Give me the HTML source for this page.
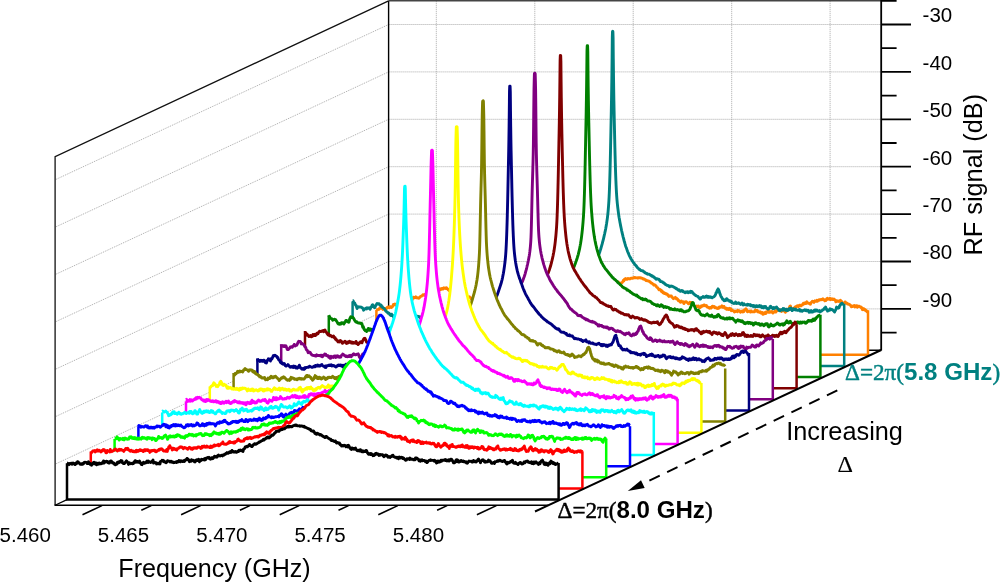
<!DOCTYPE html>
<html><head><meta charset="utf-8"><title>RF signal waterfall</title>
<style>
html,body{margin:0;padding:0;background:#fff}
svg{display:block}
text{font-family:"Liberation Sans",Arial,sans-serif}
.sy{font-family:"Liberation Serif","Times New Roman",serif;stroke-width:0.45;paint-order:stroke}
#tr path{stroke-linejoin:round;stroke-linecap:butt}
#tr .p{stroke-width:2.5;stroke-linejoin:miter;fill:none}
#tr .c{stroke-width:2.9;fill:none}
</style></head><body>
<svg width="1000" height="583" viewBox="0 0 1000 583">
<rect width="1000" height="583" fill="#fff"/>
<path d="M388.6,24.5H881.2M388.6,24.5L55.1,179.8M388.6,71.9H881.2M388.6,71.9L55.1,227.2M388.6,119.3H881.2M388.6,119.3L55.1,274.6M388.6,166.7H881.2M388.6,166.7L55.1,322.0M388.6,214.1H881.2M388.6,214.1L55.1,369.4M388.6,261.5H881.2M388.6,261.5L55.1,416.8M388.6,308.9H881.2M388.6,308.9L55.1,464.2M436.3,0.8V350M534.8,0.8V350M633.2,0.8V350M731.7,0.8V350M830.1,0.8V350" fill="none" stroke="#a0a0a0" stroke-width="0.9" stroke-dasharray="1 1"/>
<path d="M55.1,505.3V156.7L388.6,0.8" fill="none" stroke="#111" stroke-width="1.3"/><path d="M388.6,0.8V350" fill="none" stroke="#000" stroke-width="1.4"/><path d="M388.6,0.8H881.2" fill="none" stroke="#444" stroke-width="1.6"/><path d="M388.6,350.2H881.2" fill="none" stroke="#000" stroke-width="1.5"/><path d="M881.2,0V350.6M881.2,24.5H911M881.2,71.9H911M881.2,119.3H911M881.2,166.7H911M881.2,214.1H911M881.2,261.5H911M881.2,308.9H911M881.2,0.8H896.6M881.2,48.2H896.6M881.2,95.6H896.6M881.2,143.0H896.6M881.2,190.4H896.6M881.2,237.8H896.6M881.2,285.2H896.6M881.2,332.6H896.6" fill="none" stroke="#000" stroke-width="1.8"/>
<g id="tr">
<path d="M376.4,354.8l0-44.4 2.4-.4 2.4-.6 2.4-.6 2.4-.7 2.4-.8 2.4-.7 2.4-.7 2.4-.7 2.4-.6 2.4-.7 2.4-.7 2.4-.8 2.4-.7 2.4-.8 2.4-.8 2.4-.8 2.4-.9 2.4-1 2.4-1 2.4-1.1 2.4-1 2.4-1.1 2.4-1 2.4-1 2.4-1 2.4-.7 2.4-.7 2.4-.4 2.4,.2 2.4,.6 2.4,.6 2.4,.9 2.4,1.1 2.4,1 2.4,1.1 2.4,1.1 2.4,1 2.4,1.1 2.4,.9 2.4,.9 2.4,.9 2.4,.9 2.4,.8 2.4,.8 2.4,.7 2.4,.7 2.4,.5 2.4,.5 2.4,.5 2.4,.4 2.4,.5 2.4,.4 2.4,.4 2.4,.4 2.4,.3 2.4,.3 2.4,.2 2.4,.2 2.4,.1 2.4,0 2.4,0 2.4,0 2.4,0 2.4,0 2.4,0 2.4,0 2.4,0 2.4,0 2.4,0 2.4,0 2.4,0 2.4,0 2.4,0 2.4,0 2.4,0 2.4,0 2.4,0 2.4-.1 2.4-.2 2.4-.2 2.4-.3 2.4-.4 2.4-.4 2.4-.5 2.4-.5 2.4-.6 2.4-.6 2.4-.6 2.4-.6 2.4-.7 2.4-.9 2.4-1.1 2.4-1.2 2.4-1.3 2.4-1.4 2.4-1.6 2.4-2.1 2.4-2.3 2.4-2.3 2.4-2.2 2.4-1.8 2.4-1.6 2.4-1.4 2.4-1.1 2.4-.9 2.4-.8 2.4-.6 2.4-.2 2.4,.1 2.4,.3 2.4,.5 2.4,.7 2.4,1.1 2.4,1.3 2.4,1.7 2.4,2.3 2.4,2.4 2.4,2.1 2.4,1.6 2.4,1.5 2.4,1.4 2.4,1.2 2.4,1.2 2.4,1.2 2.4,1 2.4,.9 2.4,.8 2.4,.7 2.4,.7 2.4,.7 2.4,.6 2.4,.6 2.4,.5 2.4,.5 2.4,.4 2.4,.5 2.4,.4 2.4,.4 2.4,.4 2.4,.4 2.4,.3 2.4,.3 2.4,.3 2.4,.3 2.4,.3 2.4,.3 2.4,.3 2.4,.3 2.4,.2 2.4,.2 2.4,.2 2.4,.2 2.4,.2 2.4,.1 2.4,.2 2.4,.2 2.4,.1 2.4,.1 2.4,.1 2.4,.1 2.4,0 2.4,0 2.4-.2 2.4-.1 2.4-.3 2.4-.3 2.4-.3 2.4-.3 2.4-.4 2.4-.3 2.4-.6 2.4-.6 2.4-.7 2.4-.8 2.4-.9 2.4-.8 2.4-.8 2.4-.7 2.4-.6 2.4-.7 2.4-.7 2.4-.5 2.4-.4 2.4-.3 2.4-.3 2.4-.2 2.4-.1 2.4,.1 2.4,.2 2.4,.2 2.4,.3 2.4,.3 2.4,.4 2.4,.4 2.4,.5 2.4,.6 2.4,.8 2.4,.9 2.4,1 2.4,.9 2.4,.9 2.4,.8 2.4,.7 2.4,.7 2,.6 0,44.1z" fill="#fff"/>
<path class="p" d="M376.4,310V354.8H868V310.3" stroke="#ff8000"/>
<path class="c" d="M376.4,310.1l.5-.4 .5,0 .5,.1 .5-.5 .5,0 .5-.7 .5-.8 .5,.6 .5-.1 .5-.3 .5,.3 .5,.4 .5,.7 .5-.5 .5-.5 .5,.8 .5-.6 .5,.5 .5-.5 .5,.1 .5-1 .5,.3 .5-.9 .5-.2 .5,0 .5,.8 .5-.9 .5-.2 .5,0 .5,.9 .5-.5 .5-.4 .5-.7 .5-1.5 .5,.3 .5-.3 .5-.3 .5,.9 .5,0 .5-.1 .5-.3 .5,.2 .5-.9 .5-1 .5,1.6 .5-1 .5,.5 .5,.5 .5-1.4 .5,.1 .5,.5 .5-1 .5-.6 .5,.2 .5-.6 .5,.2 .5-.5 .5-.3 .5,1 .5-.4 .5,.3 .5-.5 .5-.1 .5-1 .5-.9 .5-1.2 .5,.1 .5,1.3 .5,0 .5-.4 .5,.9 .5-1.2 .5-.6 .5-1 .5-.2 .5,.5 .5,0 .5-.1 .5-.7 .5,.9 .5,.1 .5-.1 .5,.3 .5,.1 .5,.1 .5-.8 .5-.1 .5-.9 .5-.2 .5-.1 .5-.6 .5,0 .5-.8 .5,.3 .5-.4 .5,.6 .5-.8 .5,.6 .5-.1 .5-.9 .5,0 .5-.6 .5-.9 .5,1 .5-.2 .5-.4 .5,0 .5,.3 .5,.1 .5-.2 .5-.5 .5,0 .5-.8 .5-.6 .5,.3 .5-.3 .5,.5 .5-.4 .5,.2 .5-.6 .5-.4 .5-.8 .5,0 .5-.4 .5-.4 .5,.9 .5-1 .5,.8 .5-.9 .5,.4 .5-.7 .5,.1 .5,.4 .5-1 .5-.2 .5,.4 .5,.1 .5-.1 .5,.3 .5-.7 .5,.6 .5,.3 .5,.7 .5,.3 .5,.7 .5-.6 .5,.7 .5-.2 .5,.5 .5,.4 .5,0 .5,.1 .5-.1 .5,.2 .5,.4 .5,.8 .5,.2 .5-.5 .5,1 .5,.2 .5-.5 .5-.4 .5,1 .5-.7 .5-.1 .5,.1 .5-1.2 .5,.8 .5,.7 .5,1.1 .5,.3 .5,.8 .5-.3 .5,.3 .5-.1 .5-1.1 .5,1.3 .5,.3 .5,.8 .5,.8 .5,.2 .5-.6 .5,.3 .5-.3 .5-.1 .5-.1 .5,.5 .5,.4 .5,.7 .5,.6 .5-.9 .5,.1 .5,.6 .5-.2 .5,0 .5,0 .5,0 .5,.6 .5-.9 .5,1.1 .5-1 .5,.1 .5,.1 .5,.1 .5,.7 .5,1.7 .5,.7 .5-1 .5,1 .5-.2 .5-.2 .5,1.4 .5,.7 .5-.7 .5,.5 .5,.3 .5-.3 .5,.1 .5,.1 .5-.9 .5,.7 .5,.7 .5-.7 .5,.6 .5-.2 .5,.5 .5-.3 .5,0 .5-.2 .5-.1 .5,.7 .5-.2 .5,.3 .5-1 .5,1.3 .5-1.4 .5,.1 .5,.1 .5,1.7 .5,.6 .5,.4 .5,1.4 .5-.4 .5-.1 .5-1 .5,.2 .5,.8 .5-.9 .5,.4 .5,.4 .5-1.4 .5-.5 .5,1 .5,.9 .5,.3 .5-.7 .5,.6 .5,.3 .5,.2 .5,0 .5-.4 .5,.1 .5,.1 .5,.5 .5-.4 .5,.9 .5-.5 .5,1.4 .5-.6 .5-.3 .5,.3 .5-1.8 .5-.3 .5,.4 .5-1.1 .5-.4 .5,.9 .5-1.2 .5,.5 .5,.3 .5,.9 .5,.1 .5,.5 .5-.1 .5,1 .5,.7 .5-.8 .5,1 .5-.2 .5,.6 .5-1.7 .5,.2 .5-.1 .5,0 .5,.1 .5-.4 .5-.1 .5-.4 .5-.5 .5-.4 .5,1 .5,.7 .5,.7 .5,.3 .5-1.1 .5,.5 .5,.2 .5,.1 .5,0 .5-.9 .5-.8 .5,.2 .5-.3 .5,0 .5-.1 .5,.8 .5-.6 .5,.6 .5-.5 .5,1.1 .5-.3 .5-.3 .5,1.1 .5,.3 .5-.2 .5,.3 .5,.5 .5-.5 .5-.7 .5,1.2 .5-.2 .5,.2 .5-.9 .5,.5 .5,.1 .5-.7 .5,1.4 .5-.6 .5,0 .5-.2 .5-.9 .5-1.4 .5,.3 .5,.3 .5,.7 .5-.3 .5-.3 .5,.3 .5,.6 .5-.3 .5-.4 .5-.7 .5-.1 .5-.5 .5-.4 .5-.1 .5-.1 .5,0 .5,.3 .5-.1 .5-.4 .5,1.2 .5,.9 .5,1.4 .5-.4 .5,.8 .5-.8 .5-1.6 .5-.4 .5,.1 .5,.6 .5-.7 .5,.1 .5-.8 .5-.3 .5,1.4 .5,.9 .5,.7 .5-.4 .5,.1 .5,.4 .5-.6 .5,.6 .5-1.4 .5-.2 .5-.3 .5,.5 .5-.3 .5,.6 .5,.4 .5,.3 .5,.3 .5-.8 .5-1.9 .5-.4 .5-1 .5,.5 .5,2.1 .5,.5 .5,.4 .5,0 .5-.1 .5-1.1 .5,0 .5,.2 .5-.4 .5-1.2 .5-.1 .5,.8 .5-1.7 .5,.2 .5-.5 .5,.7 .5-.2 .5,.2 .5-1.9 .5,1 .5-1 .5,.8 .5-.5 .5,.7 .5-.7 .5-.7 .5,1 .5-1.1 .5,.3 .5,.6 .5-.7 .5-.5 .5-.7 .5-.2 .5,.5 .5,.3 .5,.9 .5,.7 .5-.5 .5-1.1 .5,.4 .5-1.4 .5-.4 .5,0 .5-.8 .5,.5 .5-1 .5,.7 .5-1 .5-.2 .5-.2 .5-1 .5,0 .5-.6 .5,0 .5,.1 .5-.5 .5-.1 .5-.5 .5,.7 .5-.5 .5,.2 .5-1.3 .5,.2 .5-.2 .5-1.3 .5-1.2 .5,.3 .5-.9 .5-.7 .5-.2 .5-1 .5,.1 .5-.4 .5-.8 .5,.2 .5-.7 .5,.1 .5-.7 .5-.8 .5-2.1 .5-.2 .5-.9 .5-.3 .5-.5 .5-.4 .5-1 .5,1.2 .5,.4 .5,.1 .5,.4 .5-.9 .5-.6 .5,0 .5-.5 .5-.8 .5-1.1 .5,.6 .5-1.5 .5-.2 .5-.6 .5,.6 .5-.2 .5,.4 .5-.2 .5-.7 .5,.1 .5,.2 .5,0 .5,.2 .5-.5 .5-.2 .5,0 .5-.1 .5,.2 .5-.4 .5,0 .5-.4 .5-.2 .5,.4 .5,.1 .5-.2 .5,.1 .5,.1 .5-.1 .5,.4 .5-.4 .5,0 .5-.2 .5,.1 .5,0 .5,.3 .5,0 .5,.3 .5,.1 .5,.2 .5,.5 .5-.2 .5,.5 .5,.1 .5,.2 .5,.8 .5-.3 .5,.4 .5,.2 .5,.1 .5,.1 .5,.3 .5,0 .5,.5 .5,.3 .5,.8 .5,0 .5,.3 .5,.4 .5,.4 .5,.1 .5,1 .5-.4 .5,.4 .5,.3 .5,.3 .5,1 .5,.5 .5,.3 .5,.6 .5,.6 .5,1 .5-.4 .5,.1 .5,.4 .5,.6 .5,1 .5-.5 .5,.7 .5,1.2 .5-.7 .5,1.1 .5,.3 .5,.1 .5-.4 .5,.9 .5,.1 .5-.2 .5,.3 .5,1 .5,.4 .5,.7 .5-.2 .5-.4 .5,.1 .5,.1 .5-.1 .5,1.3 .5,.4 .5,.3 .5,.7 .5-.5 .5-.1 .5,0 .5-.6 .5,.8 .5,.7 .5-.4 .5,.7 .5,.3 .5,1.2 .5-.2 .5,.5 .5,.4 .5,.8 .5-.7 .5-.4 .5,.3 .5,.6 .5-.1 .5-.1 .5,1.7 .5-1 .5-.3 .5-.1 .5-.5 .5,.2 .5,.5 .5,.4 .5,.1 .5,.9 .5,0 .5-.7 .5-.8 .5,.6 .5-.4 .5,.3 .5,.1 .5,1.2 .5-.1 .5,1.6 .5,.1 .5,.5 .5,0 .5,.4 .5,.9 .5-.5 .5-.9 .5,.2 .5,.5 .5-.7 .5,.6 .5,.4 .5,.8 .5-1.1 .5,.2 .5-1.1 .5,.6 .5-.2 .5-.7 .5,.2 .5-.8 .5,.1 .5,.8 .5-.3 .5,.4 .5-.4 .5,1.3 .5,.5 .5-.2 .5,0 .5,.4 .5,.8 .5-.1 .5-.7 .5,.6 .5-.1 .5-1.1 .5-.7 .5,0 .5,.6 .5,.4 .5-.6 .5,1.1 .5,0 .5,0 .5,0 .5,.6 .5-.3 .5,.5 .5-.5 .5,.1 .5-1.2 .5,.3 .5,.1 .5-.5 .5-.3 .5-.6 .5,1.4 .5,.1 .5,0 .5-1 .5,1.1 .5,.8 .5,0 .5-.3 .5,1.3 .5,.1 .5-.8 .5,.4 .5-.1 .5,.5 .5-1.1 .5,.1 .5,.5 .5,.2 .5,1.6 .5-.9 .5,.8 .5,0 .5,0 .5,.7 .5,.8 .5-.9 .5,.4 .5-.4 .5-.1 .5-.4 .5,1 .5-1.4 .5,.7 .5-.1 .5-.1 .5,.7 .5,.7 .5-.6 .5,0 .5-.4 .5-.3 .5,1 .5-1.2 .5,.8 .5-1.4 .5-.3 .5-.4 .5-.7 .5,.8 .5,.9 .5,1.3 .5,0 .5-.4 .5-.2 .5,.1 .5,.2 .5,.5 .5-1 .5,.8 .5,0 .5,.2 .5-.3 .5,.2 .5-.3 .5,.3 .5-.4 .5-1.4 .5,1 .5-.1 .5-.5 .5,.2 .5,1.3 .5,0 .5-.2 .5,.6 .5,.2 .5-.6 .5,1.1 .5-.3 .5,.5 .5-.7 .5,1.8 .5-.4 .5-.1 .5-.7 .5-.2 .5-.6 .5,1.2 .5-1.5 .5,.1 .5-.2 .5-.9 .5,.6 .5,.7 .5-.8 .5,.7 .5-.3 .5-.3 .5,.3 .5-.4 .5,1 .5,.5 .5-.6 .5-.2 .5-.1 .5-.9 .5,.3 .5,.5 .5-1.4 .5,.2 .5-.4 .5-.1 .5-.4 .5,0 .5-.4 .5,.6 .5,.2 .5,.2 .5,.9 .5-.7 .5-.2 .5-.3 .5,.5 .5-1.1 .5,1.1 .5,.9 .5,.5 .5-.7 .5-.4 .5,0 .5-.7 .5,0 .5-1.4 .5-.2 .5-1.2 .5-1.3 .5-.3 .5,2.5 .5,.5 .5,1 .5-.6 .5,.3 .5-.9 .5-.9 .5-.1 .5-.4 .5-.5 .5,.5 .5-.7 .5-.6 .5-.3 .5,.1 .5,.8 .5-.7 .5-.6 .5,0 .5,.2 .5,.4 .5-1 .5,.2 .5-.1 .5-.5 .5-1.2 .5,.4 .5-.6 .5,.6 .5-.8 .5,.6 .5-.3 .5-1.4 .5,.7 .5,.7 .5,.1 .5,.1 .5-.1 .5,.8 .5,.1 .5-1.2 .5-.7 .5-.5 .5-.6 .5,.5 .5-.2 .5,.9 .5-.9 .5-.6 .5,.4 .5,.1 .5-.1 .5-1 .5,.9 .5-.6 .5-.4 .5-.4 .5,.4 .5-.5 .5,.1 .5-.3 .5,0 .5,.3 .5-.5 .5-.5 .5,1 .5,0 .5-.1 .5,1.1 .5-.5 .5,.2 .5-1.2 .5-.8 .5-.2 .5,.9 .5-.4 .5,.3 .5-.1 .5-.6 .5,1.3 .5-.9 .5,.5 .5-.6 .5,.5 .5,.4 .5-.4 .5-.2 .5,.6 .5,.2 .5,.9 .5,1.1 .5-1.1 .5,.2 .5,.3 .5,.1 .5-.3 .5,.5 .5-.1 .5-.3 .5-.8 .5,1.5 .5-.6 .5,1.4 .5,.9 .5-.6 .5,.3 .5,.3 .5-.7 .5-.8 .5,0 .5,1.1 .5-.1 .5,.2 .5,.8 .5-.3 .5,.3 .5,.4 .5,.1 .5,.3 .5,.5 .5,.8 .5,.5 .5-.5 .5,.4 .5-.3 .5-.2 .5,.3 .5-.8 .5,1.4 .5-.8 .5,.6 .5-1.1 .5,0 .5,1.7 .5-.5 .5-.7 .5,.1 .5,.2 .5,.5 .5-.1 .5,.3 .5,.8 .5-.1 .5,1.9 .5-1.1 .5,1 .5-.8 .5,.8 .5,.5 .5-.3 .5,.9 .5,.3 .5,.6 .5-.8 .5-.4" stroke="#ff8000"/>
<path class="p" d="M352.6,301.4V365.9H844.2V303.8" stroke="#008080"/>
<path class="c" d="M352.6,300.7l.5,0 .5,1.2 .5,1 .5,0 .5,1.2 .5,1.2 .5,.1 .5,1.6 .5,1.5 .5-1.2 .5-.6 .5,.4 .5-.1 .5,0 .5,0 .5,.1 .5,0 .5,.3 .5,.4 .5,.3 .5,.7 .5,1.4 .5-.8 .5-.4 .5,.1 .5-.8 .5,.5 .5,.2 .5-1.2 .5,.3 .5,.1 .5-.3 .5-.1 .5,.3 .5,1.2 .5-1.4 .5-.8 .5-.5 .5-1.3 .5-.6 .5,1.3 .5,.9 .5-.8 .5,1.6 .5-.6 .5-1.4 .5-.9 .5-.3 .5-1 .5,.4 .5,.2 .5-.4 .5,0 .5,1 .5,.2 .5,.7 .5-.6 .5,1.9 .5-.6 .5,1 .5,.5 .5,.2 .5,.5 .5,.5 .5,.9 .5,.9 .5,.6 .5,.2 .5,.5 .5,.2 .5,.9 .5-.1 .5,.1 .5,.9 .5,1 .5,0 .5,.4 .5-1.3 .5,1.3 .5-.2 .5,1.1 .5,.3 .5,1.2 .5,.8 .5-.7 .5-.9 .5-.8 .5-.4 .5-.3 .5-.9 .5,1.4 .5-1.2 .5,.6 .5-.2 .5,0 .5,.7 .5-.2 .5,1.1 .5-1.4 .5,.8 .5-.7 .5,.7 .5,1.9 .5-.3 .5,0 .5-.4 .5,.2 .5-.3 .5,.4 .5-1.7 .5-.1 .5,1 .5,.3 .5,.8 .5-1.2 .5-1 .5,.8 .5-.3 .5,.2 .5,.2 .5-1.5 .5,.8 .5-.9 .5,0 .5,.1 .5,.6 .5,.4 .5,.7 .5,0 .5-.8 .5,.1 .5,.1 .5,.4 .5,0 .5,1 .5,.2 .5,0 .5-1.3 .5-.6 .5-1.3 .5,1.3 .5-.5 .5-.8 .5,.5 .5-.1 .5-.8 .5,1.2 .5,.5 .5,.3 .5-.7 .5,0 .5,.8 .5-.2 .5-.7 .5-.7 .5-.1 .5-1.3 .5-.6 .5,1.3 .5,0 .5,.5 .5,1.2 .5,1.3 .5-.9 .5-.6 .5-.4 .5,1.7 .5-2.4 .5,1.7 .5-1 .5-.2 .5-.2 .5-.1 .5,.1 .5-1.4 .5,.2 .5,.6 .5-2.8 .5,.7 .5-.7 .5,1.4 .5-.7 .5,.4 .5,.4 .5,1.1 .5,.8 .5-.2 .5,1.2 .5,0 .5-.9 .5,.4 .5-.5 .5-.1 .5-1.2 .5-.1 .5,.2 .5-1 .5,.6 .5,.2 .5-.1 .5,1.5 .5,0 .5,.3 .5-1.3 .5-1.3 .5,.5 .5-1 .5,.6 .5,.1 .5,0 .5-1.3 .5-.2 .5,1.2 .5,.8 .5-.3 .5,.6 .5-.7 .5,0 .5-.1 .5-.4 .5,.5 .5-.1 .5,.6 .5-.7 .5,.3 .5-.9 .5,.2 .5-.8 .5-.2 .5,1.5 .5,.3 .5,.7 .5-.2 .5-.8 .5-.2 .5-.1 .5-1.4 .5,1.1 .5-1.1 .5,1.4 .5,1.3 .5-2.2 .5,.6 .5,1.2 .5-.5 .5,.2 .5-.3 .5,.5 .5-.7 .5-.8 .5-.1 .5-.4 .5,.5 .5-1.1 .5,1.5 .5-.4 .5,1.2 .5-.2 .5-1.1 .5,1.2 .5-.6 .5,.3 .5,.6 .5-.3 .5-.2 .5-.2 .5-.8 .5-.2 .5,.1 .5-.6 .5-1.2 .5-.5 .5-1.1 .5-.9 .5,.6 .5,.2 .5-.1 .5,.5 .5,.2 .5,.3 .5-.1 .5,.1 .5-.7 .5,.3 .5-.3 .5,.2 .5-1 .5,.9 .5-.3 .5,.8 .5-.3 .5,.5 .5-.6 .5-1.1 .5,1.6 .5-1.3 .5-.4 .5,.4 .5-.3 .5-.1 .5,1.1 .5-.2 .5,.8 .5,0 .5-.2 .5-.3 .5-.3 .5-.2 .5,.5 .5-1.9 .5,0 .5-.2 .5,.4 .5-.1 .5-.3 .5,0 .5,.9 .5-1 .5-.9 .5,2.2 .5-1.2 .5-.1 .5-.2 .5-1.1 .5,.7 .5-.9 .5-.5 .5,.7 .5,.2 .5-.2 .5-.2 .5-1.3 .5,.7 .5-1.2 .5,.8 .5-.7 .5,.4 .5,1.2 .5-1.1 .5,.4 .5-.3 .5-.9 .5,1 .5-.2 .5-1.3 .5,.3 .5-.8 .5,.3 .5,.5 .5-.5 .5-.6 .5,.1 .5,.3 .5-.1 .5,.1 .5,.1 .5-1.2 .5,.6 .5,.2 .5-.4 .5-.8 .5-.3 .5-.1 .5-.2 .5-.6 .5,.4 .5-.2 .5-1 .5,.3 .5-.5 .5-.6 .5-.1 .5,0 .5-1.1 .5,.9 .5,.8 .5,0 .5,.5 .5,.3 .5-.8 .5-.3 .5,.2 .5-1 .5-.2 .5-.1 .5,.2 .5-.7 .5-.4 .5-.3 .5,.1 .5-.9 .5,.4 .5-.5 .5-.6 .5,.6 .5-.2 .5-.8 .5,.3 .5-.2 .5-.4 .5-.7 .5,.7 .5-1 .5-.4 .5-.3 .5-.2 .5-.2 .5-.5 .5,.2 .5-.4 .5-.1 .5,.3 .5-.3 .5-.8 .5-.2 .5-.4 .5-.8 .5-.4 .5-.6 .5-.4 .5,.3 .5-.4 .5-.6 .5,.4 .5-.2 .5,.2 .5-.2 .5-.6 .5-1.3 .5,.2 .5-.5 .5-.2 .5-.2 .5-.4 .5,0 .5-.8 .5-.1 .5-.9 .5-.3 .5-.6 .5,.3 .5-.5 .5-.2 .5-.1 .5,.2 .5-.9 .5,0 .5-.3 .5-.3 .5-.4 .5-.5 .5,0 .5-.5 .5-.5 .5-.3 .5-.1 .5-.3 .5-.3 .5-.6 .5-.6 .5,0 .5-.9 .5-.2 .5-.1 .5-.6 .5,0 .5-.3 .5-.4 .5-.5 .5-.4 .5-.4 .5-.4 .5-.1 .5-.8 .5-.2 .5-.4 .5-.3 .5-.3 .5-.4 .5-.6 .5-1 .5-1 .5-1 .5-.8 .5-.7 .5-.8 .5-1 .5-.7 .5-1.3 .5-1.1 .5-1.3 .5-1.4 .5-1.5 .5-1.3 .5-1.6 .5-1.5 .5-1.8 .5-1.7 .5-1.7 .5-2 .5-1.9 .5-2 .5-2.1 .5-2.2 .1-.5 .2-1 .2-.9 .2-.9 .2-1 .1-.5 .1-.5 .2-1.2 .2-1.1 .2-1.2 .2-1.2 .1-.6 .1-.7 .2-1.3 .2-1.4 .2-1.4 .2-1.6 .1-.8 .1-.9 .2-1.9 .2-2.1 .2-2.3 .2-2.4 .1-1.3 .1-1.4 .2-3.1 .2-3.6 .2-4.5 .2-5.1 .1-2.9 .1-2.8 .2-6.5 .2-7.3 .2-8.3 .2-9 .1-4.9 .1-4.8 .2-10 .2-10.2 .2-9.8 .2-10.8 .1-6.2 .1-6 .2-14.2 .2-16.7 .2-20.1 .2-5.6 .1-.1 .1,.1 .2,0 .2,6.1 .2,20.9 .2,16.7 .1,6.9 .1,7 .2,11.9 .2,10.4 .2,9.3 .2,9.4 .1,4.6 .1,4.5 .2,8.5 .2,7.9 .2,7.3 .2,6.7 .1,3 .1,3 .2,5.2 .2,4.7 .2,4.1 .2,3.5 .1,1.6 .1,1.4 .2,2.7 .2,2.4 .2,2.1 .2,1.9 .1,.9 .1,.9 .2,1.7 .2,1.6 .2,1.6 .2,1.5 .1,.7 .1,.7 .2,1.4 .2,1.3 .2,1.1 .2,1.1 .1,.5 .1,.6 .2,1.1 .2,1.1 .2,1.1 .2,1 .1,.5 .1,.5 .4,1.9 .5,2.5 .5,2.1 .5,2.2 .5,2 .5,1.8 .5,2.1 .5,1.6 .5,1.9 .5,1.7 .5,1.4 .5,1.3 .5,1.5 .5,1.4 .5,1.2 .5,1.1 .5,1.3 .5,1.1 .5,.8 .5,1 .5,1 .5,.8 .5,.8 .5,.7 .5,.8 .5,.6 .5,.6 .5,.9 .5,.5 .5,.5 .5,.7 .5,.5 .5,.7 .5,.6 .5,.3 .5,.7 .5,.6 .5,0 .5,.6 .5,.3 .5,.4 .5,.1 .5,.1 .5,0 .5,.1 .5,.8 .5,0 .5,.7 .5,.5 .5,0 .5,.4 .5,.5 .5-.3 .5,.7 .5-.1 .5,.1 .5-.1 .5,.5 .5,0 .5,.6 .5,0 .5,.7 .5,.3 .5-.2 .5,.7 .5,.4 .5-.1 .5,.8 .5,.6 .5,.1 .5,.8 .5-.5 .5,0 .5,.3 .5,0 .5,0 .5,.5 .5,.8 .5,.1 .5,1.1 .5-.1 .5,.2 .5,.2 .5,.1 .5,.7 .5-.1 .5,.5 .5,.5 .5,.5 .5,.4 .5,0 .5,.7 .5,.2 .5,0 .5,.2 .5,.1 .5,.7 .5,.3 .5-.6 .5,.2 .5-.3 .5,.3 .5-.1 .5,.3 .5,.2 .5,.3 .5,.3 .5,.3 .5,.3 .5,.1 .5,.7 .5-.3 .5,.9 .5,0 .5,.7 .5,.3 .5-.5 .5,1 .5,.5 .5,0 .5-.1 .5-.8 .5,.6 .5-.2 .5,.9 .5,0 .5,.3 .5,0 .5,.8 .5-.7 .5-.1 .5,.2 .5-.5 .5,.2 .5,.8 .5-.8 .5,.1 .5,.2 .5,.2 .5-1.1 .5,.3 .5-.1 .5,.3 .5,1.2 .5,0 .5,.9 .5,.3 .5,.4 .5,.4 .5,.1 .5,.6 .5,.3 .5,.2 .5,0 .5,.7 .5,.5 .5,.4 .5,.8 .5,.5 .5-.1 .5-1.3 .5-.2 .5-.1 .5-.1 .5-.8 .5,.7 .5,.2 .5-.1 .5-.2 .5-.5 .5,.3 .5-.9 .5,1.1 .5-.4 .5,.7 .5-.9 .5,.9 .5-.1 .5-.4 .5-.1 .5,.8 .5-.2 .5,.3 .5-.6 .5,0 .5-.2 .5-.2 .5-.7 .5-.5 .5-1.3 .5-1.5 .5,0 .5-2 .5-1 .5-.8 .5,1.1 .5,.9 .5,2 .5,1.2 .5,1.4 .5,1.1 .5,.6 .5,.9 .5,1.2 .5-.1 .5,.7 .5,.8 .5-.3 .5-.4 .5,.5 .5-.5 .5-1.3 .5,.3 .5,1 .5,.4 .5,0 .5,.2 .5,.7 .5-.4 .5,.7 .5,.3 .5-.4 .5,1.2 .5,.3 .5,.2 .5-.1 .5,.3 .5-.4 .5,.2 .5-1.1 .5,.6 .5,.9 .5-.3 .5-.1 .5,.1 .5-.5 .5,.2 .5,.8 .5-.1 .5,.7 .5-.5 .5,.2 .5-1 .5,1 .5,.9 .5-.7 .5-.4 .5,.8 .5,.1 .5,.1 .5-.1 .5,.3 .5,.1 .5-.9 .5,.4 .5-.2 .5,.6 .5-.1 .5-.4 .5,1.2 .5-.5 .5-.1 .5,.7 .5-.1 .5,.7 .5-1 .5,.1 .5,.4 .5,.9 .5-.2 .5-.8 .5-.2 .5,.8 .5-.4 .5,.5 .5-.4 .5-.3 .5-.4 .5,1.1 .5-.7 .5,.1 .5,1.4 .5,.2 .5-.9 .5,.4 .5,.7 .5-1.4 .5,.5 .5,.4 .5-.9 .5,1.1 .5,.7 .5-.1 .5,.8 .5,.2 .5-.5 .5-.1 .5-.6 .5-1.4 .5-.2 .5,.6 .5,.6 .5,.5 .5,.1 .5,.6 .5-1.2 .5,.9 .5-.6 .5,.2 .5-.4 .5-.2 .5-.4 .5,1.1 .5,.2 .5,.6 .5,.8 .5,.7 .5-.3 .5,.7 .5-1 .5-.1 .5,.2 .5,.1 .5,.1 .5-1.5 .5,1.4 .5-1.3 .5,.6 .5,.5 .5,.5 .5-.9 .5-.2 .5,1.4 .5-.2 .5-.5 .5,.1 .5-1.2 .5,.8 .5-1 .5,.7 .5-1.2 .5,1.5 .5,1 .5-.7 .5-.1 .5-1 .5,.9 .5-.3 .5-.1 .5-.2 .5,1 .5-.3 .5,.4 .5,.2 .5-.3 .5-.1 .5,.3 .5-.8 .5,1.5 .5-.9 .5,.4 .5,.7 .5,.1 .5-.4 .5-.4 .5-.3 .5,.1 .5-.5 .5,.6 .5-.4 .5,.8 .5-.9 .5,.5 .5,.4 .5-.6 .5,.4 .5,1.7 .5-1.2 .5,.9 .5-1 .5-.5 .5,1.5 .5-.1 .5,.2 .5-.6 .5-.5 .5-.6 .5,.8 .5-1.3 .5,1.2 .5-.7 .5-.4 .5,.2 .5,.9 .5,.1 .5,0 .5-.1 .5-.5 .5,1.3 .5-.7 .5,0 .5-.3 .5-.3 .5-.8 .5,.1 .5-.6 .5-.4 .5-1 .5,1.2 .5-2 .5,1.3 .5,.7 .5,.9 .5,1.1 .5-.6 .5-.1 .5-.7 .5,.6 .5-1.5 .5,.4 .5,.2 .5,.1 .5-.1 .5,.6 .5,.4 .5,.3 .5,.7 .5,.5 .5-1.3 .5-.5 .5-1.4 .5-1.6 .5,.4 .5,.3 .5,.4 .5-.2 .5-.4 .5-1.9 .5-.2 .5-1.3 .5-.3 .5-.3 .5-.4 .5,1 .5,.1 .5,.2 .5-.6" stroke="#008080"/>
<path d="M328.8,377.1l0-61.3 2.4,2.9 2.4,1.7 2.4,1.1 2.4,.9 2.4,.7 2.4,.5 2.4-.6 2.4-2.1 2.4-3.1 2.4,.6 2.4,2.2 2.4,2 2.4,2.1 2.4,2.1 2.4,2.2 2.4,1.4 2.4,.3 2.4,.1 2.4,.1 2.4,0 2.4,0 2.4,0 2.4-.2 2.4-.4 2.4-.4 2.4-.1 2.4,.1 2.4,0 2.4,.1 2.4,0 2.4,0 2.4,0 2.4,0 2.4,0 2.4,0 2.4,0 2.4-.2 2.4-.1 2.4-.2 2.4-.1 2.4-.2 2.4-.1 2.4-.2 2.4-.2 2.4-.2 2.4-.2 2.4-.2 2.4-.3 2.4-.2 2.4-.3 2.4-.3 2.4-.4 2.4-.3 2.4-.4 2.4-.4 2.4-.4 2.4-.4 2.4-.5 2.4-.4 2.4-.5 2.4-.4 2.4-.5 2.4-.5 2.4-.4 2.4-.5 2.4-.6 2.4-.5 2.4-.6 2.4-.6 2.4-.6 2.4-.6 2.4-.7 2.4-.7 2.4-.7 2.4-.8 2.4-.7 2.4-.9 2.4-.8 2.4-.9 2.4-1 2.4-1 2.4-1 2.4-1.1 2.4-1.2 2.4-1.2 2.4-1.2 2.4-1.4 2.4-1.4 2.4-1.5 2.4-1.6 2.4-1.7 2.4-1.7 2.4-1.8 2.4-1.8 2.4-2 2.4-2.1 2.4-2.3 2.4-2.5 2.4-2.7 2.4-3 2.4-3.4 2.4-4.4 2.4-6 2.4-8.1 .8-3.4 .2-.9 .2-.9 .2-1 .2-1.1 .2-1.1 .2-1.1 .2-1.2 .2-1.3 .2-1.3 .2-1.3 .2-1.5 .2-1.5 .2-1.6 .2-1.8 .2-1.8 .2-1.9 .2-2.1 .2-2.2 .2-2.4 .2-2.6 .2-2.7 .2-3.2 .2-3.9 .2-4.5 .2-5.2 .2-6 .2-6.8 .2-7.6 .2-8.5 .2-9.1 .2-9.9 .2-10.2 .2-10.3 .2-9.7 .2-10.6 .2-12 .2-13.9 .2-16.2 .2-18.7 .2-4.9 .2,0 .2,0 .2,5.5 .2,19.5 .2,16.1 .2,13.6 .2,11.6 .2,10.2 .2,9.3 .2,9.4 .2,9.3 .2,8.8 .2,8.2 .2,7.5 .2,6.8 .2,6.1 .2,5.5 .2,4.8 .2,4.2 .2,3.6 .2,3.2 .2,2.7 .2,2.6 .2,2.4 .2,2.2 .2,2.1 .2,2 .2,1.9 .2,1.7 .2,1.7 .2,1.6 .2,1.5 .2,1.4 .2,1.4 .2,1.3 .2,1.3 .2,1.2 .2,1.1 .2,1.1 .2,1.1 .2,1 .6,2.8 .8,3.4 2.4,8 2.4,5.8 2.4,4.2 2.4,3.4 2.4,2.9 2.4,2.6 2.4,2.6 2.4,2.4 2.4,2.4 2.4,2.1 2.4,2 2.4,1.8 2.4,1.6 2.4,1.5 2.4,1.4 2.4,1.4 2.4,1.3 2.4,1.3 2.4,1.3 2.4,1.3 2.4,1.1 2.4,1.1 2.4,1 2.4,.9 2.4,.8 2.4,.8 2.4,.8 2.4,.7 2.4,.6 2.4,.6 2.4,.6 2.4,.6 2.4,.5 2.4,.5 2.4,.4 2.4,.3 2.4,0 2.4-.7 2.4-2.7 2.4-5.5 2.4,5.2 2.4,4.3 2.4,1.8 2.4,.9 2.4,.7 2.4,.5 2.4,.4 2.4,.4 2.4,.4 2.4,.3 2.4,.4 2.4,.3 2.4,.3 2.4,.2 2.4,.3 2.4,.3 2.4,.5 2.4,.5 2.4,.5 2.4,.5 2.4,.4 2.4,.5 2.4,.3 2.4,.4 2.4,.3 2.4,.3 2.4,.2 2.4,.3 2.4,.1 2.4,.2 2.4,.1 2.4,.1 2.4,0 2.4,0 2.4,0 2.4-.1 2.4-.1 2.4-.1 2.4-.2 2.4-.2 2.4-.1 2.4-.2 2.4-.2 2.4-.2 2.4-.2 2.4-.2 2.4-.4 2.4-.4 2.4-.4 2.4-1 2.4-1.5 2.4-2.2 2.4-1.6 .4-.1 0,61.9z" fill="#fff"/>
<path class="p" d="M328.8,315.4V377.1H820.4V314.8" stroke="#008000"/>
<path class="c" d="M328.8,315.2l.5,1.1 .5,.6 .5,1.4 .5,.2 .5,.2 .5-.1 .5,1 .5,.6 .5-.2 .5-.2 .5-.5 .5,0 .5,.2 .5,.4 .5,.8 .5,.8 .5,.8 .5,1 .5,.7 .5-.5 .5,.7 .5-.8 .5-.1 .5,.8 .5-1.2 .5-.2 .5,.5 .5-.6 .5,0 .5,1.5 .5-1.1 .5-.4 .5-.9 .5-1.1 .5-.2 .5,.2 .5,.7 .5,.5 .5,.2 .5,.3 .5-1.6 .5-2 .5-.9 .5-1.1 .5,.8 .5-.3 .5,.1 .5,0 .5,.9 .5,.3 .5,1.3 .5,.8 .5,.8 .5,0 .5,.8 .5-.4 .5,.6 .5,.4 .5,.2 .5,0 .5-.1 .5,.2 .5,.3 .5-.1 .5,.6 .5-.4 .5,1.7 .5,2.1 .5-.6 .5,1.7 .5,1.4 .5,.1 .5,.9 .5-.9 .5,1 .5,.6 .5-1.4 .5,0 .5-1.7 .5,1.2 .5,.5 .5-1.2 .5,0 .5,.2 .5,1.3 .5-.8 .5-.1 .5,2.2 .5-1 .5,1.3 .5-.9 .5,1.4 .5-.1 .5-1.5 .5-.6 .5-.4 .5-1.3 .5,1 .5,1.1 .5-1.4 .5,1.5 .5-.1 .5-.7 .5,.5 .5-.4 .5-.5 .5,.2 .5,0 .5-.3 .5,1 .5-.4 .5,0 .5,.8 .5-.6 .5,.5 .5-1 .5,.2 .5,.2 .5,.4 .5-1.2 .5-.1 .5-1.3 .5,0 .5,.2 .5-.8 .5,.1 .5,.7 .5-.5 .5,1.6 .5,.9 .5,.7 .5,1.3 .5-.4 .5-.5 .5-1 .5-.3 .5,.3 .5-1.6 .5,.2 .5-.9 .5-.7 .5,.8 .5-.4 .5,1.5 .5,1.3 .5-.9 .5,1.1 .5,.2 .5,1.5 .5-1.9 .5-.2 .5-.4 .5-.4 .5-.7 .5,.9 .5-.5 .5,.9 .5-.2 .5-.6 .5,.3 .5,.8 .5-.8 .5,.2 .5,.4 .5-.5 .5,.5 .5,.7 .5-.3 .5-1.4 .5,1.5 .5-.8 .5-.2 .5-.1 .5,.9 .5-.4 .5-.2 .5-.5 .5,.4 .5,.1 .5-1.3 .5,0 .5,.6 .5,.7 .5-.2 .5,.3 .5-.5 .5,.8 .5-.8 .5,0 .5,.4 .5-.7 .5,0 .5,.1 .5-.6 .5,.5 .5-1 .5-.7 .5-.3 .5-.2 .5,1.3 .5,.4 .5-.7 .5,0 .5-.7 .5,.8 .5,.8 .5-.7 .5,.5 .5,.1 .5-2.1 .5,.9 .5-.2 .5,0 .5-.6 .5,.7 .5-.5 .5,.9 .5-.1 .5-1.5 .5-.2 .5,.5 .5,.2 .5,.2 .5,.5 .5-1.3 .5,.1 .5-.3 .5-.3 .5-.6 .5,.3 .5-.1 .5,1 .5-.7 .5-.6 .5,1.6 .5,.1 .5-.2 .5,.1 .5,.2 .5,1.1 .5-1 .5,.9 .5-.6 .5-1 .5,0 .5-.9 .5-1.3 .5,1.2 .5,0 .5,.8 .5-.1 .5,.3 .5-.2 .5,.3 .5-.1 .5,0 .5,.7 .5,.4 .5,.3 .5-.7 .5,.2 .5-.5 .5,0 .5,.7 .5-1.1 .5,.3 .5-2.4 .5-.1 .5,.3 .5,.3 .5-.9 .5,.8 .5-.6 .5-.9 .5,.3 .5,.1 .5-.7 .5,1.2 .5-.2 .5,.8 .5,.6 .5-.7 .5,.1 .5-2 .5,.5 .5-1.9 .5,1.7 .5-.5 .5,1.1 .5,.4 .5-.8 .5-.5 .5,.5 .5-1.4 .5,.6 .5-.5 .5-.2 .5-.2 .5,1 .5-1.5 .5,.7 .5,.7 .5,.4 .5,.4 .5-.3 .5-1.1 .5,.3 .5,.2 .5,0 .5-.7 .5,1 .5,.4 .5-1 .5,0 .5-.2 .5-.1 .5,.2 .5-.1 .5-.2 .5-.1 .5-.1 .5-.6 .5-.5 .5-.6 .5-.1 .5,.1 .5-.8 .5,.2 .5-.2 .5-.2 .5,.1 .5-.3 .5-.8 .5-.4 .5,.2 .5-.5 .5,.3 .5,.3 .5-.4 .5-.7 .5,1.2 .5-.7 .5,0 .5-.4 .5,.6 .5-1.5 .5,.5 .5-.1 .5,0 .5-.3 .5,.2 .5,.1 .5-.9 .5,.4 .5-.2 .5-1.1 .5-.2 .5-.2 .5,.7 .5-.9 .5,.2 .5-.4 .5,1.3 .5-.5 .5,.3 .5,.2 .5-.7 .5-1.1 .5,.2 .5-.2 .5-.7 .5-.3 .5-.2 .5,.5 .5-.4 .5-.5 .5,.5 .5-.1 .5-.9 .5-.7 .5,.6 .5,.1 .5-.8 .5-.5 .5-.7 .5-.6 .5-.1 .5,.3 .5-.2 .5,.6 .5-.2 .5,.2 .5-1.3 .5,.4 .5,.3 .5-.2 .5,0 .5,.5 .5-.3 .5,.1 .5-.8 .5-.2 .5-.5 .5-.5 .5-.5 .5-.6 .5-.1 .5-.7 .5,.4 .5-.6 .5,.3 .5,.1 .5,.6 .5-.5 .5-1.3 .5-.9 .5-.3 .5-.8 .5,0 .5-.3 .5-.3 .5-.8 .5,0 .5,0 .5-.1 .5-.4 .5-.1 .5,0 .5-1.1 .5,0 .5-.3 .5-.7 .5-.1 .5,0 .5-.5 .5,0 .5-.6 .5-.2 .5-1.4 .5,.1 .5-.7 .5,.3 .5-.1 .5-.2 .5-.5 .5-.6 .5-.8 .5-.2 .5-.6 .5-.4 .5-.9 .5-.5 .5-.5 .5-.4 .5-.2 .5-.3 .5-.2 .5-.2 .5-.4 .5-.8 .5-.1 .5-.6 .5-.8 .5,.2 .5-.7 .5-.7 .5-.1 .5-1.1 .5,.3 .5-1 .5-.5 .5-.6 .5-.5 .5-.7 .5-.5 .5-.8 .5-.4 .5-.7 .5-.8 .5-.4 .5-.7 .5-.7 .5-.5 .5-.9 .5-.8 .5-.7 .5-1.1 .5-.9 .5-1.1 .5-1.1 .5-1.1 .5-1.4 .5-1.2 .5-1.5 .5-1.3 .5-1.6 .5-1.5 .5-1.7 .5-1.7 .5-2.1 .5-2.1 .1-.4 .2-1 .2-1 .2-1.1 .2-1 .1-.6 .1-.6 .2-1.1 .2-1.3 .2-1.3 .2-1.3 .1-.7 .1-.8 .2-1.5 .2-1.7 .2-1.7 .2-1.8 .1-.9 .1-1 .2-2.1 .2-2.3 .2-2.3 .2-2.6 .1-1.4 .1-1.3 .2-3.2 .2-3.7 .2-4.6 .2-5.2 .1-3.1 .1-3 .2-6.9 .2-7.7 .2-8.5 .2-9.1 .1-5 .1-4.9 .2-10.3 .2-10.3 .2-9.7 .2-10.7 .1-6.1 .1-6 .2-13.8 .2-16.1 .2-18.7 .2-4.9 .1,0 .1,0 .2,0 .2,5.5 .2,19.6 .2,16.1 .1,6.8 .1,6.8 .2,11.5 .2,10.1 .2,9.3 .2,9.6 .1,4.6 .1,4.7 .2,8.8 .2,8.1 .2,7.6 .2,6.8 .1,3 .1,3.1 .2,5.4 .2,4.7 .2,4.3 .2,3.7 .1,1.6 .1,1.5 .2,2.8 .2,2.6 .2,2.5 .2,2.3 .1,1.1 .1,1 .2,2 .2,1.8 .2,1.9 .2,1.7 .1,.8 .1,.8 .2,1.4 .2,1.4 .2,1.4 .2,1.3 .1,.6 .1,.7 .2,1.2 .2,1.1 .2,1.1 .2,.9 .1,.5 .1,.5 .4,2 .5,2.1 .5,2.1 .5,1.9 .5,1.6 .5,1.7 .5,1.7 .5,1.2 .5,1.4 .5,1.3 .5,1.3 .5,1.3 .5,1 .5,.7 .5,1 .5,1 .5,.6 .5,.8 .5,.8 .5,.7 .5,.6 .5,.5 .5,.7 .5,.6 .5,.6 .5,.6 .5,.9 .5,.4 .5,.7 .5,.6 .5,.6 .5,.5 .5,.7 .5,.7 .5,.4 .5,.2 .5,.8 .5,.5 .5,.2 .5,.4 .5,.5 .5,.7 .5,.2 .5,.7 .5,.5 .5,.5 .5,.4 .5,.4 .5,.4 .5,.6 .5,.3 .5,.6 .5,.3 .5,.8 .5,.5 .5,0 .5,.7 .5,.1 .5,.2 .5,.3 .5,.2 .5,0 .5,1.2 .5-.2 .5,.1 .5,.8 .5,.3 .5,.1 .5,.1 .5,1 .5,.1 .5,.5 .5,.2 .5,.6 .5,.1 .5,.5 .5,.2 .5,.4 .5,.2 .5,.1 .5,.1 .5,.5 .5-.5 .5,.8 .5,.7 .5-.2 .5,.9 .5,.1 .5,.4 .5,.3 .5,.3 .5,.5 .5,0 .5-.4 .5,1.3 .5-.5 .5,0 .5,.4 .5,.1 .5-.9 .5,.8 .5-.3 .5,.9 .5,.5 .5,.3 .5-.1 .5-.1 .5,.2 .5,.1 .5,.3 .5,.1 .5,.6 .5,1 .5,.3 .5-.1 .5,.5 .5,.2 .5,.4 .5,.1 .5,.1 .5,.2 .5,.7 .5-.5 .5,.7 .5-1 .5,.8 .5,.2 .5,.1 .5,.6 .5-1.1 .5-.3 .5-.4 .5,1.4 .5-.8 .5,1.1 .5-.1 .5,1.2 .5-.8 .5,.2 .5-.3 .5,.4 .5,.5 .5-.6 .5,.3 .5,.2 .5,.1 .5,.2 .5,.7 .5,.7 .5,.2 .5-.8 .5,.3 .5,.4 .5,.3 .5-.1 .5,0 .5,.2 .5,.2 .5-1 .5,.7 .5,.3 .5,.2 .5-.1 .5-.4 .5,.2 .5,.4 .5,.1 .5,.2 .5,.3 .5-.8 .5,.4 .5-.6 .5,1.3 .5-.1 .5-.2 .5,.5 .5,.7 .5,0 .5-.2 .5,0 .5,0 .5-.5 .5-.2 .5,0 .5-.1 .5,0 .5-.5 .5-.6 .5-.4 .5-1.3 .5-1.2 .5-1.2 .5-1.9 .5-1.1 .5-.3 .5,.6 .5,1.8 .5,1.1 .5,1.1 .5,1.2 .5,1.4 .5,.5 .5,.2 .5,.5 .5-.5 .5-.2 .5,1.2 .5,0 .5,1.7 .5,.7 .5,.7 .5,.5 .5,0 .5,.4 .5-.3 .5,.4 .5-.1 .5,.2 .5,.4 .5-.7 .5,.1 .5-.9 .5,.3 .5-.8 .5,.8 .5,.3 .5,.7 .5,.4 .5-.2 .5-.2 .5,.6 .5-.5 .5-.9 .5,1.3 .5,.3 .5,.3 .5,.5 .5-.9 .5,.6 .5,.1 .5-.4 .5-.7 .5,.7 .5-1.5 .5-.5 .5-.3 .5,.7 .5,.9 .5,.1 .5,1.1 .5,.5 .5-.2 .5,.3 .5,.4 .5,.2 .5-.6 .5,.6 .5,.3 .5,.4 .5-.4 .5,.2 .5-.6 .5-.2 .5,1 .5-.9 .5-.2 .5,.3 .5,.5 .5-1 .5,.8 .5,.2 .5-.1 .5-.3 .5-.2 .5,.2 .5,.7 .5,.9 .5,.3 .5,.6 .5,.1 .5,1.2 .5-1.2 .5-.6 .5,.1 .5-.7 .5,.7 .5,.5 .5,0 .5-.6 .5,.4 .5,.7 .5-.6 .5,.7 .5-.7 .5,.8 .5,.8 .5-.2 .5,1.1 .5,.2 .5,.1 .5-.9 .5,0 .5-.1 .5,.3 .5-.8 .5,1 .5,.2 .5-.9 .5-.1 .5,.4 .5,.8 .5-.5 .5-.2 .5,.7 .5-.3 .5,1.8 .5-1.1 .5,.3 .5-1.2 .5,.3 .5-.7 .5,.8 .5,.4 .5-.1 .5-.2 .5,.6 .5-.7 .5,.2 .5,.9 .5,.7 .5-.5 .5,.2 .5-1.1 .5,.5 .5,0 .5,.5 .5,.8 .5-.5 .5-.1 .5-1.1 .5-.3 .5,0 .5-.1 .5,0 .5,2 .5,.9 .5,.5 .5-.3 .5-.7 .5-.9 .5-1.1 .5,1.6 .5-.5 .5,.3 .5,.4 .5,.2 .5-.2 .5-.9 .5,.3 .5-.4 .5-.4 .5-.4 .5-.2 .5-.9 .5,.5 .5,.2 .5,.5 .5,.8 .5,.2 .5-.1 .5-.8 .5,.2 .5,0 .5-.6 .5,.1 .5,1.3 .5-1.4 .5,.8 .5-.7 .5-1.2 .5-.3 .5-.4 .5-1.2 .5,1.7 .5-.2 .5-.3 .5,1 .5-.5 .5-.3 .5-1 .5,1.4 .5,.2 .5,.2 .5,.8 .5,1.2 .5-.6 .5,.1 .5-.3 .5-.4 .5-.1 .5-.3 .5-.5 .5,.1 .5-1 .5-.1 .5,.5 .5,.1 .5,.7 .5-1 .5-.3 .5,1.1 .5-.4 .5,.3 .5-.9 .5,.2 .5,0 .5-.1 .5-.1 .5,.9 .5-.5 .5,.9 .5-.4 .5-.4 .5-1 .5,0 .5-1.1 .5,.8 .5-.6 .5,.5 .5-.1 .5-.1 .5-.6 .5,1 .5-1.4 .5,.4 .5-1.2 .5,1.4 .5-.5 .5,.2 .5-1.8 .5,.6 .5-1.3 .5-.4 .5-.2 .5-.9 .5-.6 .5,.2 .5-.5 .5,.1 .5-.6" stroke="#008000"/>
<path d="M305,388.2l0-56.7 2.4,3.5 2.4,.9 2.4-.5 2.4-.7 2.4-.9 2.4-1.1 2.4-1 2.4-.7 2.4,.8 2.4,2 2.4,2.6 2.4,2.3 2.4,2 2.4,1.3 2.4,.4 2.4,.3 2.4,.2 2.4,0 2.4,0 2.4,0 2.4,0 2.4,0 2.4,0 2.4,0 2.4,0 2.4,.1 2.4,.1 2.4,.1 2.4,.1 2.4,0 2.4,.1 2.4,0 2.4,0 2.4,0 2.4,0 2.4-.1 2.4-.2 2.4-.2 2.4-.2 2.4-.2 2.4-.3 2.4-.2 2.4-.2 2.4-.2 2.4-.2 2.4-.3 2.4-.3 2.4-.2 2.4-.3 2.4-.3 2.4-.4 2.4-.3 2.4-.4 2.4-.4 2.4-.4 2.4-.4 2.4-.4 2.4-.5 2.4-.4 2.4-.5 2.4-.5 2.4-.5 2.4-.5 2.4-.6 2.4-.6 2.4-.7 2.4-.6 2.4-.7 2.4-.7 2.4-.8 2.4-.7 2.4-.8 2.4-.8 2.4-.8 2.4-.9 2.4-.8 2.4-.9 2.4-.9 2.4-1 2.4-1 2.4-1 2.4-1.1 2.4-1.2 2.4-1.2 2.4-1.3 2.4-1.4 2.4-1.5 2.4-1.6 2.4-1.7 2.4-1.8 2.4-2 2.4-2 2.4-2 2.4-2.3 2.4-2.3 2.4-2.6 2.4-2.8 2.4-3.3 2.4-3.6 2.4-4.2 2.4-4.9 2.4-6.4 2.4-8.8 .3-1.3 .2-.9 .2-.9 .1-.5 .1-.5 .2-1 .2-1 .2-1.1 .1-.5 .1-.6 .2-1.2 .2-1.3 .2-1.3 .1-.7 .1-.7 .2-1.4 .2-1.6 .2-1.7 .1-.9 .1-.9 .2-1.9 .2-2.1 .2-2.3 .1-1.2 .1-1.3 .2-2.7 .2-3.2 .2-3.7 .1-2.2 .1-2.3 .2-5.2 .2-6 .2-6.8 .1-3.7 .1-3.9 .2-8.4 .2-9.2 .2-9.9 .1-5.1 .1-5.2 .2-10.3 .2-9.8 .2-10.7 .1-5.9 .1-6.3 .2-14.1 .2-16.4 .2-19.3 .1-5.1 .1,0 .2,0 .2,0 .2,5.7 .1,10.5 .1,9.5 .2,16.4 .2,13.8 .2,11.8 .1,5.3 .1,5 .2,9.3 .2,9.5 .2,9.3 .1,4.5 .1,4.4 .2,8.1 .2,7.5 .2,6.8 .1,3.2 .1,2.9 .2,5.4 .2,4.8 .2,4.2 .1,1.9 .1,1.8 .2,3.1 .2,2.8 .2,2.5 .1,1.2 .1,1.2 .2,2.2 .2,2 .2,1.9 .1,.9 .1,.9 .2,1.7 .2,1.6 .2,1.5 .1,.8 .1,.7 .2,1.3 .2,1.3 .2,1.3 .1,.6 .1,.6 .2,1.1 .2,1.1 .2,1 .1,.5 .1,.5 .2,1 .5,2.2 2.4,8.5 2.4,5.8 2.4,4.4 2.4,3.8 2.4,3.6 2.4,3.5 2.4,3.2 2.4,2.9 2.4,2.7 2.4,2.4 2.4,2.1 2.4,1.9 2.4,1.8 2.4,1.6 2.4,1.5 2.4,1.5 2.4,1.3 2.4,1.3 2.4,1.2 2.4,1.1 2.4,1.1 2.4,1.1 2.4,.9 2.4,1 2.4,.9 2.4,.9 2.4,.8 2.4,.8 2.4,.8 2.4,.7 2.4,.8 2.4,.7 2.4,.6 2.4,.5 2.4,.5 2.4,.3 2.4,.2 2.4-.4 2.4-1.7 2.4-5.4 2.4,.9 2.4,5.9 2.4,2.5 2.4,1.2 2.4,.8 2.4,.6 2.4,.5 2.4,.5 2.4,.4 2.4,.5 2.4,.3 2.4,.4 2.4,.4 2.4,.3 2.4,.4 2.4,.3 2.4,.3 2.4,.3 2.4,.3 2.4,.3 2.4,.2 2.4,.3 2.4,.2 2.4,.3 2.4,.2 2.4,.2 2.4,.2 2.4,.1 2.4,.2 2.4,.1 2.4,.1 2.4,.1 2.4,0 2.4,.1 2.4,.1 2.4,0 2.4,.1 2.4,0 2.4,.1 2.4,0 2.4,0 2.4,.1 2.4,0 2.4,0 2.4,0 2.4-.1 2.4-.4 2.4-.7 2.4-.8 2.4-.9 2.4-1.4 2.4-2.3 2.4-2.1 2.4-2.3 2-.4 0,63.6z" fill="#fff"/>
<path class="p" d="M305,331.1V388.2H796.6V324.2" stroke="#800000"/>
<path class="c" d="M305,332.1l.5,.7 .5,.5 .5,1.9 .5-1.2 .5,1 .5,.4 .5,.5 .5,.7 .5-.3 .5-.4 .5-.3 .5,1 .5,.2 .5-1.3 .5,.7 .5-1.7 .5,.6 .5,.3 .5-.9 .5-.3 .5,1.4 .5-1.4 .5,.4 .5-1.3 .5,.4 .5,0 .5-1.2 .5-.4 .5-.8 .5,0 .5,.2 .5,.1 .5-.3 .5-.4 .5-.1 .5-.2 .5,1.1 .5-1 .5,.3 .5-.9 .5,1.1 .5,1 .5,.1 .5,1.3 .5,.2 .5,1 .5-1 .5,.8 .5,1.2 .5-.2 .5-.2 .5,.5 .5,.3 .5,.6 .5-.1 .5-.3 .5-.4 .5,1.3 .5,.8 .5-.5 .5,1.6 .5-.3 .5,1.2 .5,.4 .5,.2 .5,1.1 .5-.3 .5,.5 .5-.4 .5-.9 .5-.2 .5,.7 .5,.1 .5,1.6 .5,.4 .5-.9 .5,0 .5-.4 .5-.1 .5-.7 .5,1.3 .5-.4 .5,1.3 .5-1.1 .5,.8 .5-1.2 .5,.9 .5-.9 .5-.7 .5,1 .5-.4 .5,.3 .5,1 .5-1 .5,.1 .5,1 .5-.6 .5,.5 .5-.1 .5-.6 .5,.1 .5-1.1 .5,2.2 .5-.8 .5,.2 .5,1.6 .5-.4 .5-1.3 .5,.2 .5-.7 .5-.6 .5,.4 .5,.1 .5,.5 .5-2 .5-.2 .5-1.3 .5-.7 .5,.3 .5-.6 .5,1.1 .5,1 .5,1.8 .5,0 .5,.2 .5,.1 .5,.6 .5-.6 .5,.4 .5,.3 .5,.7 .5-.6 .5,0 .5,.9 .5-1.5 .5-.7 .5-.3 .5,1.3 .5,.6 .5,.9 .5-.1 .5,.3 .5-.1 .5-.1 .5-.9 .5,.3 .5,.3 .5-1.4 .5,.3 .5-.5 .5,.4 .5,0 .5,.5 .5,1.1 .5-.8 .5-.2 .5-2.1 .5-.1 .5-.6 .5,.9 .5,.9 .5-1.6 .5,.9 .5,.4 .5,.4 .5,.1 .5,.5 .5,1.1 .5-1.3 .5,.8 .5-.1 .5-1 .5,.5 .5,.8 .5,.9 .5-.9 .5-.1 .5,.2 .5,.6 .5-.3 .5-.1 .5-1.2 .5-.7 .5-.6 .5,.4 .5-.6 .5-.2 .5,.4 .5-.3 .5-1 .5,.9 .5-.3 .5,.7 .5-.3 .5,.8 .5-.8 .5-.6 .5-.4 .5,.5 .5,.4 .5,.5 .5,.5 .5-.3 .5-.7 .5,.4 .5-1.1 .5,.8 .5,.8 .5,0 .5,.8 .5,.2 .5-1.4 .5,.2 .5-.6 .5-.9 .5-.4 .5,.4 .5-1.3 .5,0 .5-.2 .5-.2 .5,.8 .5-.3 .5-.3 .5-.1 .5,.8 .5,.3 .5-.1 .5,0 .5,.2 .5-.3 .5,.7 .5-.1 .5-.7 .5-.2 .5-.4 .5-1.5 .5,.5 .5,.2 .5-.9 .5-.8 .5,.7 .5,.2 .5,1.5 .5,.8 .5,.8 .5-.1 .5-1.3 .5,1.1 .5-1.7 .5,.9 .5-.6 .5-.7 .5-.2 .5-.1 .5,.7 .5-1.3 .5,.3 .5-2 .5,1.3 .5,.2 .5,1.1 .5,.1 .5,.8 .5-1.5 .5,.1 .5-.8 .5,.1 .5-.2 .5-.7 .5,1.2 .5,.6 .5-1.1 .5,0 .5-1.1 .5-1.4 .5,0 .5-.6 .5,1.1 .5-.6 .5,.5 .5,1 .5,0 .5,.3 .5-.4 .5-.4 .5,1.1 .5-1.1 .5,.9 .5-.2 .5,.1 .5-2.2 .5,.5 .5-.5 .5,0 .5-.8 .5,1.5 .5-1 .5-1 .5,1.4 .5,.1 .5,0 .5,1 .5-.4 .5-.8 .5-.1 .5-.5 .5-.1 .5-.1 .5,.4 .5-.4 .5,.5 .5,.4 .5,.7 .5-1.7 .5-.3 .5,.6 .5,.4 .5-.4 .5-.9 .5,.8 .5-.3 .5-.5 .5-.5 .5,.4 .5-.2 .5-.1 .5-1.2 .5-.1 .5,.2 .5,.5 .5-.4 .5-.6 .5,.4 .5-1 .5-.3 .5-.4 .5-.7 .5-.3 .5,.3 .5-.4 .5-1.3 .5,1.2 .5-.3 .5-.6 .5,.6 .5,.3 .5,.2 .5-.7 .5-.2 .5-.1 .5,.5 .5-.9 .5,.2 .5-1 .5-.2 .5-.3 .5,.1 .5,.3 .5,1.2 .5-.6 .5,.4 .5,.1 .5-.6 .5,.3 .5-1.2 .5-.8 .5-.5 .5-1 .5-.1 .5-.3 .5,.3 .5-.7 .5,.1 .5-.4 .5-.3 .5-.4 .5,.4 .5-.1 .5-.4 .5-.3 .5,0 .5-.1 .5-.2 .5,.3 .5,.1 .5,.3 .5-.3 .5-.5 .5-.6 .5-.4 .5-.3 .5-.4 .5-.6 .5-.3 .5-.5 .5,0 .5,.3 .5,.1 .5-.5 .5-.2 .5,0 .5-.2 .5-1.2 .5,.7 .5-.3 .5-.3 .5,.2 .5-.5 .5-.8 .5-.1 .5-.3 .5-.3 .5-.3 .5-.9 .5-.3 .5-.5 .5-.8 .5-.4 .5-.2 .5-.3 .5,.4 .5-1 .5-.5 .5,.2 .5,.2 .5,0 .5-.7 .5-.1 .5-.8 .5-.1 .5-.8 .5-.6 .5,.4 .5-1 .5-.3 .5-.4 .5-.7 .5-.6 .5-.8 .5,.3 .5-.8 .5-.4 .5,0 .5-.4 .5-.5 .5-.3 .5-.9 .5-.5 .5-.3 .5-.6 .5,0 .5-.3 .5-.7 .5-.1 .5-.7 .5-.7 .5-.6 .5-.8 .5-.6 .5-.9 .5-.7 .5-.5 .5-.5 .5-.7 .5-.7 .5-.4 .5-.7 .5-.6 .5-.5 .5-.8 .5-.7 .5-.6 .5-.9 .5-.7 .5-1 .5-.8 .5-1.1 .5-.9 .5-1 .5-.8 .5-.8 .5-1.3 .5-.8 .5-1.3 .5-1.1 .5-1.3 .5-1.4 .5-1.4 .5-1.6 .5-1.5 .5-2 .5-1.8 .5-2 .5-2.1 .2-.9 .2-1 .1-.4 .1-.5 .2-1.1 .2-1.1 .2-.9 .2-1.1 .1-.5 .1-.7 .2-1.3 .2-1.4 .2-1.4 .2-1.4 .1-.8 .1-.8 .2-1.8 .2-1.9 .2-1.9 .2-2 .1-1.1 .1-1.2 .2-2.5 .2-2.7 .2-3.1 .2-3.8 .1-2.1 .1-2.4 .2-5.2 .2-6 .2-6.8 .2-7.6 .1-4.2 .1-4.2 .2-9.1 .2-9.8 .2-10.3 .2-10.3 .1-4.9 .1-4.9 .2-10.6 .2-12.1 .2-14.2 .2-16.5 .1-9.6 .1-9.6 .2-5.2 .2,0 .2,.1 .2,5.7 .1,10.6 .1,9.4 .2,16.4 .2,13.7 .2,11.9 .2,10.4 .1,4.7 .1,4.7 .2,9.4 .2,9.3 .2,8.8 .2,8.2 .1,3.7 .1,3.8 .2,6.7 .2,6.1 .2,5.4 .2,4.8 .1,2.1 .1,2.1 .2,3.6 .2,3.1 .2,2.8 .2,2.6 .1,1.2 .1,1.1 .2,2.2 .2,2.1 .2,1.9 .2,1.9 .1,.9 .1,.9 .2,1.6 .2,1.6 .2,1.4 .2,1.4 .1,.6 .1,.6 .2,1.2 .2,1 .2,1.3 .2,1.2 .1,.6 .1,.5 .2,.9 .2,.9 .5,2.1 .5,2 .5,1.9 .5,1.7 .5,1.4 .5,1.5 .5,1.6 .5,1.2 .5,1.4 .5,1 .5,.9 .5,1 .5,.9 .5,.7 .5,.7 .5,1 .5,.9 .5,.6 .5,1.1 .5,.7 .5,.9 .5,.7 .5,.8 .5,.6 .5,.9 .5,.7 .5,.8 .5,.5 .5,.8 .5,.6 .5,.8 .5,.6 .5,.6 .5,.7 .5,.5 .5,.6 .5,.7 .5,.8 .5,.5 .5,.7 .5,.5 .5,.9 .5,.5 .5,.6 .5,.4 .5,.3 .5,.5 .5,.6 .5,.4 .5,.3 .5,.5 .5,.1 .5,.3 .5,.7 .5,.2 .5,.1 .5,.8 .5,.4 .5,.7 .5,.5 .5,.3 .5,.8 .5,.6 .5,.7 .5-.2 .5,.5 .5,.3 .5-.2 .5,.4 .5,.9 .5-.2 .5,.4 .5,.5 .5-.1 .5,.7 .5,.1 .5,.3 .5,.2 .5-.2 .5,.8 .5,0 .5,0 .5-.3 .5,.2 .5,0 .5,1.2 .5,.9 .5,.6 .5,.7 .5,.1 .5-.4 .5-.6 .5,.5 .5,0 .5-.1 .5,.9 .5,.3 .5,.4 .5,0 .5,.4 .5,.6 .5,.3 .5-.2 .5,.3 .5,.8 .5-.3 .5,.2 .5,0 .5,.6 .5,.4 .5,.2 .5,.5 .5-.4 .5,.3 .5-.2 .5,.5 .5-.2 .5,.2 .5,.1 .5-.4 .5,1 .5,.3 .5,1 .5,.3 .5,.4 .5-.6 .5-.3 .5-.7 .5,.2 .5,.5 .5,.2 .5,.6 .5,.4 .5-.3 .5,.2 .5-.1 .5-.4 .5,.4 .5,.1 .5,.1 .5,.4 .5,.7 .5,.3 .5-.4 .5,0 .5-.4 .5,.8 .5,.2 .5-.1 .5,.7 .5,.1 .5-.6 .5,.1 .5,.3 .5,.2 .5,.7 .5-.2 .5,.5 .5,.3 .5,.5 .5,.1 .5,.4 .5,.1 .5-.2 .5,.2 .5,.5 .5-.4 .5,0 .5-.2 .5-.5 .5,.2 .5,.4 .5-.4 .5,.2 .5,0 .5-.2 .5-.4 .5-.1 .5,1.8 .5-.2 .5,.7 .5,.6 .5-.5 .5-.3 .5-.8 .5-.9 .5-.4 .5-1.1 .5-1.1 .5-.8 .5-.8 .5-.8 .5-1.2 .5-.2 .5-.8 .5,.1 .5,1.3 .5,.3 .5,2.4 .5,.9 .5,.4 .5,1.3 .5-.1 .5,.9 .5,.4 .5,.3 .5,.3 .5,.3 .5,.8 .5,.6 .5,.9 .5,1.1 .5-.7 .5,.3 .5-.2 .5-1.2 .5,.2 .5,.4 .5-.1 .5,.2 .5,1 .5-.3 .5,.7 .5-.4 .5,.5 .5-.6 .5,.5 .5,.8 .5-.2 .5,.7 .5-.4 .5-.1 .5,.2 .5,1.1 .5-.4 .5,0 .5,.4 .5,0 .5,1.2 .5-.8 .5,.5 .5-.3 .5-.1 .5-.3 .5,.3 .5-.5 .5,.4 .5,.1 .5-.6 .5,.5 .5,.9 .5-.3 .5-.6 .5-1 .5-.1 .5-.2 .5,1.5 .5-.2 .5,.3 .5,.6 .5,.6 .5,.8 .5-.3 .5,.6 .5,1.2 .5,0 .5-1.7 .5,.8 .5-1.2 .5-.5 .5,1.1 .5-.6 .5,.2 .5-.4 .5,.1 .5-.6 .5,.6 .5,.3 .5-.4 .5,.8 .5,.1 .5-1 .5,1.5 .5,.2 .5,0 .5,.7 .5,.8 .5-1.9 .5,.3 .5-.6 .5-.5 .5,.4 .5,.6 .5,0 .5-.4 .5,1.1 .5-.3 .5,.8 .5-1 .5,.3 .5-.7 .5,.7 .5,.2 .5,.3 .5,.5 .5,.7 .5-.7 .5,1.2 .5,.1 .5-.9 .5-.4 .5-1 .5-.9 .5,.7 .5,1 .5,1 .5,.6 .5,1.9 .5-1.3 .5,.2 .5-.2 .5-.9 .5-.1 .5-.7 .5-.6 .5,1.3 .5-1.1 .5-.7 .5,.7 .5,0 .5,.8 .5,.5 .5-.4 .5-1.1 .5-.3 .5,.8 .5,0 .5,0 .5,1.1 .5-.4 .5-.8 .5-.1 .5,1.1 .5-.8 .5,.6 .5-.4 .5,0 .5-2.1 .5,.5 .5-.7 .5,1.5 .5,.7 .5,1.5 .5-1.5 .5,.8 .5-.1 .5,1 .5-1.3 .5,.2 .5,.9 .5-.1 .5,.1 .5-.3 .5,.3 .5-.8 .5,.8 .5-.1 .5-.4 .5,.6 .5-1.1 .5-1 .5,.4 .5,.5 .5-.5 .5,1.1 .5-.7 .5-.2 .5,.1 .5,.8 .5-.6 .5-.3 .5,1.3 .5-.4 .5,1.1 .5-.1 .5-1.5 .5-.1 .5-.4 .5,.8 .5,.4 .5,.1 .5,.2 .5,1.1 .5,.3 .5-1.7 .5,0 .5-.3 .5,.2 .5-1 .5,1 .5-.2 .5,1.2 .5-.5 .5,.2 .5-.2 .5-.1 .5,.3 .5-1.4 .5,1.1 .5-.6 .5-.2 .5,.9 .5-.7 .5,.1 .5,.5 .5-1.1 .5,.8 .5-.1 .5,.5 .5-.5 .5-1.2 .5-.9 .5-.7 .5-.8 .5,1.5 .5-.4 .5,.3 .5-1.4 .5,.6 .5-.3 .5-.1 .5-1.2 .5,.6 .5-.2 .5,1 .5-1.4 .5,0 .5-.6 .5-1 .5,0 .5-.7 .5-.8 .5-.3 .5-.2 .5-.5 .5-.3 .5-1 .5-.6 .5-.2 .5-1.3 .5,.6 .5-1.1 .5-1.2 .5,.3 .5,.8 .5-.6" stroke="#800000"/>
<path d="M281.2,399.3l0-54.6 2.4,2.3 2.4,.9 2.4,.3 2.4-.7 2.4-1.2 2.4-1.4 2.4-2 2.4-.9 2.4,2 2.4,3 2.4,3.2 2.4,2.1 2.4,1.7 2.4,1.2 2.4,.5 2.4,.3 2.4,.2 2.4,.2 2.4,.1 2.4,.1 2.4,0 2.4,0 2.4,0 2.4,0 2.4-.1 2.4,0 2.4-.1 2.4-.1 2.4-.1 2.4-.2 2.4-.2 2.4-.2 2.4-.3 2.4-.1 2.4-.1 2.4-.1 2.4-.1 2.4-.2 2.4-.2 2.4-.1 2.4-.2 2.4-.3 2.4-.2 2.4-.2 2.4-.3 2.4-.2 2.4-.2 2.4-.2 2.4-.3 2.4-.2 2.4-.3 2.4-.4 2.4-.3 2.4-.4 2.4-.4 2.4-.4 2.4-.5 2.4-.5 2.4-.5 2.4-.5 2.4-.5 2.4-.5 2.4-.6 2.4-.6 2.4-.6 2.4-.6 2.4-.7 2.4-.7 2.4-.7 2.4-.8 2.4-.8 2.4-.9 2.4-.8 2.4-1 2.4-.9 2.4-1 2.4-1 2.4-1 2.4-1 2.4-1.1 2.4-1.2 2.4-1.2 2.4-1.2 2.4-1.4 2.4-1.4 2.4-1.5 2.4-1.6 2.4-1.8 2.4-1.9 2.4-2.1 2.4-2.3 2.4-2.5 2.4-2.6 2.4-2.7 2.4-2.8 2.4-3 2.4-3.3 2.4-3.7 2.4-4.2 2.4-5 2.4-6 2.4-7.7 .8-3.3 .2-.8 .2-.9 .2-.8 .2-.9 .2-.8 .2-.9 .2-.9 .2-.9 .2-1 .2-1 .2-1.1 .2-1.1 .2-1.3 .2-1.3 .2-1.5 .2-1.6 .2-1.9 .2-2.1 .2-2.4 .2-2.8 .2-3.8 .2-5.6 .2-7.2 .2-8.3 .2-9.1 .2-9.2 .2-8.1 .2-6.9 .2-6.6 .2-6.6 .2-7.1 .2-8.3 .2-11.5 .2-17 .2-20.5 .2-16.2 .2-8.6 .2-7.1 .2-.5 .2,0 .2,0 .2,.5 .2,7.1 .2,8.6 .2,16.2 .2,20.5 .2,17 .2,11.5 .2,8.6 .2,7.2 .2,6.7 .2,6.5 .2,6.5 .2,7.3 .2,7.8 .2,7.7 .2,7 .2,6.1 .2,4.9 .2,3.5 .2,2.7 .2,2.4 .2,2.1 .2,1.9 .2,1.7 .2,1.5 .2,1.4 .2,1.3 .2,1.2 .2,1.1 .2,1.1 .2,1 .2,1 .2,.9 .2,.9 .2,.9 .2,.9 .2,.9 .2,.8 .2,.9 .8,3 1.6,5 2.4,6 2.4,4.9 2.4,4.3 2.4,3.5 2.4,3.2 2.4,3.1 2.4,3 2.4,3.1 2.4,3.2 2.4,3.2 2.4,2.8 2.4,2.4 2.4,1.9 2.4,1.7 2.4,1.4 2.4,1.3 2.4,1.2 2.4,1.1 2.4,1.1 2.4,1 2.4,1 2.4,.9 2.4,1 2.4,.9 2.4,1 2.4,.9 2.4,.9 2.4,.8 2.4,.8 2.4,.8 2.4,.8 2.4,.7 2.4,.6 2.4,.6 2.4,.5 2.4,.4 2.4-.1 2.4-1.2 2.4-4.7 2.4-2.1 2.4,7 2.4,3.3 2.4,1.5 2.4,.9 2.4,.7 2.4,.5 2.4,.4 2.4,.4 2.4,.4 2.4,.3 2.4,.3 2.4,.3 2.4,.3 2.4,.3 2.4,.2 2.4,.3 2.4,.2 2.4,.3 2.4,.2 2.4,.2 2.4,.2 2.4,.2 2.4,.2 2.4,.2 2.4,.2 2.4,.4 2.4,.3 2.4,.3 2.4,.2 2.4,.3 2.4,.1 2.4,.2 2.4,.1 2.4,0 2.4,.1 2.4,.1 2.4,0 2.4,0 2.4,0 2.4,0 2.4,0 2.4-.1 2.4-.3 2.4-.3 2.4-.3 2.4-.4 2.4-.5 2.4-.6 2.4-.9 2.4-.9 2.4-1.2 2.4-2.1 2.4-1.6 2.4-.1 2,.4 0,59.9z" fill="#fff"/>
<path class="p" d="M281.2,344.3V399.3H772.8V339" stroke="#800080"/>
<path class="c" d="M281.2,344.5l.5,2 .5-.5 .5-.2 .5,0 .5,.7 .5-.8 .5-.1 .5,.8 .5-.7 .5,.7 .5,1.5 .5,1.5 .5-.3 .5,.5 .5-.4 .5-.8 .5-.3 .5-1.1 .5,0 .5-.4 .5,.1 .5,.5 .5-.6 .5-.8 .5,.3 .5-1.7 .5,1.3 .5,.2 .5-.8 .5,.1 .5,.1 .5-.9 .5-1.3 .5-1.1 .5-.8 .5,.3 .5-.1 .5,.1 .5,.5 .5,1.9 .5-.6 .5,.3 .5,.3 .5,.3 .5,.3 .5,.8 .5,1.1 .5,.7 .5,.2 .5,2.1 .5,.5 .5,.3 .5,1.2 .5,1.3 .5-1 .5,.5 .5,0 .5,.1 .5,1 .5,1.1 .5,.1 .5,.7 .5,.2 .5,0 .5,0 .5,.3 .5,.1 .5-.2 .5,.4 .5,.1 .5-1.3 .5,.8 .5-.1 .5,0 .5-.1 .5,.1 .5,0 .5,.4 .5-.7 .5,.8 .5-.7 .5,1.5 .5-.3 .5-1.2 .5,.1 .5-.3 .5-1.1 .5,.2 .5-.1 .5,1.5 .5-.4 .5,.6 .5-.2 .5,.3 .5,1.3 .5-.8 .5,1.3 .5,.6 .5,0 .5-2 .5,.6 .5,.2 .5,.1 .5,.2 .5-1.2 .5,.7 .5-1 .5,.8 .5,.9 .5-1.7 .5,.7 .5,.1 .5-.8 .5,1 .5-.6 .5,.6 .5,.4 .5-.5 .5,.4 .5-1.5 .5-.5 .5-.2 .5-.9 .5,.2 .5,.8 .5-.2 .5,.9 .5-.1 .5,.8 .5-.4 .5-.1 .5,.7 .5-.3 .5,.1 .5-.7 .5,.7 .5-.6 .5-.6 .5,.5 .5,.9 .5-.9 .5-.9 .5,.2 .5-1.1 .5-.2 .5,.2 .5,.5 .5,.3 .5,0 .5-.1 .5-.4 .5-.2 .5,.2 .5-.4 .5,.8 .5,2 .5,.6 .5,1 .5-.5 .5-.8 .5-.9 .5-.6 .5-1.5 .5,0 .5,.7 .5-1 .5,.4 .5-1.6 .5,.8 .5-.3 .5-.5 .5,.2 .5,.4 .5-.3 .5,1.1 .5,.1 .5,.3 .5,1.4 .5-.9 .5,.9 .5-.3 .5,.2 .5-1.4 .5-.4 .5,0 .5-1 .5,1 .5,.7 .5,0 .5-.1 .5,.2 .5,.5 .5,0 .5-.1 .5,.9 .5-.7 .5-.1 .5-.8 .5-1.1 .5-.1 .5,.3 .5-.8 .5-.8 .5,.6 .5-.3 .5-.3 .5,1 .5-1.2 .5,.3 .5,0 .5,.8 .5,.2 .5,.3 .5,0 .5,.5 .5-.2 .5-1.7 .5-.7 .5,0 .5-.9 .5-.3 .5,1.9 .5,0 .5,.8 .5,1.2 .5-.5 .5-.5 .5,.2 .5-.2 .5,0 .5-.3 .5,.9 .5,.2 .5-.4 .5-.3 .5-2.1 .5,1.1 .5-1.2 .5-.4 .5,1 .5-.7 .5-.2 .5,.8 .5-.7 .5,.5 .5-.9 .5,.2 .5,0 .5-.4 .5,.6 .5-.4 .5,.3 .5,.9 .5-.7 .5-.2 .5,.8 .5-1.5 .5,.5 .5-.3 .5,.7 .5,0 .5,.3 .5,.7 .5,.3 .5,.2 .5-2.5 .5,.4 .5-.3 .5-.9 .5-.1 .5-.8 .5,.6 .5-.5 .5,.8 .5-1.3 .5,1 .5-.4 .5,1.2 .5-.9 .5,.5 .5-.9 .5-.2 .5,.9 .5-.4 .5-.2 .5,0 .5-.8 .5-.3 .5-.2 .5-1.1 .5-.3 .5,1 .5-.1 .5-.1 .5,.2 .5,.2 .5-.7 .5-.1 .5,.1 .5,.4 .5-1 .5,.1 .5,1 .5-.1 .5-.4 .5,.9 .5-.4 .5,.3 .5,0 .5-.6 .5,.3 .5-.8 .5,.3 .5-2.1 .5,.1 .5-.2 .5,.2 .5-.4 .5-.2 .5,.1 .5-.1 .5,.6 .5-.8 .5,.2 .5,.1 .5-.3 .5-1 .5-.5 .5,.7 .5-1.6 .5,0 .5,.7 .5-.1 .5-.2 .5-.5 .5,.4 .5,.1 .5-.7 .5,.8 .5-1.1 .5-.7 .5,.1 .5-.4 .5,0 .5-.2 .5,.1 .5,.3 .5-.3 .5-.2 .5-.7 .5-.2 .5,.3 .5,.1 .5-.3 .5-.5 .5-.8 .5,.4 .5,.4 .5,.4 .5-.3 .5,.2 .5-.7 .5-.8 .5-1.3 .5-.1 .5-.6 .5,.4 .5,.7 .5,0 .5,.3 .5-.4 .5-.8 .5-.4 .5-1.1 .5,.1 .5-.2 .5-.2 .5,1.3 .5-1.5 .5,.3 .5-1 .5-.1 .5-.7 .5-.4 .5,.9 .5-.6 .5,0 .5,.5 .5-.9 .5,.1 .5,.1 .5-.2 .5-1.8 .5,.5 .5-.1 .5-.9 .5-.3 .5-.1 .5-.2 .5,.1 .5-.6 .5,0 .5,0 .5-.5 .5-.4 .5-.6 .5-.2 .5-.1 .5-.4 .5-.4 .5-1 .5,.3 .5-.7 .5-.5 .5,.1 .5-.6 .5-.3 .5-.1 .5-.6 .5-.4 .5-.3 .5,0 .5-.3 .5-.7 .5,.7 .5-.5 .5-.5 .5-.4 .5-.7 .5-.4 .5-.7 .5-.7 .5-.2 .5-.6 .5-.5 .5-.5 .5-.7 .5-.5 .5-1 .5-.8 .5-.3 .5-.4 .5,0 .5-.8 .5-.1 .5-.6 .5-.8 .5-.1 .5-.8 .5-.6 .5-.6 .5-.6 .5-.8 .5-.4 .5-.7 .5-.5 .5-.3 .5-.7 .5-.6 .5-.6 .5-.7 .5-.7 .5-.7 .5-.5 .5-.9 .5-.8 .5-.5 .5-.7 .5-.9 .5-.7 .5-.6 .5-.9 .5-1.2 .5-.8 .5-1.1 .5-1 .5-1.1 .5-.7 .5-1.1 .5-1.2 .5-1.3 .5-1.1 .5-1.1 .5-1.4 .5-1.4 .5-1.3 .5-1.5 .5-1.6 .5-1.9 .5-1.8 .5-2.1 .1-.5 .2-.8 .2-.9 .2-.8 .2-.9 .1-.4 .1-.5 .2-.9 .2-.9 .2-.9 .2-1.1 .1-.5 .1-.5 .2-1.1 .2-1.1 .2-1.3 .2-1.3 .1-.8 .1-.7 .2-1.7 .2-1.9 .2-2 .2-2.4 .1-1.3 .1-1.4 .2-3.9 .2-5.5 .2-7.1 .2-8.2 .1-4.5 .1-4.6 .2-9.2 .2-8.1 .2-6.8 .2-6.6 .1-3.3 .1-3.3 .2-7.1 .2-8.3 .2-11.5 .2-16.9 .1-10.3 .1-10.3 .2-16.2 .2-8.7 .2-7.1 .2-.5 .1,0 .1,0 .2,0 .2,.5 .2,7.1 .2,8.6 .1,8.1 .1,8.1 .2,20.4 .2,16.9 .2,11.6 .2,8.6 .1,3.6 .1,3.6 .2,6.6 .2,6.5 .2,6.7 .2,7.4 .1,4 .1,3.9 .2,7.7 .2,7.1 .2,6 .2,4.9 .1,1.8 .1,1.8 .2,2.7 .2,2.3 .2,2.2 .2,1.8 .1,.9 .1,.8 .2,1.5 .2,1.4 .2,1.3 .2,1.2 .1,.5 .1,.6 .2,1.1 .2,1.1 .2,.9 .2,.9 .1,.5 .1,.5 .2,.9 .2,.8 .2,.8 .2,.8 .1,.4 .1,.4 .4,1.4 .5,2 .5,1.5 .5,1.7 .5,1.3 .5,1.5 .5,1.3 .5,1.2 .5,1.2 .5,1.2 .5,.9 .5,1 .5,1 .5,1.1 .5,1 .5,1 .5,.6 .5,.9 .5,.9 .5,.7 .5,.8 .5,1 .5,.5 .5,.8 .5,.8 .5,.7 .5,.5 .5,.7 .5,.6 .5,.9 .5,.6 .5,.4 .5,.8 .5,.5 .5,.7 .5,.3 .5,.7 .5,.6 .5,.7 .5,.6 .5,.6 .5,.6 .5,.8 .5,.5 .5,.8 .5,.7 .5,.5 .5,.8 .5,.6 .5,1 .5,1.2 .5,.5 .5,1.2 .5,.4 .5,.8 .5,.5 .5,.1 .5,.4 .5,.5 .5,.7 .5,.1 .5,.8 .5,.2 .5,.5 .5,.3 .5,.1 .5,.7 .5,.3 .5,.5 .5,1 .5,.4 .5-.1 .5,0 .5-.2 .5,.5 .5-.4 .5,.4 .5,.6 .5,.7 .5,.1 .5,.5 .5,.1 .5,.5 .5,.2 .5,.4 .5-.2 .5,1 .5-.2 .5-.1 .5,.7 .5-.2 .5,.7 .5,0 .5,.5 .5,.2 .5,.1 .5,.3 .5,.2 .5-.6 .5,.6 .5,.3 .5-.4 .5,.4 .5,.2 .5,.2 .5,1 .5-.1 .5,.3 .5,.6 .5,.3 .5,1.1 .5-.5 .5-.6 .5,1.1 .5-.3 .5-.1 .5,.1 .5-.2 .5,1.1 .5-.3 .5,.1 .5,1 .5,0 .5-.3 .5,0 .5,0 .5,.8 .5-.9 .5,.2 .5,.8 .5,.4 .5-.3 .5,1.2 .5-.1 .5-.6 .5-.1 .5-.3 .5,.2 .5,.1 .5,.5 .5,.7 .5,.1 .5,.3 .5,.7 .5,0 .5,.5 .5,.5 .5-.4 .5-.6 .5,.2 .5,.5 .5-.4 .5,.5 .5,.2 .5-.5 .5,.5 .5,.3 .5,.5 .5,.3 .5,.6 .5,0 .5,.2 .5,.6 .5-.2 .5,.7 .5-.4 .5-.9 .5-.2 .5,.3 .5-.1 .5,.1 .5-.8 .5,.4 .5,1.5 .5,0 .5,.8 .5,.3 .5,.2 .5-.9 .5,.3 .5-1.4 .5,.5 .5,.5 .5-.9 .5-.1 .5,.5 .5-1.4 .5,.6 .5-1.1 .5-1.2 .5,0 .5-2.4 .5-1 .5-1.2 .5-.4 .5-.2 .5,1.2 .5,1.6 .5,1.3 .5,1.6 .5,.1 .5,1.9 .5,.5 .5,.6 .5,.6 .5,.3 .5,.5 .5,1.1 .5,.6 .5,.5 .5,.3 .5,.4 .5,.2 .5,.2 .5-1.9 .5,.1 .5,.7 .5,.7 .5,1.1 .5,.9 .5,0 .5-.3 .5-.1 .5,0 .5-.8 .5-.1 .5,.6 .5,0 .5,1 .5-.7 .5-.2 .5,.3 .5,.1 .5-.9 .5,.7 .5-.2 .5,.6 .5-.2 .5,.4 .5,.4 .5-.7 .5,.1 .5-.4 .5,.8 .5,.3 .5-.3 .5,.2 .5,0 .5-.2 .5,.1 .5-.3 .5,0 .5,.4 .5,.3 .5,.2 .5-.9 .5,.7 .5-.2 .5-.3 .5-.5 .5,.3 .5,1.3 .5,1 .5-.2 .5,1 .5-1.1 .5-.3 .5-.8 .5-.6 .5,.8 .5,.6 .5,.4 .5,.1 .5-.2 .5,1 .5-.8 .5,.2 .5-.2 .5,.7 .5,0 .5,.6 .5,.1 .5,.4 .5-1 .5-.8 .5,.5 .5-.1 .5,1.1 .5-.6 .5,1.5 .5-.2 .5,.3 .5,.5 .5-.9 .5,.5 .5-.3 .5-.6 .5-.2 .5-.3 .5-.6 .5,1 .5,.3 .5,.9 .5,.9 .5-.7 .5-.8 .5-.8 .5-1.2 .5,1.1 .5-.4 .5,1.5 .5-.1 .5,.2 .5,.7 .5-.3 .5-1 .5,0 .5,.1 .5,.5 .5-1.2 .5,1.1 .5,.4 .5-1.1 .5,.4 .5,.5 .5-.7 .5,.6 .5,0 .5,.4 .5,.8 .5-.7 .5,.4 .5,.6 .5,0 .5-.7 .5,.6 .5-.2 .5-.3 .5,.2 .5,.6 .5-1.2 .5-.4 .5-.2 .5-.5 .5,.5 .5-.1 .5-.4 .5,.9 .5-1 .5,0 .5,.5 .5-.5 .5,.5 .5,1 .5-.7 .5,.7 .5,.1 .5,.3 .5-.4 .5,.5 .5,.8 .5-.3 .5,.2 .5,1.1 .5,.2 .5,.2 .5-.5 .5-1 .5-.8 .5-1 .5,.2 .5,.1 .5-.1 .5-.2 .5,.9 .5-.2 .5,.5 .5,.5 .5,.4 .5-.2 .5-.4 .5,.1 .5-1.1 .5,.1 .5-.2 .5-.2 .5-.3 .5,.6 .5,.1 .5,.9 .5,.6 .5,.1 .5-1.7 .5,1.3 .5-1.3 .5-.7 .5,.8 .5-.8 .5,0 .5,.6 .5-.5 .5,1.2 .5,1 .5-.1 .5,.9 .5,.3 .5-.4 .5-2 .5,1 .5-.6 .5,.2 .5-.4 .5,0 .5,0 .5,.1 .5-.2 .5-.6 .5-.8 .5-.9 .5,.7 .5-.1 .5,.8 .5,.5 .5,.3 .5-.8 .5,.7 .5-1 .5-1 .5,.5 .5-.4 .5,.6 .5,.3 .5-.8 .5-.4 .5-1.1 .5-.8 .5,.9 .5-.4 .5-.3 .5-.2 .5,0 .5-1 .5-.7 .5-.6 .5,0 .5-.9 .5,.3 .5-1.5 .5,.5 .5-.6 .5,0 .5,0 .5,.3 .5,.4 .5-1.4 .5,.6 .5,0 .5-.7 .5,1 .5-.1" stroke="#800080"/>
<path d="M257.4,410.5l0-51 2.4,1.4 2.4,.8 2.4,.5 2.4-.4 2.4-1.4 2.4-1.6 2.4-2.1 2.4-.4 2.4,3 2.4,3.2 2.4,1.9 2.4,1 2.4,.7 2.4,.4 2.4,.2 2.4,.1 2.4,.2 2.4,.1 2.4,.1 2.4,.1 2.4,.1 2.4,0 2.4,0 2.4,0 2.4-.1 2.4-.2 2.4-.1 2.4-.2 2.4-.3 2.4-.2 2.4-.2 2.4-.2 2.4-.2 2.4-.1 2.4-.2 2.4,.1 2.4,0 2.4,.1 2.4,0 2.4,0 2.4-.1 2.4,0 2.4-.1 2.4-.1 2.4-.1 2.4-.1 2.4-.3 2.4-.2 2.4-.3 2.4-.3 2.4-.3 2.4-.4 2.4-.3 2.4-.4 2.4-.4 2.4-.5 2.4-.4 2.4-.5 2.4-.5 2.4-.5 2.4-.5 2.4-.6 2.4-.5 2.4-.6 2.4-.6 2.4-.6 2.4-.7 2.4-.8 2.4-.7 2.4-.8 2.4-.9 2.4-.8 2.4-.9 2.4-1 2.4-.9 2.4-1 2.4-1 2.4-1 2.4-1.1 2.4-1.1 2.4-1.2 2.4-1.2 2.4-1.3 2.4-1.4 2.4-1.5 2.4-1.5 2.4-1.6 2.4-1.8 2.4-1.9 2.4-2 2.4-2.1 2.4-2.4 2.4-2.5 2.4-2.7 2.4-2.9 2.4-3.1 2.4-3.6 2.4-4 2.4-4.7 2.4-5.7 2.4-6.8 1.6-5.3 .5-2 .2-.8 .1-.4 .1-.4 .2-.9 .2-.9 .2-1 .1-.5 .1-.5 .2-1.1 .2-1.1 .2-1.1 .1-.6 .1-.7 .2-1.3 .2-1.4 .2-1.5 .1-.7 .1-.8 .2-1.7 .2-1.9 .2-2 .1-1.1 .1-1.1 .2-2.4 .2-2.8 .2-3.4 .1-1.9 .1-2 .2-4.5 .2-5.2 .2-5.8 .1-3.1 .1-3.4 .2-7.2 .2-7.9 .2-8.6 .1-4.5 .1-4.6 .2-9.6 .2-9.6 .2-9.2 .1-4.9 .1-5.2 .2-11.6 .2-13.3 .2-15.7 .1-9 .1-9.8 .2-5.1 .2,0 .2,0 .1,0 .1,5.5 .2,19.1 .2,15.7 .2,13.2 .1,5.8 .1,5.5 .2,9.9 .2,9 .2,9.2 .1,4.6 .1,4.5 .2,8.7 .2,8.1 .2,7.4 .1,3.5 .1,3.3 .2,6.1 .2,5.4 .2,4.8 .1,2.2 .1,2 .2,3.7 .2,3.2 .2,2.6 .1,1.2 .1,1.1 .2,2 .2,1.8 .2,1.7 .1,.8 .1,.8 .2,1.5 .2,1.3 .2,1.3 .1,.6 .1,.6 .2,1.1 .2,1.1 .2,1 .1,.4 .1,.5 .2,.9 .2,.9 .2,.8 .1,.4 .1,.4 .2,.8 .2,.8 .3,1 .8,2.7 2.4,6.9 2.4,6.1 2.4,5.2 2.4,4.5 2.4,3.9 2.4,3.5 2.4,3.1 2.4,2.8 2.4,2.6 2.4,2.4 2.4,2.2 2.4,2 2.4,1.9 2.4,1.7 2.4,1.6 2.4,1.6 2.4,1.4 2.4,1.3 2.4,1.3 2.4,1.2 2.4,1.1 2.4,1 2.4,1 2.4,.9 2.4,.9 2.4,.8 2.4,.7 2.4,.7 2.4,.7 2.4,.7 2.4,.6 2.4,.6 2.4,.6 2.4,.5 2.4,.5 2.4,.4 2.4,.1 2.4-.6 2.4-2.9 2.4-6.7 2.4,4.7 2.4,5.9 2.4,2.5 2.4,1.3 2.4,.8 2.4,.7 2.4,.6 2.4,.4 2.4,.5 2.4,.4 2.4,.4 2.4,.3 2.4,.4 2.4,.3 2.4,.3 2.4,.3 2.4,.3 2.4,.2 2.4,.3 2.4,.2 2.4,.3 2.4,.2 2.4,.2 2.4,.2 2.4,.2 2.4,.2 2.4,.2 2.4,.1 2.4,.2 2.4,.2 2.4,.1 2.4,.2 2.4,.1 2.4,.1 2.4,.2 2.4,.1 2.4,0 2.4,0 2.4,0 2.4,0 2.4,0 2.4,0 2.4,0 2.4,0 2.4,0 2.4,0 2.4,0 2.4-.3 2.4-.9 2.4-1.2 2.4-1.3 2.4-1.5 2.4-2.1 2.4-.9 2.4,.6 2,1.4 0,57.1z" fill="#fff"/>
<path class="p" d="M257.4,359.1V410.5H749V353" stroke="#000080"/>
<path class="c" d="M257.4,358.2l.5,2.4 .5-.6 .5,.3 .5,.1 .5,1.1 .5-.8 .5-.5 .5,.3 .5,.6 .5-.6 .5,.6 .5-.8 .5,.9 .5-.8 .5,1.2 .5,1 .5,.2 .5,.2 .5-1.4 .5-1.4 .5,0 .5-1.4 .5,1.2 .5-.3 .5-.7 .5,2 .5-1.6 .5-.9 .5,.5 .5-1.2 .5-1.1 .5-1.1 .5,.4 .5-.2 .5-.5 .5,.3 .5,.2 .5,.6 .5,0 .5,1.5 .5-.3 .5,1.6 .5,1 .5,0 .5,.6 .5,1.6 .5-.5 .5,1.2 .5,.3 .5-.4 .5,1.1 .5-.4 .5,.6 .5-.7 .5,1.3 .5,.9 .5,.3 .5-.1 .5-.7 .5-.1 .5-.6 .5,.5 .5,.6 .5,.5 .5,.8 .5,.3 .5-.5 .5-.3 .5,.4 .5,.3 .5-.6 .5-.5 .5,1.4 .5-.9 .5-.4 .5,1 .5,.8 .5-.9 .5,.7 .5,.4 .5-1.2 .5-.5 .5,.6 .5-1.9 .5,2.1 .5,.1 .5,.8 .5-.1 .5,1 .5-.3 .5-.2 .5,.7 .5,.1 .5-1.3 .5,.7 .5-1.3 .5,.2 .5-.3 .5,0 .5-.1 .5,0 .5,.1 .5-.4 .5-.8 .5,0 .5,.5 .5,.1 .5,.4 .5,0 .5,.2 .5-.4 .5-.1 .5-.8 .5,.1 .5,.6 .5-1.4 .5,.8 .5-.4 .5,.2 .5-.9 .5,1 .5-.7 .5,.4 .5,.3 .5,.1 .5-1 .5-.1 .5-.2 .5-.3 .5,1 .5,.2 .5,.4 .5,0 .5,.4 .5,.5 .5-1.2 .5,1.7 .5-1.4 .5-.4 .5-.2 .5,.2 .5-.5 .5,0 .5,.2 .5-.6 .5,.2 .5,.3 .5-.5 .5,1 .5-.6 .5,.5 .5-.4 .5,.3 .5,0 .5,.8 .5,.2 .5,.3 .5-.2 .5-.5 .5-.7 .5,.2 .5-.9 .5,.4 .5,.3 .5-.6 .5,0 .5,.4 .5,.5 .5-.7 .5,1 .5,.8 .5-1.7 .5,.7 .5-.1 .5-.8 .5,.3 .5-1.2 .5,1.3 .5-.2 .5-.7 .5,.3 .5-.8 .5,1.6 .5-.2 .5-.3 .5-.4 .5-.4 .5,.1 .5-1.1 .5,1.2 .5-.3 .5-.3 .5,.6 .5,.2 .5,.6 .5,.6 .5,.8 .5,.2 .5,.2 .5-1.2 .5,.6 .5-2 .5-.1 .5,.1 .5,.4 .5,0 .5-1.1 .5,.4 .5-.3 .5,.5 .5-1 .5,.8 .5-.6 .5,.7 .5-.6 .5-.3 .5,1.2 .5,.8 .5,.2 .5,1.2 .5-1.1 .5,1.2 .5-1.9 .5-.5 .5,.6 .5-.3 .5-1.3 .5,.7 .5-.5 .5-.7 .5,.2 .5-.5 .5,.4 .5-.7 .5-.6 .5,.2 .5,1.1 .5-1.3 .5,.9 .5,1 .5-.5 .5,2.1 .5-1.9 .5,.9 .5-1.2 .5,.5 .5,.6 .5-.6 .5,0 .5,0 .5-.3 .5,.4 .5-1.2 .5-.6 .5-.1 .5,.6 .5,.4 .5-.3 .5,.4 .5,.8 .5-.5 .5-1.9 .5,.6 .5-1.5 .5,.4 .5,.4 .5-.9 .5,.1 .5-.7 .5-.4 .5,1.2 .5-.6 .5,.1 .5,1.3 .5,.7 .5-.6 .5,1.5 .5-.4 .5-.4 .5-.5 .5-.3 .5-1.1 .5-.6 .5,.3 .5,0 .5-1.1 .5,1.1 .5,0 .5-.4 .5-.1 .5,.8 .5,.3 .5-1.3 .5,1 .5-1 .5-1.2 .5,.2 .5,.8 .5,0 .5-1.4 .5,0 .5-.1 .5-.8 .5,.3 .5,.6 .5-1.2 .5,.7 .5,.1 .5,0 .5-.8 .5,.4 .5-.8 .5,.4 .5-.6 .5,.7 .5,.1 .5,.5 .5-.6 .5-1 .5-1.2 .5,1.6 .5-.3 .5-.7 .5-.2 .5,.4 .5-.5 .5,.3 .5-.9 .5-.8 .5-.7 .5,.8 .5,.1 .5-.3 .5-.2 .5,0 .5,.1 .5-.9 .5-.7 .5,.5 .5,.6 .5-.3 .5,.4 .5,.2 .5-.3 .5-.4 .5-.9 .5-.6 .5-.4 .5-.1 .5,.1 .5-.5 .5,.9 .5-.9 .5-.2 .5-1.3 .5,.1 .5,0 .5-.4 .5,.3 .5,.2 .5-.8 .5-.1 .5-.7 .5-.1 .5-.2 .5-.1 .5,.1 .5-1 .5-.1 .5-.3 .5,.4 .5,.4 .5,.3 .5-.5 .5-.5 .5,.2 .5-.6 .5-.7 .5,.5 .5-.3 .5,0 .5-.9 .5,.1 .5-.1 .5,.1 .5-.8 .5-.7 .5,.4 .5,.1 .5-.3 .5,.7 .5-.6 .5-.7 .5-.1 .5-.5 .5-.8 .5-.2 .5-.2 .5-.4 .5-.3 .5,.2 .5-.3 .5-.6 .5-.4 .5-.3 .5,.2 .5-.9 .5-.3 .5-.2 .5-.3 .5-.2 .5-.4 .5,.6 .5-.8 .5-.6 .5-.7 .5-1.1 .5-.7 .5,.3 .5-.4 .5-.4 .5,.2 .5-1 .5-.4 .5-.6 .5-.6 .5-.8 .5,.4 .5,0 .5-.6 .5,.4 .5-.4 .5-.2 .5-1 .5-.2 .5-.6 .5-.5 .5-.6 .5-.5 .5-.6 .5-.6 .5-.2 .5-.6 .5,0 .5-.6 .5-.6 .5-1.1 .5-.3 .5-1 .5-.6 .5-.3 .5-.6 .5-.2 .5-.8 .5-.5 .5-.9 .5-.6 .5-.6 .5-.9 .5-.6 .5-.6 .5-.8 .5-.6 .5-.8 .5-1 .5-.5 .5-.9 .5-.9 .5-1 .5-.9 .5-.9 .5-.8 .5-1 .5-1.1 .5-.9 .5-1 .5-1 .5-1 .5-1.4 .5-1.2 .5-1.4 .5-1.5 .5-1.5 .5-1.5 .5-1.5 .5-1.5 .5-1.4 .5-1.8 .5-1.9 .2-.8 .2-.9 .1-.5 .1-.4 .2-1 .2-1 .2-1 .2-1.1 .1-.5 .1-.6 .2-1.2 .2-1.3 .2-1.3 .2-1.4 .1-.7 .1-.8 .2-1.5 .2-1.6 .2-1.8 .2-1.9 .1-1.1 .1-1.1 .2-2.4 .2-2.8 .2-3.5 .2-3.9 .1-2.3 .1-2.3 .2-5.1 .2-5.8 .2-6.4 .2-7.2 .1-4 .1-3.9 .2-8.6 .2-9.3 .2-9.6 .2-9.6 .1-4.6 .1-4.7 .2-10.1 .2-11.6 .2-13.3 .2-15.8 .1-9 .1-9.8 .2-5.1 .2,0 .2,0 .2,5.4 .1,9.5 .1,9.7 .2,15.7 .2,13.2 .2,11.3 .2,9.9 .1,4.5 .1,4.5 .2,9.4 .2,9.2 .2,8.6 .2,8.1 .1,3.7 .1,3.8 .2,6.8 .2,6.1 .2,5.3 .2,4.8 .1,2.1 .1,2 .2,3.7 .2,3.1 .2,2.7 .2,2.3 .1,1 .1,1 .2,1.9 .2,1.7 .2,1.6 .2,1.5 .1,.7 .1,.6 .2,1.3 .2,1.1 .2,1.2 .2,1.1 .1,.5 .1,.5 .2,.9 .2,.9 .2,.9 .2,.9 .1,.4 .1,.4 .2,.8 .2,.7 .5,1.7 .5,1.5 .5,1.7 .5,1.2 .5,1.3 .5,1.7 .5,1.1 .5,1.5 .5,1.4 .5,1.4 .5,1.3 .5,1.2 .5,1.1 .5,1.2 .5,1.1 .5,1 .5,.9 .5,.9 .5,.9 .5,.8 .5,1.1 .5,.8 .5,.9 .5,1 .5,1 .5,.5 .5,.8 .5,.9 .5,.5 .5,.5 .5,.7 .5,.5 .5,.7 .5,.7 .5,.8 .5,.6 .5,.6 .5,.6 .5,.7 .5,.6 .5,.5 .5,.8 .5,.5 .5,.4 .5,.5 .5,.6 .5,.8 .5,.2 .5,.7 .5,.3 .5,.6 .5,.4 .5,.3 .5,.6 .5,.3 .5,.3 .5,.5 .5,.2 .5,.7 .5,.1 .5,.4 .5,.5 .5,.1 .5,.4 .5,.4 .5,.2 .5,.2 .5,.7 .5,.3 .5,.8 .5,.2 .5,.3 .5,.6 .5,.4 .5,.5 .5,.5 .5,.1 .5,.5 .5,.2 .5-.4 .5,.6 .5-.4 .5,1.3 .5,.2 .5,.9 .5,.3 .5,.5 .5-.1 .5,.1 .5,.2 .5-.1 .5,0 .5,.8 .5-.2 .5,.5 .5,.4 .5-.3 .5,1.5 .5,0 .5,.5 .5-.1 .5,.2 .5-.9 .5,1.1 .5-.3 .5,.1 .5,.5 .5-.2 .5,.1 .5,.9 .5,.5 .5,.4 .5,.9 .5-.1 .5-.3 .5,.1 .5,.5 .5-.1 .5,.1 .5,.2 .5-.1 .5,.2 .5,.1 .5,.5 .5-.1 .5-.3 .5,1 .5-.2 .5,.7 .5,.5 .5-.6 .5,.2 .5-.2 .5-.3 .5-.3 .5-.4 .5,1.9 .5-.3 .5,.4 .5-.2 .5,.5 .5,.8 .5-1.1 .5,1 .5-.2 .5,.6 .5,0 .5,0 .5-.3 .5,.2 .5,.7 .5-.2 .5,.5 .5,0 .5,.2 .5,0 .5,.4 .5-.4 .5-.4 .5-.2 .5,.1 .5-.6 .5,1 .5-.1 .5,.4 .5-.1 .5,1.3 .5-1.3 .5,1 .5,.4 .5-.5 .5-.9 .5,.5 .5,.5 .5,0 .5-.3 .5,1.3 .5-.1 .5,.2 .5-1.2 .5,.6 .5-.9 .5,.3 .5,0 .5-.8 .5-.1 .5,.4 .5-1.3 .5-.7 .5-.6 .5-1.4 .5-1.6 .5-1.5 .5-1.6 .5-.6 .5-.2 .5,1.8 .5,1.6 .5,2.6 .5,1.5 .5,1.6 .5,1.2 .5-.1 .5,.1 .5,.4 .5,1.9 .5-.2 .5,1.1 .5,.7 .5,.5 .5-.2 .5-.5 .5,.3 .5,.3 .5,.1 .5-.1 .5-.4 .5-.5 .5,1.3 .5-.1 .5,.5 .5,.4 .5-.1 .5,.3 .5,1.1 .5,.3 .5-.6 .5,.4 .5-.1 .5,.4 .5-.1 .5-.3 .5,.6 .5,.4 .5-.3 .5-.1 .5,1 .5-.6 .5,.4 .5,.9 .5-.2 .5,.1 .5-.2 .5,0 .5,.8 .5-.2 .5-1.1 .5,.2 .5-.3 .5,0 .5-.5 .5,1.1 .5-1 .5,1.1 .5-.1 .5,.4 .5,1.7 .5-.4 .5,0 .5-.3 .5-.4 .5,.1 .5-.1 .5-.8 .5-.1 .5,.5 .5,.4 .5-1.4 .5,.6 .5,.5 .5,.7 .5,.1 .5,0 .5,.8 .5-.8 .5,.5 .5-.5 .5,.2 .5-.4 .5-.3 .5,.1 .5,.8 .5,.6 .5,.3 .5-.2 .5-.9 .5,.4 .5,0 .5-.7 .5-.8 .5,.7 .5-.5 .5,0 .5,.6 .5,.9 .5,1.3 .5,.7 .5-.5 .5-.5 .5-.4 .5-.5 .5,.2 .5,0 .5-.5 .5,.9 .5-.4 .5,.8 .5-.6 .5,.2 .5,.3 .5-.6 .5,.8 .5,.1 .5,.3 .5,.4 .5-1 .5,.8 .5-.4 .5,.6 .5-.2 .5,.2 .5,.3 .5,.4 .5-.1 .5-1 .5,.5 .5-.4 .5-.2 .5-1.4 .5,.4 .5,.4 .5-.1 .5,.7 .5,0 .5,.2 .5,.4 .5,.7 .5,.1 .5-.5 .5,.2 .5,1.1 .5-1 .5-.6 .5,.8 .5-.4 .5,.6 .5-1.1 .5,.8 .5,0 .5-.5 .5-1.2 .5,1.3 .5,.4 .5-.8 .5,.1 .5-.5 .5,1.3 .5,.3 .5-.6 .5-.3 .5,0 .5-.3 .5,1.1 .5-.1 .5,.1 .5-.1 .5,.5 .5,.7 .5,.6 .5-.5 .5,.3 .5-.4 .5,.7 .5-1.6 .5,.5 .5-1.1 .5-.5 .5-.3 .5,0 .5-.3 .5-.4 .5,.8 .5,.2 .5,1 .5,.6 .5-.5 .5,.4 .5-.1 .5-.1 .5-.3 .5-.4 .5,.4 .5-1.1 .5-.5 .5,.1 .5,.5 .5,.4 .5-.7 .5-.3 .5-.3 .5,.6 .5,.1 .5-.7 .5,.8 .5-.9 .5-.1 .5,.8 .5-.6 .5,.7 .5,.5 .5,.8 .5,.1 .5-1 .5,.2 .5-.4 .5,.5 .5-.4 .5,0 .5,.6 .5,0 .5-.9 .5,.3 .5,.6 .5-.2 .5-.3 .5-1.1 .5,.7 .5-1.3 .5-1.2 .5,.6 .5-.7 .5,1.7 .5-1.9 .5,.4 .5,.5 .5-1.5 .5-.5 .5-.4 .5,0 .5,.6 .5,.3 .5-.1 .5-.5 .5-.9 .5-.4 .5-1 .5-1 .5,.2 .5-.7 .5,.2 .5,1.5 .5-.4 .5-.1 .5-.3 .5-.9 .5,.6 .5,.8 .5,.5 .5,.5 .5,1.3 .5,.3 .5-.4" stroke="#000080"/>
<path d="M233.6,421.6l0-48.1 2.4-.6 2.4-.6 2.4-.8 2.4-.9 2.4-1 2.4-.8 2.4,.8 2.4,2.1 2.4,2.5 2.4,1.7 2.4,1.1 2.4,.8 2.4,.2 2.4,.1 2.4,.1 2.4,.2 2.4,.1 2.4,0 2.4,.1 2.4,.1 2.4,0 2.4,0 2.4,.1 2.4,0 2.4,0 2.4,0 2.4-.1 2.4-.2 2.4-.3 2.4-1.1 2.4-.9 2.4,.8 2.4,1 2.4,0 2.4,0 2.4,0 2.4,0 2.4,0 2.4-.1 2.4,0 2.4,0 2.4-.1 2.4-.1 2.4-.1 2.4-.1 2.4-.2 2.4-.3 2.4-.2 2.4-.3 2.4-.4 2.4-.4 2.4-.3 2.4-.5 2.4-.4 2.4-.5 2.4-.5 2.4-.5 2.4-.6 2.4-.6 2.4-.5 2.4-.6 2.4-.5 2.4-.6 2.4-.6 2.4-.7 2.4-.7 2.4-.7 2.4-.8 2.4-.8 2.4-.8 2.4-.9 2.4-.9 2.4-1 2.4-.9 2.4-1 2.4-1 2.4-1.1 2.4-1.1 2.4-1.1 2.4-1.2 2.4-1.2 2.4-1.3 2.4-1.4 2.4-1.5 2.4-1.6 2.4-1.7 2.4-1.9 2.4-2 2.4-2.2 2.4-2.3 2.4-2.6 2.4-2.7 2.4-2.9 2.4-3 2.4-3.3 2.4-3.7 2.4-4.2 2.4-5 2.4-6.4 2.4-7.7 .8-2.9 .6-2.3 .2-.9 .2-.9 .2-.9 .2-.9 .2-1 .2-1 .2-1.1 .2-1.1 .2-1.2 .2-1.3 .2-1.4 .2-1.4 .2-1.6 .2-1.6 .2-1.8 .2-2 .2-2.1 .2-2.3 .2-2.5 .2-2.9 .2-3.1 .2-3.5 .2-4.7 .2-6.7 .2-8.3 .2-9.7 .2-10.2 .2-9.8 .2-8 .2-7.1 .2-7 .2-7.8 .2-10.4 .2-15.1 .2-17.9 .2-14.3 .2-8.2 .2-6.9 .2-.5 .2,0 .2,0 .2,.5 .2,6.9 .2,8.2 .2,14.3 .2,17.9 .2,15.1 .2,10.5 .2,7.9 .2,7.1 .2,7 .2,7.5 .2,8.6 .2,8.8 .2,8.2 .2,7.2 .2,5.7 .2,4.2 .2,3.2 .2,2.9 .2,2.6 .2,2.4 .2,2.1 .2,2 .2,1.8 .2,1.6 .2,1.6 .2,1.4 .2,1.4 .2,1.3 .2,1.1 .2,1.2 .2,1.1 .2,1 .2,1 .2,.9 .2,.9 .2,.9 .2,.8 .2,.8 .2,.8 .8,3 2.4,7.7 2.4,6.9 2.4,5.7 2.4,4.9 2.4,4.1 2.4,3.7 2.4,3.2 2.4,3 2.4,2.6 2.4,2.5 2.4,2.2 2.4,2 2.4,1.9 2.4,1.7 2.4,1.6 2.4,1.4 2.4,1.4 2.4,1.3 2.4,1.2 2.4,1.1 2.4,1.1 2.4,1 2.4,1 2.4,1 2.4,.8 2.4,.9 2.4,.7 2.4,.8 2.4,.7 2.4,.6 2.4,.7 2.4,.6 2.4,.6 2.4,.6 2.4,.5 2.4,.4 2.4,.2 2.4-.4 2.4-2.3 2.4-6.1 2.4,3.9 2.4,5.5 2.4,2.4 2.4,1.3 2.4,.9 2.4,.7 2.4,.7 2.4,.6 2.4,.7 2.4,.5 2.4,.6 2.4,.5 2.4,.4 2.4,.4 2.4,.3 2.4,.3 2.4,.2 2.4,.1 2.4,.2 2.4,.1 2.4,.2 2.4,.1 2.4,.1 2.4,.1 2.4,.1 2.4,.2 2.4,.1 2.4,.1 2.4,.2 2.4,.1 2.4,.8 2.4,.7 2.4,.5 2.4,.5 2.4,.4 2.4,.4 2.4,.2 2.4,.2 2.4,.2 2.4,.1 2.4,0 2.4,.1 2.4,0 2.4,0 2.4,0 2.4-.5 2.4-.7 2.4-1 2.4-1.1 2.4-1.1 2.4-1.6 2.4-1.6 2.4-1.4 2.4-1.1 2.4,.1 2.4,1.5 2.4,2.8 .4,.6 0,52.7z" fill="#fff"/>
<path class="p" d="M233.6,373.1V421.6H725.2V368.5" stroke="#808000"/>
<path class="c" d="M233.6,374.8l.5-.4 .5,.7 .5-1.6 .5,.4 .5-.1 .5-.8 .5-.6 .5-1.1 .5,.1 .5,.9 .5-.6 .5-.7 .5,.4 .5,.4 .5-.5 .5,.2 .5-.2 .5,.7 .5-.8 .5-1.2 .5-.1 .5-.8 .5-.6 .5,1 .5-.2 .5,.4 .5,.2 .5,0 .5,.8 .5,.6 .5-1.3 .5,.4 .5-.7 .5,.3 .5-.1 .5,0 .5,.4 .5,1.3 .5-.7 .5,1.4 .5-.1 .5-.6 .5,1.6 .5-.4 .5,1.3 .5-.2 .5,.4 .5,.1 .5,.9 .5,.5 .5-.2 .5,1.3 .5,0 .5-.4 .5,.9 .5,.3 .5,.4 .5-.4 .5,.4 .5-.1 .5,.3 .5-.8 .5,1.3 .5,1 .5-.7 .5,.3 .5-.3 .5,.6 .5-1.6 .5,.3 .5-.3 .5,.4 .5-1.3 .5,0 .5-.9 .5,.9 .5,.5 .5-.5 .5,.5 .5-.8 .5,.4 .5-.8 .5-.2 .5-.1 .5,.8 .5,.6 .5,.2 .5,.8 .5,.1 .5,.6 .5,1.3 .5-.6 .5-.9 .5-.1 .5-.8 .5-.5 .5-.1 .5,.4 .5-1 .5-.2 .5,.2 .5,.5 .5,.5 .5,.8 .5,.3 .5,.5 .5,0 .5,.7 .5,0 .5-.5 .5,0 .5,.6 .5-1.6 .5,.7 .5-2.2 .5,.4 .5-.1 .5,.5 .5,.2 .5,0 .5,.3 .5,.8 .5,0 .5-.3 .5-.1 .5,.5 .5,.3 .5-1.1 .5,.4 .5-.4 .5-.5 .5,.1 .5,.6 .5-.3 .5-.2 .5,.8 .5-.1 .5-.3 .5,.3 .5,.1 .5-.1 .5-.9 .5-.3 .5-1.3 .5-.1 .5-1 .5,0 .5,1.2 .5-1 .5,.8 .5-.6 .5,.6 .5,.6 .5,0 .5,1.3 .5,.3 .5,.6 .5,.9 .5-.7 .5-.4 .5-1.7 .5-.2 .5-1.6 .5,.7 .5,.6 .5,1.2 .5-1 .5,1.4 .5-.3 .5,.2 .5-1.2 .5,.9 .5-.5 .5,1.1 .5-.3 .5,.6 .5-1 .5,.2 .5-.1 .5-1 .5,.9 .5,.3 .5-.3 .5,1.6 .5-.9 .5,.2 .5-.2 .5-.9 .5-.6 .5,.5 .5-.1 .5-.4 .5,.1 .5,.3 .5,.1 .5-.2 .5-.5 .5-.8 .5,.5 .5,.6 .5,0 .5,1.2 .5,.1 .5-.1 .5-1.1 .5,1.6 .5-1.2 .5-.1 .5,0 .5-1.1 .5,.4 .5-.4 .5,.2 .5-1.2 .5-.2 .5-.2 .5,.7 .5,1.1 .5,.4 .5,.3 .5-.2 .5-.1 .5,.5 .5-1.8 .5-.1 .5,.8 .5,.3 .5-.4 .5,.7 .5-1 .5,.6 .5-.4 .5-.7 .5,.5 .5-.8 .5-.4 .5,.7 .5-1.1 .5,.7 .5-.4 .5,.2 .5,.3 .5-.1 .5,.5 .5-.6 .5-.1 .5-1.1 .5,.1 .5,1 .5-1 .5,.2 .5,.4 .5-.3 .5,0 .5,.7 .5-.3 .5-.3 .5,.3 .5-.7 .5,.1 .5,.5 .5,.3 .5-.3 .5,0 .5-.2 .5,.2 .5-1.2 .5-.1 .5-.4 .5-.3 .5,1 .5-.4 .5,.2 .5-.2 .5-1.5 .5,.3 .5,.9 .5-1.3 .5,.1 .5-1.1 .5,.1 .5-.1 .5-.1 .5-.2 .5,.1 .5,.1 .5-.2 .5-.4 .5,.6 .5-.6 .5-.2 .5-.1 .5-.8 .5,.6 .5-.4 .5,.8 .5,.1 .5,1.1 .5,.5 .5-.6 .5,0 .5-1.6 .5-.2 .5-.7 .5-.1 .5-.4 .5,0 .5-.4 .5,.5 .5,.2 .5-.2 .5-.6 .5-.3 .5,.6 .5,.5 .5-.2 .5,0 .5-.5 .5-.2 .5,.1 .5-1.3 .5-1 .5,0 .5,.7 .5-1.1 .5,.5 .5-1.7 .5,.6 .5,.4 .5-.9 .5,.6 .5-.4 .5,.2 .5,.6 .5-.9 .5,.4 .5-1.3 .5,.1 .5,.1 .5,.1 .5-1.6 .5-.1 .5,.7 .5-1.4 .5,.2 .5-.2 .5-.5 .5-.1 .5-.7 .5,.4 .5,.6 .5-1.5 .5,.5 .5,.7 .5-.3 .5,.2 .5-.4 .5-.4 .5-.1 .5,.1 .5-.1 .5-.8 .5,.1 .5-1.1 .5,.9 .5-.8 .5,0 .5,.1 .5-1 .5,.3 .5,.2 .5-.3 .5-.5 .5,.6 .5-1.3 .5-.2 .5-.2 .5-.9 .5-.3 .5,.3 .5,.2 .5-.6 .5,.1 .5,.5 .5-.5 .5-.2 .5-.2 .5-.1 .5-1.1 .5-.2 .5-.5 .5-.7 .5,.4 .5-.2 .5-.3 .5,.1 .5-.5 .5-.6 .5-.1 .5-.7 .5,.4 .5-.3 .5,.4 .5-.5 .5,0 .5-1.3 .5-.6 .5-.6 .5-1.1 .5-.3 .5,0 .5,.1 .5-.1 .5-.7 .5-.2 .5-.4 .5-.4 .5-.1 .5-1.2 .5,.1 .5-.6 .5-.8 .5,.1 .5-1 .5-.4 .5-.2 .5-.3 .5-.5 .5-.1 .5-1 .5-.2 .5-.5 .5-.8 .5-1 .5-.9 .5-.1 .5-.4 .5-.2 .5-.7 .5-.3 .5-1 .5-.4 .5-.6 .5-.7 .5-.8 .5-.4 .5-.9 .5-.6 .5-.6 .5-.4 .5-.7 .5-.6 .5-.4 .5-.8 .5-.8 .5-.6 .5-.7 .5-.7 .5-.8 .5-.8 .5-.7 .5-.8 .5-.8 .5-1 .5-1 .5-1.2 .5-.9 .5-.9 .5-1.1 .5-1.1 .5-1 .5-1.2 .5-1.4 .5-1.3 .5-1.3 .5-1.7 .5-1.6 .5-1.8 .5-1.6 .5-1.9 .5-1.7 .5-1.8 .4-1.7 .1-.4 .1-.4 .2-.9 .2-.9 .2-.8 .2-.9 .1-.5 .1-.6 .2-1.1 .2-1.2 .2-1.1 .2-1.1 .1-.7 .1-.6 .2-1.4 .2-1.6 .2-1.7 .2-1.8 .1-1 .1-1 .2-2.2 .2-2.3 .2-2.6 .2-2.9 .1-1.5 .1-1.6 .2-3.5 .2-4.7 .2-6.8 .2-8.4 .1-4.9 .1-4.8 .2-10.1 .2-9.8 .2-8 .2-7.1 .1-3.5 .1-3.5 .2-7.8 .2-10.5 .2-15 .2-17.8 .1-7.1 .1-7.1 .2-8.2 .2-6.8 .2-.6 .2-.1 .1-.1 .1,0 .2,.5 .2,6.8 .2,8.2 .2,14.3 .1,8.9 .1,8.9 .2,15 .2,10.5 .2,8 .2,7.2 .1,3.5 .1,3.5 .2,7.5 .2,8.6 .2,8.8 .2,8.2 .1,3.6 .1,3.5 .2,5.8 .2,4.2 .2,3.4 .2,3 .1,1.3 .1,1.3 .2,2.2 .2,2.1 .2,2 .2,1.9 .1,.9 .1,.8 .2,1.6 .2,1.5 .2,1.3 .2,1.3 .1,.6 .1,.6 .2,1.2 .2,1.1 .2,1 .2,.9 .1,.5 .1,.4 .2,.9 .2,.8 .2,.9 .2,.8 .1,.4 .5,1.9 .5,1.9 .5,1.8 .5,1.5 .5,1.6 .5,1.6 .5,1.6 .5,1.4 .5,1.5 .5,1.2 .5,1.4 .5,1.4 .5,1.2 .5,1 .5,1.2 .5,1.3 .5,1 .5,1.1 .5,1.1 .5,.8 .5,.8 .5,1 .5,1.1 .5,1 .5,.8 .5,.9 .5,.9 .5,.8 .5,.5 .5,.8 .5,.5 .5,.8 .5,.5 .5,.7 .5,.5 .5,.5 .5,.7 .5,.8 .5,.5 .5,.7 .5,.7 .5,.5 .5,.5 .5,.6 .5,.8 .5,.3 .5,.5 .5,.7 .5,.7 .5,.1 .5,.5 .5,.5 .5,.7 .5,.5 .5,0 .5,.5 .5,.4 .5,.7 .5,.4 .5,.7 .5,.6 .5,.4 .5,0 .5,.2 .5-.1 .5,.3 .5,.7 .5,0 .5,1.1 .5,.2 .5,.2 .5,.2 .5,.9 .5-.4 .5,.3 .5,.6 .5,1.3 .5,.3 .5,.5 .5,0 .5-.4 .5,.5 .5-.5 .5,.2 .5,.7 .5,0 .5,0 .5,.1 .5,.5 .5,.9 .5,.5 .5,1.2 .5,.4 .5-.9 .5-.4 .5,0 .5,.1 .5,0 .5,0 .5,.9 .5,.5 .5,.4 .5-.4 .5,.9 .5,.2 .5,.2 .5,.4 .5,.9 .5-.2 .5,.2 .5,0 .5-.4 .5,.3 .5-.3 .5,.3 .5-.1 .5,.8 .5,0 .5,.7 .5-.2 .5,.2 .5,.1 .5,0 .5,.4 .5,.3 .5,.9 .5-.7 .5,.8 .5,.1 .5,.4 .5-.3 .5,.8 .5-.5 .5-.4 .5-.2 .5,0 .5,.5 .5,1 .5-.3 .5,.4 .5,.3 .5-.1 .5,.1 .5,0 .5-.7 .5,.5 .5,1.3 .5-.1 .5,.8 .5,0 .5,.3 .5-.3 .5,0 .5,.1 .5,1 .5-.5 .5,.5 .5,.6 .5-.9 .5,.4 .5-1.1 .5-.6 .5,.7 .5,.2 .5,.8 .5,.6 .5,1.3 .5-.7 .5,.2 .5-.2 .5,.2 .5-.5 .5,.1 .5-.4 .5-.5 .5,.2 .5-.1 .5,.4 .5-.1 .5,.5 .5-.8 .5-.5 .5,0 .5-.8 .5-.3 .5,.3 .5-.9 .5-.9 .5,0 .5-.4 .5-1.6 .5-1 .5-1.8 .5-.5 .5-.3 .5,.7 .5,.8 .5,1.9 .5,2.1 .5,1.6 .5,1.9 .5,.8 .5,1.7 .5,.2 .5,.6 .5,.6 .5-.8 .5,1.7 .5-1.1 .5,1.2 .5-.4 .5-.6 .5,1.9 .5-.1 .5-.9 .5,.8 .5,.7 .5,.2 .5,.7 .5,0 .5-.5 .5,.8 .5-.2 .5-.3 .5-.2 .5,1.1 .5-.2 .5,.5 .5,0 .5-.4 .5-.1 .5,.1 .5-.1 .5-.3 .5-.1 .5-.1 .5,.9 .5,.1 .5,0 .5,.2 .5,.7 .5,.2 .5-.7 .5,1 .5,.2 .5,.5 .5-.8 .5,.3 .5-1 .5,1 .5-.4 .5,.3 .5,0 .5,1.5 .5-.9 .5,.7 .5,0 .5,.1 .5,0 .5,.2 .5,1.2 .5-.8 .5,.6 .5,.6 .5-.8 .5-1.5 .5,.4 .5-.1 .5-1 .5,1 .5-.3 .5,.2 .5-.1 .5-.3 .5,.3 .5,.7 .5-.1 .5-.1 .5,.3 .5-.2 .5,.3 .5,.1 .5-.3 .5,.5 .5-.6 .5,.3 .5-.1 .5-.4 .5-.4 .5-.5 .5,.1 .5,.6 .5,.7 .5-.5 .5,.6 .5,.7 .5,0 .5,.6 .5,.7 .5-.2 .5-1.2 .5,.7 .5-.1 .5,.4 .5-.8 .5-1 .5,.4 .5-.6 .5-.1 .5,.2 .5-.5 .5,.5 .5,0 .5,.6 .5-1.4 .5,1.1 .5,.2 .5-.6 .5,.9 .5-.2 .5,.3 .5-.2 .5,.4 .5-.2 .5,.4 .5,.6 .5,.2 .5,.4 .5,.5 .5-.3 .5,0 .5,0 .5,.5 .5-.9 .5,1 .5-.4 .5,.3 .5,.6 .5,.3 .5-.2 .5-1.3 .5,.8 .5-.2 .5-.1 .5,.6 .5,.1 .5,1.4 .5-.1 .5-2.2 .5,1.3 .5-.1 .5-.3 .5-.3 .5,1.2 .5-.5 .5,.3 .5,.1 .5,.8 .5,.8 .5,.7 .5,.8 .5-2.2 .5,.6 .5-1.1 .5-1.5 .5,1 .5-.4 .5,.4 .5-.3 .5,.6 .5,.9 .5-.3 .5,1.3 .5,.8 .5-.8 .5-.7 .5,.4 .5-1.2 .5-.1 .5-.7 .5,1.1 .5-.7 .5,1.1 .5-.3 .5,0 .5,.1 .5,.5 .5-.2 .5,0 .5-.4 .5-.6 .5-.1 .5,.1 .5,0 .5,.1 .5,1.5 .5-.8 .5-.4 .5,0 .5-1 .5,.3 .5,.6 .5,.1 .5-.3 .5,.9 .5,.1 .5-.5 .5,.3 .5-.4 .5,.3 .5-.4 .5,.3 .5,0 .5-.7 .5,1 .5-1.6 .5-.4 .5,.2 .5,.1 .5-.7 .5,.5 .5-.6 .5-.6 .5,.6 .5-.1 .5,.1 .5,0 .5-.1 .5-.1 .5-.6 .5,1 .5-.9 .5-.7 .5,.3 .5-.7 .5-.1 .5-.8 .5-.5 .5-.5 .5,0 .5,0 .5-.9 .5-.6 .5-.8 .5,1.1 .5-1.3 .5,.6 .5-1.3 .5-.1 .5-.3 .5-.3 .5,0 .5,.3 .5-.5 .5-.4 .5,.5 .5,.1 .5,.6 .5-.7 .5,.9 .5,.4 .5,.2 .5,.2 .5-.1 .5-.3 .5,.5 .5,.4 .5,.7" stroke="#808000"/>
<path d="M209.8,432.8l0-45.9 2.4-1.2 2.4-1 2.4-.9 2.4-.7 2.4,.5 2.4,1.4 2.4,1.4 2.4,1.7 2.4,1.4 2.4,.2 2.4,.1 2.4,.1 2.4,.1 2.4,.1 2.4,0 2.4,.1 2.4,0 2.4,.1 2.4,0 2.4,0 2.4,0 2.4,.1 2.4,0 2.4,0 2.4,0 2.4,0 2.4,0 2.4,0 2.4,0 2.4,0 2.4-.1 2.4,0 2.4,0 2.4-.1 2.4,0 2.4-.1 2.4-.1 2.4,0 2.4-.1 2.4-.2 2.4-.1 2.4-.2 2.4-.3 2.4-.2 2.4-.2 2.4-.3 2.4-.2 2.4-.3 2.4-.3 2.4-.4 2.4-.3 2.4-.4 2.4-.4 2.4-.5 2.4-.4 2.4-.5 2.4-.5 2.4-.5 2.4-.4 2.4-.5 2.4-.5 2.4-.6 2.4-.5 2.4-.7 2.4-.7 2.4-.7 2.4-.8 2.4-.8 2.4-.9 2.4-.9 2.4-.9 2.4-1 2.4-.9 2.4-1 2.4-1 2.4-1.1 2.4-1.1 2.4-1.1 2.4-1.2 2.4-1.3 2.4-1.3 2.4-1.4 2.4-1.5 2.4-1.5 2.4-1.7 2.4-1.9 2.4-2 2.4-2.2 2.4-2.3 2.4-2.5 2.4-2.7 2.4-2.8 2.4-3 2.4-3 2.4-3.3 2.4-3.7 2.4-4.4 2.4-5.9 2.4-8.9 .8-4.2 .5-3 .2-1.4 .1-.6 .1-.7 .2-1.5 .2-1.5 .2-1.5 .1-.8 .1-.9 .2-1.7 .2-1.8 .2-1.8 .1-1 .1-1 .2-2 .2-2.1 .2-2.3 .1-1.1 .1-1.2 .2-2.4 .2-2.5 .2-2.6 .1-1.3 .1-1.4 .2-2.9 .2-3.1 .2-3.3 .1-1.8 .1-1.8 .2-3.8 .2-4.2 .2-4.5 .1-2.3 .1-2.5 .2-5.3 .2-5.8 .2-6.3 .1-3.4 .1-3.6 .2-7.8 .2-9 .2-11.9 .1-7 .1-7.5 .2-15.7 .2-12.1 .2-7.3 .1-3.5 .1-2.6 .2-.5 .2,0 .2,0 .1,0 .1,.5 .2,6.1 .2,7.3 .2,12.4 .1,8.1 .1,8 .2,14.7 .2,11.4 .2,8.1 .1,3.5 .1,3.3 .2,5.8 .2,5.2 .2,4.7 .1,2.2 .1,2.1 .2,3.8 .2,3.6 .2,3.2 .1,1.6 .1,1.5 .2,2.9 .2,2.6 .2,2.6 .1,1.2 .1,1.2 .2,2.3 .2,2.1 .2,2.1 .1,1 .1,.9 .2,1.9 .2,1.8 .2,1.7 .1,.8 .1,.8 .2,1.6 .2,1.5 .2,1.4 .1,.7 .1,.7 .2,1.3 .2,1.3 .2,1.3 .1,.6 .1,.6 .2,1.2 .2,1.1 .3,1.6 1.6,7.8 2.4,9.4 2.4,7.6 2.4,6.2 2.4,5.4 2.4,4.5 2.4,4 2.4,3.6 2.4,3.1 2.4,2.9 2.4,2.7 2.4,2.3 2.4,2.1 2.4,1.9 2.4,1.7 2.4,1.5 2.4,1.4 2.4,1.2 2.4,1.2 2.4,1 2.4,1 2.4,1 2.4,.9 2.4,.9 2.4,.9 2.4,.8 2.4,.8 2.4,.8 2.4,.8 2.4,.7 2.4,.7 2.4,.7 2.4,.6 2.4,.7 2.4,.6 2.4,.5 2.4,.5 2.4,.3 2.4-.2 2.4-1.9 2.4-2.7 2.4,4.6 2.4,2.6 2.4,1.2 2.4,.9 2.4,.6 2.4,.6 2.4,.6 2.4,.5 2.4,.5 2.4,.4 2.4,.5 2.4,.4 2.4,.4 2.4,.4 2.4,.4 2.4,.4 2.4,.3 2.4,.4 2.4,.3 2.4,.3 2.4,.4 2.4,.3 2.4,.3 2.4,.3 2.4,.3 2.4,.3 2.4,.3 2.4,.3 2.4,.3 2.4,.2 2.4,.3 2.4,.2 2.4,.2 2.4,.3 2.4,.2 2.4,.2 2.4,.2 2.4,.1 2.4,.2 2.4,.2 2.4,.1 2.4-.1 2.4-.1 2.4-.2 2.4-.3 2.4-.3 2.4-.4 2.4-.4 2.4-.4 2.4-.7 2.4-1.2 2.4-1.2 2.4-1.1 2.4-.9 2.4,.2 2.4,1 2.4,1.3 2,1.5 0,49.5z" fill="#fff"/>
<path class="p" d="M209.8,386.5V432.8H701.4V382.9" stroke="#ffff00"/>
<path class="c" d="M209.8,387.8l.5-.3 .5-.7 .5-.6 .5-.4 .5-.3 .5,0 .5-1.7 .5-1 .5,.7 .5,.1 .5,1.2 .5,.4 .5,1.2 .5-.3 .5-.3 .5,.8 .5-1.4 .5-.4 .5,.1 .5-2.3 .5-.5 .5-.9 .5,.8 .5,1.3 .5,1.3 .5,.7 .5,.3 .5-1.4 .5,0 .5,.9 .5-.1 .5,.4 .5,.6 .5,1.3 .5,.9 .5-1.3 .5,.2 .5,1.1 .5-.1 .5-.4 .5-.2 .5,.1 .5,.7 .5,.7 .5-.6 .5,0 .5,.5 .5,.4 .5-.5 .5,.1 .5,.4 .5-.7 .5,.5 .5-.8 .5,.4 .5,.9 .5-.3 .5-.6 .5,1.5 .5-1 .5-1 .5,1.3 .5-.9 .5,.3 .5-1 .5,.8 .5-.2 .5-.3 .5-.1 .5,.1 .5,.3 .5,.1 .5,.7 .5,.4 .5,1.2 .5-.4 .5-1.5 .5,.5 .5,.7 .5,0 .5-.3 .5,.5 .5-1.2 .5,1 .5-.1 .5-1.1 .5,2 .5-1.1 .5,.9 .5-.6 .5-.3 .5,.1 .5-.2 .5,.6 .5-.1 .5,.6 .5-.3 .5,.2 .5-1.3 .5,.6 .5-1.2 .5,.6 .5,.1 .5-.5 .5,.6 .5,1 .5-1.2 .5,1.5 .5-1.5 .5,.2 .5,.6 .5-.6 .5,.2 .5-1 .5,1.1 .5-1.2 .5,.1 .5,.8 .5,0 .5-.5 .5,1.1 .5,.3 .5,.7 .5,0 .5-1.1 .5-.4 .5-.5 .5-.8 .5-.7 .5,.4 .5,1.1 .5,.2 .5-.2 .5-.4 .5,.4 .5,.4 .5-.1 .5-.8 .5-.7 .5,1.5 .5,.6 .5-1.5 .5,.3 .5-.2 .5-.6 .5,.5 .5,.8 .5,.4 .5-.9 .5,.7 .5-.6 .5,.8 .5-.3 .5,.7 .5-.5 .5,.2 .5-.4 .5-.3 .5,1 .5,.7 .5-1 .5,1.1 .5,.1 .5-.5 .5-.9 .5-.2 .5-.4 .5,0 .5,.9 .5,0 .5-.1 .5-.1 .5,.1 .5-.2 .5,.1 .5,.2 .5-.1 .5-1.8 .5-.6 .5,0 .5-.3 .5,1.1 .5,1.2 .5,1.9 .5,.5 .5-.8 .5-1.6 .5,.7 .5-.8 .5,.1 .5-.7 .5-.7 .5,.9 .5,.1 .5-1.6 .5,.3 .5,.4 .5-.8 .5-.1 .5,1.4 .5-1.1 .5-.7 .5,1.2 .5,.4 .5-.1 .5,1.2 .5,.9 .5-.4 .5,.2 .5-1 .5,.9 .5-1.6 .5,.8 .5-1.3 .5,.3 .5-.7 .5-.5 .5,.1 .5,.1 .5,.8 .5-.6 .5-.6 .5-.7 .5-.1 .5-.8 .5,.7 .5,0 .5,.6 .5,.1 .5,.6 .5-.2 .5,.4 .5-.5 .5-.2 .5-.6 .5,.9 .5-2.3 .5,1.6 .5-.6 .5,.2 .5,1.8 .5-1 .5-.9 .5,1.6 .5-1.7 .5,.7 .5-.3 .5-.2 .5,1.1 .5-.8 .5,.4 .5-.2 .5-.9 .5-1.6 .5,1.3 .5-.2 .5,.3 .5,.4 .5-.5 .5-.7 .5,.4 .5-.6 .5,.2 .5-1.6 .5,2.3 .5-.7 .5,.3 .5,.4 .5,.8 .5-.1 .5-.5 .5-.3 .5,.5 .5-.7 .5-1.3 .5-.8 .5,.2 .5-.1 .5,0 .5-1.6 .5,.9 .5,.3 .5-.3 .5-.4 .5,.7 .5,1.4 .5-.9 .5-.1 .5-.4 .5,.2 .5-.5 .5,.4 .5-.5 .5,.2 .5,.6 .5-.8 .5-1.4 .5-1.3 .5-.8 .5,.7 .5,2.2 .5-.6 .5,.8 .5-.1 .5-.5 .5-1.2 .5-.8 .5-2.4 .5,1.3 .5,.9 .5,.4 .5,.4 .5-.2 .5-.2 .5-.6 .5-.9 .5-.2 .5,.2 .5-.5 .5,.5 .5,.5 .5,.2 .5-.6 .5-.4 .5-.3 .5-.6 .5,.2 .5-.3 .5-1.2 .5-.6 .5,.5 .5-.5 .5-.5 .5,.2 .5,.2 .5,.8 .5-1.3 .5,.3 .5,.2 .5,.2 .5,.2 .5-.5 .5-.1 .5-1.1 .5,.1 .5-1.9 .5-.2 .5-1 .5,.8 .5-.6 .5-.4 .5,.4 .5,.6 .5-.3 .5-.3 .5,.7 .5,0 .5-.7 .5,.3 .5-.8 .5,.5 .5,0 .5-.8 .5-1.1 .5,.5 .5-.5 .5-.3 .5,.2 .5-.9 .5,.1 .5-.6 .5,.3 .5-.4 .5-.1 .5-.7 .5,.1 .5-.1 .5-.2 .5,.4 .5-.4 .5-.7 .5-.8 .5,.4 .5-.6 .5,.2 .5-.1 .5-.5 .5-.1 .5-.5 .5-1.2 .5-.4 .5-.4 .5-.4 .5-.6 .5-.1 .5-.7 .5,.1 .5-.3 .5,0 .5,.1 .5,0 .5-.5 .5-.2 .5-1.4 .5,.4 .5-.7 .5-.7 .5,.3 .5-.7 .5-.3 .5,0 .5-.1 .5-.3 .5-.7 .5-.2 .5-.2 .5-.4 .5,.1 .5-1.3 .5-.6 .5-.3 .5-1 .5-.4 .5-.4 .5-.3 .5-.5 .5-.4 .5-.7 .5-.4 .5-.4 .5-.4 .5-.6 .5-1.1 .5-.1 .5-1.2 .5-.4 .5-.4 .5-.4 .5-.5 .5-.4 .5-.4 .5-.7 .5-.3 .5-.8 .5-.6 .5-.3 .5-1 .5-.9 .5-.7 .5-.6 .5-.7 .5-.6 .5-.7 .5-.8 .5-.7 .5-.8 .5-.6 .5-.9 .5-.6 .5-.9 .5-.8 .5-.7 .5-.7 .5-1 .5-1 .5-1.1 .5-1.2 .5-1.2 .5-.9 .5-1.8 .5-1.3 .5-1.6 .5-1.9 .5-1.8 .5-2.1 .5-2.5 .5-2.7 .4-2.5 .1-.6 .1-.7 .2-1.4 .2-1.4 .2-1.4 .2-1.5 .1-.8 .1-.8 .2-1.8 .2-1.8 .2-1.9 .2-2.1 .1-1 .1-1 .2-2.1 .2-2.2 .2-2.4 .2-2.5 .1-1.3 .1-1.2 .2-2.6 .2-2.7 .2-2.9 .2-3 .1-1.7 .1-1.7 .2-3.5 .2-3.8 .2-4.2 .2-4.4 .1-2.4 .1-2.5 .2-5.3 .2-5.7 .2-6.4 .2-7 .1-3.9 .1-3.9 .2-9.1 .2-11.9 .2-14.6 .2-15.7 .1-6.1 .1-6 .2-7.4 .2-6.1 .2-.5 .2,0 .1,0 .1,0 .2,.4 .2,6.1 .2,7.3 .2,12.4 .1,8.1 .1,8 .2,14.6 .2,11.5 .2,8.1 .2,6.7 .1,2.9 .1,3 .2,5.3 .2,4.8 .2,4.3 .2,4 .1,1.8 .1,1.8 .2,3.3 .2,3.1 .2,2.9 .2,2.7 .1,1.3 .1,1.2 .2,2.5 .2,2.2 .2,2.2 .2,2.1 .1,1 .1,.9 .2,1.9 .2,1.8 .2,1.7 .2,1.6 .1,.7 .1,.8 .2,1.5 .2,1.4 .2,1.4 .2,1.3 .1,.7 .1,.7 .2,1.3 .2,1.3 .2,1.1 .2,1.1 .1,.6 .5,2.7 .5,2.3 .5,2.2 .5,2.2 .5,2.2 .5,1.9 .5,2.1 .5,1.8 .5,1.8 .5,1.6 .5,1.6 .5,1.3 .5,1.4 .5,1.6 .5,1.2 .5,1.3 .5,1.3 .5,1.3 .5,1.1 .5,1.3 .5,1.2 .5,1.1 .5,1.1 .5,1 .5,.9 .5,1.1 .5,.8 .5,1.1 .5,.8 .5,.8 .5,.9 .5,.8 .5,.4 .5,.8 .5,.5 .5,.6 .5,.8 .5,.7 .5,.5 .5,.7 .5,.9 .5,.7 .5,.7 .5,.9 .5,.6 .5,.7 .5,.6 .5,.7 .5,.6 .5,.1 .5,.6 .5,.3 .5,.6 .5,.2 .5,.6 .5-.3 .5,1.1 .5,.4 .5,.1 .5,.4 .5,1 .5,0 .5,.3 .5,.9 .5,.1 .5,.7 .5,.4 .5,.2 .5,.3 .5,.5 .5-.4 .5,.9 .5,.4 .5,0 .5,.6 .5,0 .5,.8 .5,.2 .5,.5 .5,.2 .5,0 .5,0 .5-.5 .5,.5 .5,.5 .5,.4 .5,.2 .5,.6 .5,.2 .5,1 .5,0 .5,.4 .5,.4 .5,0 .5,.7 .5-.4 .5,.1 .5,.7 .5,0 .5,0 .5,.8 .5,0 .5,.2 .5,.1 .5,0 .5-.1 .5-.5 .5,.2 .5,.4 .5-.4 .5,.6 .5,.7 .5,.2 .5,1 .5,.5 .5-.9 .5,.7 .5-.9 .5,.4 .5-.4 .5,0 .5,.1 .5,.6 .5-.5 .5,.4 .5,.7 .5,.2 .5,.2 .5,.9 .5,.1 .5,.8 .5,0 .5,.1 .5-.4 .5,.6 .5,.2 .5-.2 .5,.8 .5-.5 .5,.5 .5,.1 .5-.3 .5,.6 .5,0 .5,1.2 .5-.3 .5,.4 .5,0 .5,.7 .5-.8 .5,.2 .5,.4 .5,.1 .5-.2 .5-.7 .5,.6 .5,.2 .5-.2 .5,.3 .5-.1 .5-.2 .5,.2 .5-.2 .5,1 .5,.1 .5,.5 .5,.3 .5,.2 .5-.2 .5-.6 .5-.9 .5,.1 .5,.5 .5-.4 .5,.1 .5,.7 .5,0 .5,.4 .5-.1 .5-.4 .5,.3 .5,.5 .5,.5 .5,.7 .5-.5 .5-.4 .5-.9 .5-1.1 .5-.2 .5-.9 .5,.5 .5-1.3 .5-.3 .5-.6 .5-.1 .5,0 .5,.1 .5,1.3 .5,.5 .5,.9 .5,1.6 .5,.9 .5,.2 .5,.9 .5,.6 .5,.7 .5,1.2 .5-.1 .5-.2 .5,.7 .5,.1 .5,.3 .5-1.1 .5-.7 .5,.9 .5-1.2 .5,.3 .5,.9 .5,.2 .5,.6 .5,.2 .5,0 .5,.2 .5,.6 .5,0 .5,.3 .5,.6 .5-1 .5,.1 .5,.8 .5-.8 .5,.6 .5,.2 .5-.5 .5,2.1 .5,0 .5-.7 .5,.7 .5,.3 .5-1 .5,.4 .5,.6 .5-.1 .5-.4 .5-.2 .5,1.7 .5-.7 .5,.3 .5,.6 .5-.6 .5,.6 .5-.5 .5-1 .5,.3 .5-.2 .5,.2 .5,.5 .5,.1 .5,1.3 .5,.1 .5-.8 .5,.4 .5-.5 .5-1 .5-.1 .5,1.1 .5,.3 .5-.3 .5,.3 .5,.3 .5-.6 .5-.1 .5,.1 .5-1.2 .5,.7 .5,.3 .5,0 .5-.9 .5,.8 .5,.8 .5-.4 .5,0 .5,.5 .5-.1 .5,.2 .5,.4 .5,.3 .5-.6 .5,1.2 .5-1.1 .5,.5 .5,.2 .5,1.4 .5-1.5 .5,1.8 .5-.4 .5-.8 .5,.4 .5-.2 .5,.9 .5-.4 .5,.2 .5,.2 .5,.8 .5-.3 .5-.2 .5,.4 .5,0 .5-1.4 .5,1.1 .5-1.1 .5,.3 .5-.7 .5,1.2 .5-.3 .5,.4 .5,.5 .5-.2 .5,.4 .5-.4 .5,.1 .5-.4 .5,.8 .5,1.1 .5-.1 .5,.3 .5-.1 .5-1.6 .5-.1 .5-.8 .5,.9 .5,.3 .5-.1 .5,1.7 .5-.4 .5-.1 .5,.1 .5-.5 .5,.4 .5-.5 .5,.8 .5,.2 .5-1.1 .5,1 .5,.5 .5-1.7 .5,.7 .5,1.1 .5-1.3 .5-.1 .5,.7 .5-.3 .5,1.1 .5-.1 .5,1 .5-.4 .5-.4 .5,.7 .5,.5 .5,1.2 .5-.5 .5,.2 .5-1.3 .5,.4 .5-.9 .5,.5 .5-1 .5,1.6 .5-.3 .5-.9 .5,.7 .5,.1 .5-1 .5-.6 .5-.2 .5,1.1 .5-1.2 .5,.9 .5-1.8 .5,1.8 .5,1.2 .5,.4 .5,1 .5,.8 .5-1.5 .5,.7 .5,.5 .5-1.7 .5-.4 .5-.3 .5,0 .5,.2 .5-1 .5-.7 .5,.2 .5-.6 .5,1.2 .5-.7 .5,.3 .5,1.3 .5,.2 .5-.4 .5-.5 .5-.2 .5,.3 .5-.2 .5,0 .5-.2 .5-.4 .5,0 .5,.2 .5-.2 .5,.2 .5-.7 .5,.3 .5-1.3 .5,.4 .5-.5 .5,.5 .5,0 .5-.1 .5,.3 .5,.5 .5,.6 .5-.2 .5,.3 .5,.2 .5-.5 .5,.5 .5,.5 .5-1.2 .5,.5 .5-.5 .5-1.4 .5-.2 .5,.2 .5,0 .5-.2 .5,.7 .5-1 .5,.1 .5-1.4 .5,1 .5-1.4 .5,.5 .5-.9 .5,.7 .5-.9 .5,.3 .5,0 .5-.5 .5-.5 .5-.1 .5-.8 .5-.1 .5,1.2 .5-1.3 .5,.4 .5-.3 .5,0 .5,1.2 .5,.4 .5-.1 .5,.6 .5-.5 .5,1 .5,.3 .5-.4 .5,1.3 .5,0 .5,.7 .5-.3 .5-.2" stroke="#ffff00"/>
<path d="M186,443.9l0-42.2 2.4-.6 2.4-.5 2.4-.4 2.4-.5 2.4-.3 2.4-.2 2.4,.4 2.4,.8 2.4,.6 2.4,.6 2.4,.5 2.4,.3 2.4,0 2.4,.1 2.4,0 2.4,.1 2.4,0 2.4,0 2.4,0 2.4,0 2.4,.1 2.4,0 2.4,0 2.4,0 2.4,0 2.4,0 2.4-.1 2.4-.2 2.4-.3 2.4-.2 2.4-.2 2.4-.3 2.4-.2 2.4-.3 2.4-.3 2.4-.3 2.4-.3 2.4-.2 2.4-.3 2.4-.2 2.4-.2 2.4-.3 2.4-.3 2.4-.3 2.4-.3 2.4-.3 2.4-.3 2.4-.3 2.4-.4 2.4-.4 2.4-.3 2.4-.4 2.4-.4 2.4-.4 2.4-.5 2.4-.4 2.4-.5 2.4-.6 2.4-.5 2.4-.6 2.4-.6 2.4-.7 2.4-.7 2.4-.7 2.4-.7 2.4-.7 2.4-.8 2.4-.8 2.4-.8 2.4-.8 2.4-.9 2.4-.9 2.4-1 2.4-1 2.4-1.1 2.4-1.1 2.4-1.2 2.4-1.2 2.4-1.4 2.4-1.4 2.4-1.6 2.4-1.7 2.4-1.9 2.4-2.1 2.4-2.1 2.4-2.3 2.4-2.5 2.4-2.5 2.4-2.6 2.4-2.6 2.4-2.6 2.4-2.8 2.4-2.8 2.4-3.2 2.4-3.5 2.4-4.2 2.4-5.5 2.4-7.3 2.4-9.6 .4-1.9 .2-1.1 .2-1 .2-1.1 .2-1.2 .2-1.2 .2-1.2 .2-1.4 .2-1.3 .2-1.5 .2-1.5 .2-1.5 .2-1.7 .2-1.8 .2-1.8 .2-2 .2-2.1 .2-2.2 .2-2.5 .2-2.5 .2-2.8 .2-3.1 .2-3.2 .2-3.7 .2-4.6 .2-5.5 .2-6.6 .2-7.5 .2-8.4 .2-9 .2-9.4 .2-9 .2-8 .2-8.5 .2-9.1 .2-9.1 .2-7.4 .2-5.9 .2-5.2 .2-.4 .2,0 .2,0 .2,.4 .2,5.2 .2,5.9 .2,7.5 .2,9.2 .2,9.1 .2,8.4 .2,7.7 .2,8.3 .2,8.5 .2,8.2 .2,7.5 .2,6.8 .2,5.9 .2,5 .2,4.2 .2,3.4 .2,3.1 .2,2.8 .2,2.5 .2,2.4 .2,2.2 .2,2.1 .2,1.9 .2,1.8 .2,1.7 .2,1.6 .2,1.5 .2,1.4 .2,1.4 .2,1.3 .2,1.2 .2,1.2 .2,1.2 .2,1.1 .2,1.1 .2,1 .2,1 .2,1 .4,1.8 1.6,6.6 2.4,8 2.4,6.2 2.4,4.9 2.4,4.2 2.4,3.8 2.4,3.4 2.4,3.1 2.4,3 2.4,2.8 2.4,2.7 2.4,2.7 2.4,2.5 2.4,2.3 2.4,2.3 2.4,2.1 2.4,1.9 2.4,1.8 2.4,1.7 2.4,1.5 2.4,1.4 2.4,1.3 2.4,1.3 2.4,1.1 2.4,1.2 2.4,1 2.4,1 2.4,1 2.4,.9 2.4,.8 2.4,.9 2.4,.8 2.4,.7 2.4,.8 2.4,.7 2.4,.6 2.4,.6 2.4,.4 2.4,.1 2.4-1.2 2.4-1.4 2.4,3.3 2.4,1.7 2.4,1 2.4,.7 2.4,.6 2.4,.5 2.4,.5 2.4,.5 2.4,.5 2.4,.4 2.4,.5 2.4,.4 2.4,.4 2.4,.5 2.4,.4 2.4,.3 2.4,.4 2.4,.3 2.4,.4 2.4,.3 2.4,.3 2.4,.2 2.4,.3 2.4,.2 2.4,.3 2.4,.2 2.4,.1 2.4,.2 2.4,.2 2.4,.1 2.4,.2 2.4,.2 2.4,.1 2.4,.1 2.4,.2 2.4,.1 2.4,.1 2.4,.1 2.4,.1 2.4,.1 2.4,.1 2.4,.1 2.4,.1 2.4,.1 2.4,.1 2.4,.1 2.4-.3 2.4-.8 2.4-.6 2.4-.5 2.4-.2 2.4-.2 2.4-.1 2.4,.1 2.4,.4 2.4,.5 2.4,.6 2.4,.8 .4,.1 0,44.7z" fill="#fff"/>
<path class="p" d="M186,401.3V443.9H677.6V398.8" stroke="#ff00ff"/>
<path class="c" d="M186,399.8l.5-.4 .5,.6 .5,1.4 .5-1 .5,.6 .5,.2 .5-.2 .5-1.4 .5,1.6 .5-.5 .5-.9 .5,.1 .5,1.1 .5-.9 .5-.1 .5-.3 .5-.7 .5,.4 .5-.5 .5-1.2 .5,1.2 .5-1 .5-.6 .5,.7 .5-.5 .5,.2 .5-.4 .5,.8 .5-.1 .5,.4 .5,1 .5,.4 .5-.1 .5,.4 .5,.8 .5-.9 .5,.5 .5-.1 .5,1.2 .5-1.2 .5-.9 .5,.4 .5,.7 .5-1.1 .5,.4 .5,.2 .5,.5 .5,0 .5,.6 .5-.2 .5,.5 .5-.3 .5-.4 .5,.8 .5-.6 .5,.8 .5-.3 .5,0 .5-.7 .5,1 .5-.9 .5,1.4 .5-.5 .5-.4 .5,.3 .5,.9 .5,.4 .5-.8 .5,1.3 .5-.7 .5,.6 .5-.4 .5-1.2 .5,.3 .5,.2 .5,.9 .5-1 .5-.1 .5-.1 .5-.7 .5,1.4 .5-1.1 .5,0 .5,.5 .5-1 .5,1.7 .5-.5 .5,.2 .5,1.1 .5-.3 .5-.2 .5-.9 .5-.3 .5-.3 .5-.3 .5,.8 .5-1.5 .5,.8 .5-.3 .5,.4 .5,0 .5,.7 .5-.2 .5,.7 .5-.7 .5,.6 .5-.9 .5,1.2 .5-.4 .5,.5 .5-.1 .5-.3 .5,.6 .5-.2 .5,.8 .5-1 .5,1.1 .5-.6 .5-.5 .5,2 .5-1 .5-.6 .5-.9 .5,.8 .5-.3 .5,.6 .5-.6 .5,.8 .5-1.5 .5,1.4 .5-1 .5-2.3 .5,1.2 .5,1 .5-1 .5,1 .5,0 .5,.5 .5-.7 .5-.2 .5,.8 .5-1.4 .5,0 .5-1 .5-.3 .5,1 .5,.1 .5-.3 .5,0 .5,.5 .5-.4 .5-.5 .5-.1 .5-.6 .5,.3 .5,.4 .5,.3 .5-1.4 .5,.8 .5,.6 .5,.6 .5,1.2 .5-.2 .5,.7 .5-1.4 .5-.2 .5-1.7 .5,.7 .5,.4 .5-.1 .5-.2 .5,.5 .5-.9 .5-.6 .5-2.1 .5,.6 .5,1.3 .5-1.1 .5-.5 .5,2 .5-2.1 .5,1.5 .5-.7 .5,.6 .5-.4 .5,.1 .5-.4 .5,.1 .5-1.9 .5,1.4 .5-.3 .5,.5 .5,1 .5-.1 .5-.1 .5,0 .5-.4 .5-.2 .5,.4 .5,0 .5-.4 .5-.6 .5-.6 .5,.1 .5,.7 .5-.2 .5,.4 .5-.9 .5,0 .5-.6 .5-.1 .5-.2 .5-.9 .5,1.6 .5-.6 .5,.3 .5-.8 .5-.6 .5,1 .5,1 .5-1.4 .5,.1 .5,1.3 .5-.5 .5,0 .5,1.1 .5-1.4 .5,.1 .5,.1 .5,.6 .5-.2 .5-.1 .5-.6 .5,.6 .5-1.3 .5,.5 .5,1.2 .5-1.9 .5,1 .5,.6 .5-.1 .5,1.2 .5-1.5 .5,.7 .5-1.3 .5-1.7 .5-.3 .5,.5 .5,.2 .5-1.2 .5,.4 .5,0 .5-.1 .5,1 .5-.8 .5,1.4 .5-1.7 .5,1.5 .5-.4 .5-.1 .5-.8 .5-.3 .5,0 .5-.3 .5-.1 .5,.1 .5,.7 .5,.1 .5-.2 .5-1.2 .5,0 .5-.2 .5-.4 .5-.2 .5-.1 .5-.2 .5-.3 .5-1.1 .5,.6 .5,1.6 .5,0 .5-.2 .5-.9 .5,.6 .5-.8 .5-.8 .5,1.1 .5-.7 .5-.5 .5,.1 .5-1.3 .5,.6 .5,.3 .5,.5 .5-.8 .5,0 .5,.5 .5-.1 .5,.3 .5-.6 .5-.3 .5-.1 .5,.3 .5-.2 .5,.3 .5-.3 .5-.9 .5,.1 .5,.1 .5-1 .5-.6 .5-.4 .5-.1 .5,0 .5-.7 .5-.9 .5,.5 .5,.6 .5-.1 .5,.9 .5-.3 .5-.1 .5-.9 .5,0 .5-.8 .5-.8 .5,.8 .5,.1 .5-.7 .5,0 .5-.3 .5,0 .5-.7 .5-.1 .5,.7 .5-.7 .5-.3 .5-.3 .5,.6 .5-.2 .5-.9 .5,.4 .5-.5 .5-.4 .5-.4 .5,0 .5,.2 .5-.9 .5,.7 .5,.2 .5-.7 .5,.6 .5,.2 .5-.6 .5-.5 .5-.3 .5,.3 .5-.8 .5,.1 .5,.3 .5,.2 .5-.4 .5-.4 .5,.4 .5-.4 .5-.4 .5-.8 .5-.3 .5,0 .5-.5 .5-1 .5,.8 .5-.5 .5,.1 .5-1.2 .5-.2 .5-.5 .5-.4 .5-.8 .5-.7 .5-.3 .5,.3 .5-1.2 .5,.4 .5,.1 .5-.5 .5,.1 .5-.3 .5-.4 .5-.5 .5-.3 .5,0 .5-1 .5-.1 .5-.8 .5-.2 .5-.4 .5-.3 .5-.7 .5,0 .5-.3 .5-.8 .5,.3 .5-1.1 .5-.6 .5-.3 .5-.9 .5-.3 .5-.4 .5-.3 .5-.7 .5,0 .5-.5 .5-.7 .5-.4 .5-.8 .5,0 .5-.2 .5-1 .5-.7 .5-.3 .5-.8 .5-.7 .5-.2 .5-.7 .5-.5 .5-.9 .5-.5 .5-.4 .5-.2 .5-.6 .5-.5 .5-.7 .5-.6 .5-.7 .5-.7 .5-.5 .5-.5 .5-.4 .5-.5 .5-.7 .5-.7 .5-.5 .5-.7 .5-.6 .5-.4 .5-.6 .5-.4 .5-.8 .5-.4 .5-.9 .5-.6 .5-.9 .5-.8 .5-.6 .5-.9 .5-.8 .5-1 .5-.9 .5-1.1 .5-.6 .5-1.3 .5-.9 .5-1.2 .5-1.2 .5-1.3 .5-1.4 .5-1.6 .5-1.6 .5-1.8 .5-1.8 .5-1.5 .5-2 .5-1.9 .5-2.2 .5-2.4 .2-1.1 .2-1.1 .1-.6 .1-.6 .2-1.2 .2-1.2 .2-1.2 .2-1.3 .1-.7 .1-.6 .2-1.4 .2-1.4 .2-1.6 .2-1.7 .1-.9 .1-.8 .2-1.9 .2-1.9 .2-2.1 .2-2.3 .1-1.2 .1-1.2 .2-2.6 .2-2.8 .2-3.1 .2-3.3 .1-1.8 .1-1.9 .2-4.6 .2-5.6 .2-6.6 .2-7.5 .1-4.2 .1-4.2 .2-9 .2-9.3 .2-9.1 .2-8 .1-4.2 .1-4.3 .2-9.1 .2-9.1 .2-7.5 .2-5.9 .1-2.6 .1-2.6 .2-.4 .2,0 .2,.1 .2,.4 .1,2.7 .1,2.6 .2,5.9 .2,7.5 .2,9.2 .2,9.1 .1,4.2 .1,4.1 .2,7.7 .2,8.3 .2,8.6 .2,8.2 .1,3.8 .1,3.8 .2,6.8 .2,6 .2,5 .2,4.1 .1,1.7 .1,1.7 .2,3.2 .2,2.8 .2,2.6 .2,2.4 .1,1.1 .1,1.2 .2,2.1 .2,1.9 .2,1.8 .2,1.6 .1,.7 .1,.8 .2,1.6 .2,1.4 .2,1.4 .2,1.3 .1,.6 .1,.6 .2,1.1 .2,1 .2,1.2 .2,1 .1,.6 .1,.5 .2,1 .2,.9 .5,2.3 .5,2.3 .5,1.8 .5,2.2 .5,1.6 .5,1.9 .5,1.6 .5,1.5 .5,1.5 .5,1.3 .5,1.5 .5,1.1 .5,1.4 .5,1.1 .5,1.2 .5,1.1 .5,1 .5,1 .5,.7 .5,1 .5,.8 .5,1 .5,.5 .5,1 .5,.6 .5,1 .5,.7 .5,.8 .5,.7 .5,.8 .5,.6 .5,.8 .5,.7 .5,.6 .5,.9 .5,.5 .5,.8 .5,.8 .5,.4 .5,.7 .5,.4 .5,.8 .5,.6 .5,.6 .5,.8 .5,.4 .5,.6 .5,.3 .5,.5 .5,.6 .5,.6 .5,.4 .5,.6 .5,.6 .5,.7 .5,.7 .5,.5 .5,.7 .5,.3 .5,.9 .5,.4 .5,.3 .5,.6 .5,.3 .5,.6 .5,.6 .5,.6 .5,.3 .5,.8 .5,.9 .5,.5 .5,.5 .5,.8 .5-.1 .5,0 .5-.2 .5,.1 .5,.3 .5,.6 .5,.1 .5,.7 .5-.1 .5,1.1 .5,.7 .5,.4 .5,.9 .5,.2 .5,.3 .5,.5 .5,.3 .5,.1 .5-.2 .5,.6 .5,.2 .5,.2 .5,.1 .5,.1 .5,1.1 .5,0 .5,.4 .5,.5 .5,.1 .5,.8 .5-.2 .5,.4 .5,.5 .5-.5 .5,.4 .5,.2 .5,.9 .5-.1 .5,.3 .5-.1 .5,.1 .5,1.2 .5-.3 .5,.3 .5-.2 .5,.4 .5,.5 .5-.2 .5,.5 .5,.2 .5,0 .5,.5 .5,0 .5,.9 .5-.9 .5,.6 .5,.4 .5,.8 .5,.3 .5-.3 .5-.2 .5-.5 .5,.8 .5,1.1 .5-.1 .5,.3 .5,.1 .5-.8 .5-.1 .5,0 .5,.7 .5,.4 .5,.3 .5,1.6 .5,.5 .5-.9 .5,1 .5-1.7 .5,.6 .5-.3 .5-.3 .5,1.3 .5-.1 .5-1.1 .5,1.1 .5,.1 .5,0 .5-.2 .5,.1 .5,.6 .5,.4 .5,0 .5-.1 .5-.4 .5,.4 .5-.7 .5,1.2 .5,0 .5,.2 .5,.7 .5,1 .5,.4 .5-.2 .5-.3 .5-.3 .5,.2 .5,.5 .5-.2 .5-.5 .5,0 .5,1 .5-.3 .5,.6 .5-.4 .5-1.6 .5,1.1 .5-.1 .5-.3 .5-.4 .5-.7 .5-1.5 .5-.4 .5-.9 .5,2.2 .5,.3 .5,.8 .5,2.4 .5-.3 .5,1.3 .5-.5 .5,0 .5,.8 .5,.1 .5,.6 .5-.3 .5-.2 .5,.7 .5,.2 .5-.1 .5-.1 .5,1.1 .5-.6 .5,.4 .5-.5 .5-.2 .5,.5 .5-.2 .5,1.2 .5-.1 .5,.3 .5-.4 .5-.1 .5,.1 .5,.5 .5-.4 .5,.4 .5-.3 .5,.5 .5-.6 .5,.5 .5,.9 .5-.7 .5,.5 .5-1.2 .5-.3 .5,.6 .5-.3 .5,1.4 .5,.9 .5-.1 .5,.5 .5,.5 .5-1.2 .5-.6 .5-.6 .5-.7 .5,.9 .5,1.1 .5,.4 .5,.3 .5,.8 .5-1.3 .5,0 .5,.4 .5,.1 .5-1.8 .5,1.6 .5,.1 .5-.2 .5,.6 .5,.6 .5-.1 .5,.9 .5-.3 .5,1.5 .5-.5 .5,.5 .5,1.2 .5-2.4 .5,.6 .5-1.8 .5,0 .5,0 .5,1.1 .5-.9 .5,1.3 .5,.1 .5,.6 .5,.1 .5,.3 .5,.3 .5-.8 .5-.2 .5-.2 .5,.2 .5-.5 .5-.1 .5,.8 .5-.1 .5,.4 .5,0 .5-.4 .5-.5 .5-.6 .5,0 .5-.5 .5,1.1 .5,.6 .5-1.1 .5,.8 .5,.2 .5-1 .5,.8 .5,.6 .5-.1 .5,.6 .5-.2 .5,.7 .5,0 .5-.2 .5-1.1 .5,.1 .5,1.6 .5-.3 .5,1.2 .5,0 .5,.5 .5-1 .5,.2 .5-.2 .5-.3 .5-.1 .5,.4 .5,.5 .5-1.5 .5,1.2 .5,.9 .5,.4 .5,.5 .5-1.1 .5-1.1 .5,1.3 .5-.8 .5,.7 .5-1 .5,.8 .5,.5 .5,0 .5-.5 .5-.3 .5,.3 .5-.2 .5-.5 .5,.3 .5-1.8 .5,.9 .5-.2 .5,.6 .5-.2 .5,1.9 .5-.2 .5,.5 .5-.1 .5,.5 .5-1.7 .5,.5 .5-.4 .5-.7 .5-.2 .5-.9 .5,1.1 .5-.1 .5,.2 .5,.5 .5,0 .5,.8 .5-.3 .5,1.3 .5,.7 .5-.6 .5-.6 .5,.8 .5,.1 .5-.4 .5-.7 .5-.2 .5-.7 .5,.6 .5-1.8 .5,.2 .5,.5 .5-1.3 .5,1 .5,.3 .5,2 .5-.7 .5,1.2 .5,.7 .5-1.6 .5,.3 .5,.1 .5-.2 .5,1.1 .5-1.1 .5,.7 .5,0 .5-.9 .5,.6 .5,.2 .5,0 .5-.5 .5-.7 .5,.7 .5,.1 .5-1 .5,.6 .5,.1 .5-.9 .5,1.7 .5-.5 .5,1.2 .5-.6 .5-.2 .5-1 .5,.5 .5-1.7 .5-.6 .5,.3 .5-.9 .5,1.6 .5,.8 .5-.4 .5,1 .5-1.8 .5,.1 .5,.6 .5-.9 .5-.4 .5-1.1 .5,.9 .5,.1 .5,.6 .5-.7 .5,.8 .5-.5 .5-.3 .5,.5 .5,.2 .5-1 .5,.5 .5-.6 .5-.6 .5,.8 .5-.4 .5-1.2 .5,1.8 .5,.9 .5,.1 .5-.1 .5-.1 .5-.8 .5-.6 .5-.2 .5-.3 .5,1.1 .5-.1 .5-1.1 .5,.8 .5-.6 .5,.7 .5,1 .5-.7 .5,1.1 .5-.3 .5-.1 .5-.2 .5,1.2 .5-.3 .5,.3 .5-.1 .5,2.1 .5-.4" stroke="#ff00ff"/>
<path d="M162.2,455l0-42 2.4,0 2.4,0 2.4,0 2.4,0 2.4,0 2.4,0 2.4-.1 2.4,0 2.4,0 2.4-.1 2.4,0 2.4-.1 2.4,0 2.4-.1 2.4,0 2.4-.1 2.4,0 2.4-.1 2.4,0 2.4-.1 2.4,0 2.4-.1 2.4-.1 2.4-.1 2.4,0 2.4-.1 2.4-.1 2.4-.1 2.4-.1 2.4-.1 2.4-.1 2.4-.1 2.4-.1 2.4-.2 2.4-.1 2.4-.1 2.4-.2 2.4-.1 2.4-.2 2.4-.2 2.4-.2 2.4-.2 2.4-.3 2.4-.2 2.4-.3 2.4-.3 2.4-.3 2.4-.3 2.4-.3 2.4-.4 2.4-.3 2.4-.4 2.4-.4 2.4-.4 2.4-.4 2.4-.4 2.4-.5 2.4-.6 2.4-.5 2.4-.6 2.4-.6 2.4-.7 2.4-.7 2.4-.8 2.4-.8 2.4-.8 2.4-.9 2.4-1 2.4-1 2.4-1.1 2.4-1.1 2.4-1.1 2.4-1.3 2.4-1.3 2.4-1.3 2.4-1.4 2.4-1.5 2.4-1.5 2.4-1.6 2.4-1.7 2.4-1.9 2.4-2 2.4-2.1 2.4-2.2 2.4-2.4 2.4-2.6 2.4-2.8 2.4-2.9 2.4-3.2 2.4-3.6 2.4-3.9 2.4-4.4 2.4-4.8 2.4-5.5 2.4-6.2 2.4-7 2.4-8.2 1.6-6.6 .3-1.4 .2-1 .2-1 .1-.5 .1-.5 .2-1.1 .2-1.1 .2-1.1 .1-.6 .1-.6 .2-1.3 .2-1.3 .2-1.4 .1-.7 .1-.7 .2-1.5 .2-1.6 .2-1.6 .1-.9 .1-.9 .2-1.8 .2-2 .2-2 .1-1.1 .1-1.1 .2-2.2 .2-2.4 .2-2.6 .1-1.3 .1-1.4 .2-2.9 .2-3 .2-3.3 .1-1.7 .1-1.8 .2-4.1 .2-4.4 .2-4.9 .1-2.6 .1-2.6 .2-5.3 .2-5.2 .2-5.7 .1-3.2 .1-3.3 .2-7.6 .2-8.7 .2-9.9 .1-2.5 .1,0 .2,0 .2,0 .2,2.5 .1,5.1 .1,4.8 .2,8.7 .2,7.6 .2,6.5 .1,3 .1,2.7 .2,5.2 .2,5.3 .2,5.2 .1,2.5 .1,2.4 .2,4.4 .2,4.1 .2,3.5 .1,1.7 .1,1.6 .2,3.1 .2,2.9 .2,2.7 .1,1.3 .1,1.3 .2,2.5 .2,2.3 .2,2.1 .1,1.1 .1,1 .2,1.9 .2,1.8 .2,1.8 .1,.8 .1,.8 .2,1.5 .2,1.5 .2,1.3 .1,.7 .1,.6 .2,1.3 .2,1.1 .2,1.1 .1,.6 .1,.5 .2,1 .2,1 .2,.9 .1,.5 .1,.4 .2,.9 .5,2.1 .8,3 2.4,7.7 2.4,6.7 2.4,6.2 2.4,5.6 2.4,5.1 2.4,4.5 2.4,4.1 2.4,3.7 2.4,3.4 2.4,3 2.4,2.9 2.4,2.7 2.4,2.5 2.4,2.3 2.4,2.2 2.4,2.1 2.4,1.9 2.4,1.8 2.4,1.7 2.4,1.6 2.4,1.4 2.4,1.4 2.4,1.3 2.4,1.3 2.4,1.2 2.4,1.1 2.4,1.1 2.4,1 2.4,1 2.4,1 2.4,.9 2.4,.8 2.4,.9 2.4,.8 2.4,.8 2.4,.7 2.4,.7 2.4,.8 2.4,.7 2.4,.7 2.4,.6 2.4,.7 2.4,.5 2.4,.6 2.4,.4 2.4,.4 2.4,.3 2.4,.4 2.4,.3 2.4,.2 2.4,.3 2.4,.3 2.4,.2 2.4,.2 2.4,.2 2.4,.2 2.4,.2 2.4,.2 2.4,.2 2.4,.2 2.4,.1 2.4,.2 2.4,.1 2.4,.2 2.4,.1 2.4,.1 2.4,.2 2.4,.1 2.4,.1 2.4,.1 2.4,.1 2.4,.1 2.4,.1 2.4,.1 2.4,.2 2.4,.1 2.4,.1 2.4,.1 2.4,.1 2.4,.1 2.4,.1 2.4,.1 2.4,.1 2.4,0 2.4,.1 2.4,.1 2.4,.1 2.4,0 2.4,.1 2.4,.1 2.4,0 2.4,.1 2.4,0 2.4,0 2.4,.1 2.4,0 2.4,0 2.4,0 2.4,0 2,0 0,42.6z" fill="#fff"/>
<path class="p" d="M162.2,412.6V455H653.8V412" stroke="#00ffff"/>
<path class="c" d="M162.2,411.4l.5-.3 .5,.4 .5,.3 .5,.3 .5-.4 .5-.1 .5-.5 .5,.5 .5,.4 .5,.6 .5,.9 .5,.6 .5,1.6 .5-.1 .5-.3 .5-.8 .5,.2 .5-.3 .5-1.2 .5,.4 .5-1.6 .5-.3 .5,.8 .5-.7 .5,1.7 .5,.1 .5-.3 .5-.2 .5,.3 .5,.9 .5-.8 .5-.1 .5-1.2 .5,.5 .5,.6 .5,.7 .5-.5 .5,.8 .5-.5 .5-.1 .5,.1 .5-.6 .5,0 .5-.1 .5-.9 .5,.5 .5,.5 .5,.4 .5-.5 .5-.2 .5-.1 .5-.3 .5,.3 .5,.5 .5-1.8 .5,.1 .5-.1 .5,0 .5,1.8 .5-.2 .5,.5 .5-.8 .5,.5 .5-.9 .5-1.5 .5-.2 .5,1.3 .5-.2 .5,2.3 .5,0 .5,0 .5-1.6 .5-.8 .5-1 .5-1.2 .5,1.7 .5,.1 .5,1.3 .5,.4 .5,.4 .5-.4 .5-1 .5-.8 .5,1.2 .5-1.2 .5-.3 .5,.9 .5-.4 .5-.5 .5,.9 .5,.2 .5-.9 .5,1.2 .5-.2 .5,.4 .5-.7 .5-.1 .5-1.2 .5,.5 .5,1.3 .5-1.3 .5,1 .5,.8 .5-.1 .5,.6 .5,.6 .5-.1 .5-.9 .5-1 .5-.4 .5,0 .5-1 .5,.7 .5-1.1 .5,.8 .5,.1 .5,1 .5-.1 .5,.7 .5,.8 .5-.6 .5,.3 .5-.1 .5,.1 .5,.3 .5-.5 .5,.6 .5-1 .5-1.3 .5-.4 .5,.1 .5,0 .5-.2 .5,.1 .5,1 .5-.4 .5-1.1 .5-.3 .5,.3 .5,0 .5-.1 .5,.2 .5,.3 .5,.5 .5-.8 .5,.3 .5-.1 .5-1 .5,.6 .5,.8 .5,0 .5,1.6 .5-.6 .5,1 .5-.9 .5-1.4 .5-1.5 .5-.2 .5,.1 .5-1 .5,1.6 .5-.2 .5,1.4 .5-.7 .5,.2 .5-.8 .5,.2 .5,.3 .5-.7 .5,.8 .5,1.4 .5-.7 .5,.2 .5,.1 .5-.4 .5-.1 .5-.3 .5,.3 .5,.4 .5-.7 .5-1 .5,.7 .5-1.4 .5-.3 .5,0 .5-.3 .5,.4 .5-.1 .5,.2 .5-.5 .5-.3 .5,1.2 .5-.7 .5,1.5 .5-1 .5-.3 .5-1.7 .5,.7 .5-.1 .5,1.9 .5-.4 .5,.3 .5,.3 .5,1 .5-1.6 .5-.6 .5-.4 .5,.6 .5,1.2 .5-.5 .5-.4 .5,.5 .5-1.2 .5,0 .5-.7 .5-.5 .5,.9 .5-1.4 .5,1.5 .5,.2 .5,.2 .5-.7 .5-.1 .5,.2 .5-.2 .5-1.1 .5-.1 .5,1 .5-.3 .5,0 .5,.8 .5,.6 .5,1.8 .5-1.6 .5-.8 .5-1 .5-1.3 .5-1.1 .5,.6 .5,.2 .5,1.2 .5,.2 .5,.5 .5-.2 .5,0 .5,.1 .5-.3 .5,.5 .5,.1 .5,.7 .5-.3 .5-.1 .5-.9 .5-.2 .5-.6 .5,.6 .5,1 .5,.5 .5-1.2 .5,.7 .5-.7 .5-.4 .5-.6 .5-2.2 .5,1.8 .5-.5 .5,0 .5,.4 .5-.3 .5-.8 .5-.8 .5-.5 .5-1 .5,1.3 .5-.3 .5,0 .5,.6 .5,.7 .5,.3 .5-2.1 .5-.3 .5,.2 .5-1 .5,.6 .5-.4 .5,.4 .5-.9 .5,0 .5-.4 .5-1 .5,.5 .5,1.2 .5-.6 .5,.4 .5,.9 .5-.5 .5-.6 .5-.2 .5-.6 .5,0 .5,.9 .5-.7 .5,1.5 .5,.1 .5-1.4 .5-.4 .5,.7 .5-.1 .5,0 .5-1.3 .5,.1 .5,0 .5-.8 .5-.6 .5,.1 .5-.9 .5,.3 .5,.3 .5,.3 .5-.2 .5-.2 .5-.1 .5-.5 .5,0 .5-.6 .5-.6 .5,.1 .5,0 .5-1.6 .5,0 .5,.4 .5-.2 .5,.2 .5,.6 .5-.8 .5,.2 .5-.9 .5-.2 .5-.7 .5,.4 .5-.3 .5,.1 .5,0 .5-.2 .5-1.6 .5-.4 .5-.4 .5-.8 .5-.1 .5-.2 .5-.7 .5-.7 .5,.6 .5,.4 .5-.3 .5-.8 .5,.8 .5-.9 .5,.2 .5-.5 .5,0 .5-.2 .5-.9 .5-1.4 .5,.1 .5-.4 .5,.2 .5-.2 .5-.2 .5-.2 .5-.6 .5,.5 .5-.1 .5,0 .5,0 .5-.2 .5-.9 .5,.5 .5-1.3 .5-.3 .5-.2 .5-.2 .5-.9 .5-.8 .5-1 .5-.3 .5-.8 .5-.3 .5,.1 .5,0 .5,.3 .5-.4 .5-1.1 .5-1 .5-1.1 .5-1.2 .5,.1 .5,.2 .5-.4 .5,.3 .5-.3 .5-1 .5,.2 .5-.6 .5-.5 .5-1 .5-.3 .5-.9 .5-.4 .5-.3 .5-.6 .5-.4 .5-.2 .5-.6 .5-.6 .5-.9 .5-.6 .5-.6 .5-.5 .5-.4 .5-.6 .5-.4 .5-.6 .5-.7 .5-.8 .5-.6 .5-.8 .5-.5 .5-.9 .5-.8 .5-.7 .5-.9 .5-.8 .5-.8 .5-1 .5-.6 .5-1.1 .5-.7 .5-.8 .5-.9 .5-.9 .5-.9 .5-1 .5-.7 .5-1.4 .5-1.1 .5-1.2 .5-1 .5-1.1 .5-1.3 .5-1.2 .5-1.2 .5-1.2 .5-1.3 .5-1.3 .5-1.2 .5-1.7 .5-1.2 .5-1.5 .5-1.6 .5-1.4 .5-1.6 .5-1.7 .5-1.5 .5-1.8 .5-1.8 .5-2 .5-2.4 .5-2.3 .2-1 .2-1 .1-.5 .1-.6 .2-1.1 .2-1.1 .2-1.1 .2-1.1 .1-.5 .1-.6 .2-1.3 .2-1.2 .2-1.3 .2-1.4 .1-.7 .1-.7 .2-1.6 .2-1.7 .2-1.8 .2-1.8 .1-1 .1-1 .2-2 .2-2.2 .2-2.3 .2-2.4 .1-1.3 .1-1.2 .2-2.7 .2-2.9 .2-3.1 .2-3.2 .1-1.8 .1-1.8 .2-4.1 .2-4.5 .2-4.9 .2-5.3 .1-2.6 .1-2.7 .2-5.1 .2-5.7 .2-6.6 .2-7.6 .1-4.4 .1-4.4 .2-9.8 .2-2.4 .2-.1 .2,0 .1,1.2 .1,1.3 .2,10 .2,8.8 .2,7.5 .2,6.5 .1,2.9 .1,2.8 .2,5.3 .2,5.3 .2,5.2 .2,4.8 .1,2.2 .1,2.2 .2,4.1 .2,3.6 .2,3.3 .2,3.2 .1,1.4 .1,1.5 .2,2.7 .2,2.6 .2,2.5 .2,2.3 .1,1 .1,1.2 .2,2 .2,2 .2,1.8 .2,1.7 .1,.8 .1,.8 .2,1.6 .2,1.4 .2,1.3 .2,1.3 .1,.6 .1,.6 .2,1.1 .2,1.1 .2,1.1 .2,1.1 .1,.5 .1,.5 .2,.9 .2,.9 .2,.8 .3,1.2 .5,2 .5,1.9 .5,1.6 .5,1.7 .5,1.6 .5,1.6 .5,1.3 .5,1.7 .5,1.4 .5,1.5 .5,1.4 .5,1.3 .5,1.4 .5,1.2 .5,1.3 .5,1.3 .5,1.3 .5,.9 .5,1.3 .5,1 .5,1.2 .5,1.2 .5,.9 .5,1.1 .5,1 .5,1.1 .5,.9 .5,.9 .5,1.1 .5,.8 .5,1.1 .5,.7 .5,1 .5,.8 .5,.5 .5,.9 .5,.9 .5,1 .5,.7 .5,.7 .5,.7 .5,.7 .5,.8 .5,.6 .5,.8 .5,.6 .5,.7 .5,.8 .5,.6 .5,.6 .5,.6 .5,.6 .5,.7 .5,.6 .5,.8 .5,.5 .5,.4 .5,.8 .5,.4 .5,.6 .5,.1 .5,.7 .5,.5 .5,.2 .5,.4 .5,.5 .5,.3 .5,.6 .5,.5 .5,.4 .5,.6 .5,.6 .5,.4 .5,.7 .5,.5 .5,.4 .5,.6 .5,.8 .5,.3 .5,.5 .5,.6 .5,0 .5,.7 .5,.2 .5,.1 .5-.4 .5,.5 .5-.1 .5,.8 .5,.6 .5,.3 .5,.5 .5,.5 .5,.8 .5,.2 .5,.6 .5,0 .5,.1 .5-.3 .5,.1 .5,.5 .5,.5 .5,.8 .5-.1 .5,1 .5-.2 .5,.8 .5,0 .5-.2 .5,.4 .5,.3 .5,.7 .5-.3 .5,.5 .5,.1 .5,.6 .5,.8 .5-.5 .5,.2 .5,1.2 .5,.3 .5,.2 .5,.3 .5,.4 .5-1.3 .5,0 .5,.4 .5,.5 .5-.7 .5-.4 .5,.4 .5,.3 .5,1.5 .5,.4 .5,1.4 .5-.5 .5,.5 .5,.9 .5-.2 .5-.9 .5,.2 .5,.2 .5-.2 .5-.5 .5,.7 .5,.7 .5-.8 .5,.3 .5-.3 .5,.1 .5,.9 .5,1.1 .5,.3 .5,.9 .5-.2 .5,.6 .5,0 .5,.6 .5-.5 .5,.4 .5-.1 .5,.2 .5-.5 .5,.5 .5-2.1 .5,1.1 .5-.4 .5,.8 .5,.6 .5,.2 .5,1 .5,.1 .5,.6 .5-.1 .5,.2 .5-1.3 .5,1.2 .5-.3 .5-.7 .5-.8 .5,2.4 .5,1 .5,.3 .5,1 .5,1.2 .5,.4 .5-.2 .5-.6 .5,.4 .5-.9 .5-.2 .5-.6 .5-.9 .5,.3 .5,0 .5,.7 .5,.1 .5-.2 .5,1 .5,.9 .5,0 .5,.7 .5-.1 .5,0 .5-1.1 .5-1 .5,1.5 .5,.5 .5-.1 .5,.3 .5,.4 .5,0 .5-.9 .5,.1 .5-.3 .5,.7 .5,.9 .5-.4 .5,1.1 .5,.1 .5,.4 .5-1.1 .5,0 .5,.7 .5,.1 .5,0 .5,.1 .5-.1 .5,.3 .5-.3 .5,.7 .5-.7 .5,.6 .5-1.5 .5,.3 .5,.4 .5,0 .5-.8 .5,.1 .5,.8 .5-1.1 .5,.9 .5-.4 .5,.5 .5-.2 .5,.1 .5,1.2 .5,.3 .5,.4 .5,.8 .5,0 .5,.6 .5-1.4 .5-1 .5-.2 .5,.6 .5-.8 .5-.4 .5,.4 .5-.6 .5,1 .5,.2 .5,.2 .5-1 .5,1.1 .5-.1 .5-.7 .5,.4 .5,0 .5,1.5 .5-.9 .5,.4 .5,.7 .5-1.4 .5,.6 .5-.2 .5,.5 .5,.6 .5,0 .5,.9 .5-.5 .5-.4 .5,.3 .5,.1 .5-1 .5,.3 .5,0 .5,.6 .5,.9 .5,.3 .5-1.1 .5-1 .5,.4 .5-1.2 .5,.7 .5,1.1 .5-.4 .5,1.2 .5,.7 .5,.1 .5,.5 .5,.6 .5-1.2 .5-.1 .5-.3 .5-1 .5-.8 .5,.4 .5-.1 .5,.6 .5-.2 .5,.6 .5-1.3 .5,1.2 .5-.4 .5,0 .5,.3 .5-.7 .5,.5 .5,.1 .5-.2 .5,.5 .5-.8 .5,.4 .5,0 .5,1.3 .5-.5 .5,.7 .5-.2 .5-.5 .5,.3 .5-.1 .5-.9 .5-.2 .5-.4 .5,1.8 .5-1.1 .5,.4 .5,.2 .5-.5 .5,.6 .5,.5 .5-.7 .5-.7 .5-1.4 .5,.9 .5-.2 .5,.9 .5,0 .5,.6 .5,.6 .5,1.1 .5-.5 .5,.5 .5-1.3 .5,.6 .5,.5 .5-2 .5,.2 .5,0 .5,.1 .5,1 .5-.8 .5,1.3 .5-1.1 .5,1 .5,1.2 .5-1.1 .5-.3 .5,1 .5-.8 .5,.5 .5,0 .5,.7 .5-2.2 .5,.4 .5-.8 .5,.4 .5,.2 .5-.6 .5,1.1 .5,.4 .5,.4 .5-.9 .5-.5 .5,.4 .5-.2 .5,.8 .5-.8 .5,1.3 .5,.1 .5-1 .5,.6 .5,.4 .5-.6 .5-.3 .5-.7 .5,1 .5,.5 .5-.2 .5-.1 .5,1 .5-1 .5,.3 .5,.1 .5,1.1 .5-1.4 .5-.8 .5,.6 .5-1.2 .5,1.1 .5,.6 .5-.8 .5-.1 .5-.6 .5,.2 .5-1.1 .5,1 .5,.5 .5,1.4 .5,.6 .5,.3 .5-.1 .5-.6 .5-.7 .5-.7 .5-.6 .5-.3 .5-.4 .5,.1 .5,.2 .5,.6 .5-.5 .5,.2 .5,.6 .5-1.3 .5,2.2 .5-.6 .5,.3 .5,.7 .5-1.3 .5,1.4 .5,.4 .5-1.1 .5,1.2 .5,.2 .5-.2 .5-.2 .5-.5 .5-.3 .5,.7 .5-1.1 .5-1.1 .5,1.5 .5-.2 .5-.4 .5-.2 .5,.9 .5,.1 .5,0 .5-1.1 .5,.1 .5,1.4 .5-.1 .5-.5 .5,.1 .5-.5 .5,.5 .5-.4 .5,1 .5,.5 .5-.5 .5,1 .5,.3 .5-.7 .5-.4 .5,1.2 .5-1.1 .5,0 .5,.7 .5-.3" stroke="#00ffff"/>
<path d="M138.4,466.2l0-39.5 2.4,0 2.4,0 2.4-.1 2.4,0 2.4,0 2.4-.1 2.4,0 2.4,0 2.4-.1 2.4,0 2.4-.1 2.4-.1 2.4,0 2.4-.1 2.4-.1 2.4-.1 2.4,0 2.4-.1 2.4-.1 2.4-.1 2.4-.1 2.4-.1 2.4-.1 2.4-.1 2.4-.1 2.4-.1 2.4-.2 2.4-.1 2.4-.1 2.4-.2 2.4-.1 2.4-.2 2.4-.2 2.4-.2 2.4-.2 2.4-.2 2.4-.3 2.4-.2 2.4-.3 2.4-.2 2.4-.3 2.4-.3 2.4-.2 2.4-.3 2.4-.3 2.4-.3 2.4-.3 2.4-.3 2.4-.3 2.4-.3 2.4-.3 2.4-.4 2.4-.3 2.4-.4 2.4-.3 2.4-.4 2.4-.4 2.4-.5 2.4-.4 2.4-.5 2.4-.5 2.4-.6 2.4-.6 2.4-.7 2.4-.7 2.4-.8 2.4-.9 2.4-.9 2.4-1 2.4-1 2.4-1.1 2.4-1.2 2.4-1.2 2.4-1.3 2.4-1.3 2.4-1.3 2.4-1.4 2.4-1.4 2.4-1.5 2.4-1.7 2.4-1.7 2.4-1.8 2.4-1.9 2.4-2.1 2.4-2.2 2.4-2.3 2.4-2.5 2.4-2.8 2.4-3 2.4-3.3 2.4-3.6 2.4-4.1 2.4-4.4 2.4-4.9 2.4-5.3 2.4-6 2.4-6.4 .8-2.2 .5-1.5 .2-.6 .1-.3 .1-.3 .2-.6 .2-.5 .2-.6 .1-.3 .1-.3 .2-.6 .2-.6 .2-.6 .1-.2 .1-.3 .2-.6 .2-.5 .2-.6 .1-.3 .1-.3 .2-.5 .2-.6 .2-.6 .1-.2 .1-.3 .2-.5 .2-.4 .2-.4 .1-.3 .1-.2 .2-.4 .2-.5 .2-.4 .1-.2 .1-.2 .2-.5 .2-.4 .2-.3 .1-.2 .1-.1 .2-.3 .2-.3 .2-.2 .1-.2 .1-.1 .2-.1 .2-.1 .2-.1 .1-.1 .1,0 .2,0 .2,0 .2,0 .1,0 .1,0 .2,.1 .2,.1 .2,.1 .1,0 .1,.1 .2,.3 .2,.2 .2,.3 .1,.1 .1,.2 .2,.3 .2,.3 .2,.4 .1,.3 .1,.2 .2,.4 .2,.4 .2,.5 .1,.2 .1,.2 .2,.5 .2,.4 .2,.4 .1,.3 .1,.2 .2,.5 .2,.6 .2,.6 .1,.2 .1,.3 .2,.6 .2,.6 .2,.5 .1,.3 .1,.3 .2,.5 .2,.6 .2,.6 .1,.3 .1,.3 .2,.6 .2,.6 .2,.5 .1,.3 .1,.3 .2,.6 .2,.6 .3,.9 1.6,4.4 2.4,6.4 2.4,5.8 2.4,5.1 2.4,4.5 2.4,4.2 2.4,3.7 2.4,3.4 2.4,3.1 2.4,2.9 2.4,2.6 2.4,2.4 2.4,2.2 2.4,2.2 2.4,2 2.4,1.9 2.4,1.7 2.4,1.6 2.4,1.5 2.4,1.4 2.4,1.3 2.4,1.3 2.4,1.2 2.4,1.1 2.4,1.1 2.4,1.1 2.4,.9 2.4,1 2.4,.9 2.4,.8 2.4,.8 2.4,.8 2.4,.8 2.4,.7 2.4,.7 2.4,.6 2.4,.7 2.4,.6 2.4,.5 2.4,.6 2.4,.6 2.4,.5 2.4,.5 2.4,.5 2.4,.5 2.4,.5 2.4,.5 2.4,.4 2.4,.4 2.4,.5 2.4,.4 2.4,.3 2.4,.4 2.4,.3 2.4,.4 2.4,.3 2.4,.3 2.4,.2 2.4,.3 2.4,.2 2.4,.3 2.4,.2 2.4,.2 2.4,.2 2.4,.2 2.4,.2 2.4,.2 2.4,.1 2.4,.2 2.4,.2 2.4,.1 2.4,.2 2.4,.1 2.4,.1 2.4,.2 2.4,.1 2.4,.1 2.4,.1 2.4,.1 2.4,.2 2.4,.1 2.4,.1 2.4,.1 2.4,.1 2.4,.1 2.4,.1 2.4,.1 2.4,.1 2.4,.1 2.4,.1 2.4,.1 2.4,.1 2.4,0 2.4,.1 2.4,.1 2.4,0 2.4,.1 2.4,0 2.4,0 2.4,.1 2,0 0,39.5z" fill="#fff"/>
<path class="p" d="M138.4,426.3V466.2H630V426.3" stroke="#0000ff"/>
<path class="c" d="M138.4,426.5l.5-1 .5,1 .5,.3 .5-.7 .5,1.1 .5-.5 .5-.2 .5,.1 .5,.2 .5,.2 .5,.1 .5-.7 .5-.1 .5-.6 .5,.5 .5-.3 .5,1.1 .5-1.1 .5,1.2 .5,.7 .5,.2 .5,0 .5-.9 .5,.1 .5,.8 .5-.7 .5,0 .5,.6 .5-.4 .5,.5 .5-.7 .5,.8 .5-1 .5,0 .5-.1 .5-.1 .5-1 .5,.8 .5-.3 .5-.3 .5,0 .5,.2 .5,.6 .5,.4 .5-.5 .5-.5 .5-.5 .5-.3 .5-.8 .5,.5 .5-1 .5,.3 .5,.7 .5-.4 .5,2 .5-1.9 .5,.7 .5,.4 .5,1.6 .5-1.6 .5,1.9 .5,.1 .5-1.1 .5,.1 .5-.2 .5-1.2 .5,.6 .5-1 .5,.1 .5-.7 .5,1.2 .5-1.1 .5,.6 .5-.7 .5,1.4 .5-1.3 .5,.4 .5-.1 .5,.6 .5-.6 .5,0 .5,.7 .5,.2 .5,0 .5-.8 .5,1 .5,0 .5,.7 .5,.3 .5,.2 .5,.5 .5-.6 .5,.2 .5-.8 .5,0 .5-1.6 .5-.1 .5,.2 .5-.5 .5,1.3 .5-.2 .5-.5 .5-.5 .5,.5 .5-.6 .5-.1 .5,.8 .5,.7 .5,0 .5-1 .5,.1 .5,.7 .5-.4 .5-.2 .5-.2 .5-.6 .5-1.5 .5,1.1 .5-.6 .5,1 .5,.5 .5,.7 .5,.3 .5,0 .5-.7 .5-.3 .5,.3 .5-1.5 .5,1.7 .5-.5 .5-.6 .5,1.6 .5-1.3 .5-.3 .5,.2 .5,.7 .5-1.7 .5,.5 .5,.2 .5-1 .5,.8 .5-.9 .5,.7 .5-.6 .5,.7 .5-.3 .5,.3 .5,0 .5-.3 .5,.3 .5,.2 .5-.2 .5,1 .5,1.1 .5-1.1 .5-.6 .5-.9 .5-.5 .5-.2 .5,.4 .5-.6 .5,.8 .5-1.5 .5,.3 .5-.1 .5,.4 .5-.3 .5,.1 .5-.9 .5,.6 .5-1.4 .5,.1 .5-.4 .5,1.3 .5,.4 .5,.2 .5,.4 .5,.4 .5,.8 .5,.3 .5-.2 .5-.3 .5,.2 .5-.2 .5-.6 .5-.7 .5,.3 .5-.6 .5-.4 .5-.1 .5,.3 .5-.3 .5,.4 .5-.5 .5-.1 .5,1.2 .5-.8 .5,.5 .5,.3 .5-1.2 .5,.6 .5-.7 .5-.5 .5-.2 .5,.1 .5,.3 .5-1.3 .5,1.1 .5,.3 .5,.1 .5,.6 .5-.1 .5-.3 .5,.2 .5-2 .5,1.1 .5,.6 .5-.2 .5,.7 .5-1.5 .5,.6 .5-.8 .5-.3 .5,.2 .5-.1 .5,.7 .5-.3 .5,.2 .5-.3 .5,.2 .5-1.2 .5,.1 .5,.2 .5,.9 .5-.8 .5,.1 .5,.8 .5,.5 .5-1.3 .5-.7 .5,.9 .5-1.6 .5,1.7 .5-.4 .5-.2 .5,1.3 .5-.2 .5-.1 .5-.7 .5-1.5 .5,.1 .5,.7 .5,0 .5-.2 .5-1.1 .5,.5 .5-1 .5,.1 .5-.1 .5-1.5 .5,.8 .5,.5 .5,.1 .5,.2 .5,.1 .5,.6 .5-1.1 .5,.5 .5-.2 .5,.6 .5-.3 .5,.1 .5-.6 .5-.1 .5-.1 .5,.2 .5-.1 .5-.2 .5,0 .5,0 .5,.4 .5-1.6 .5-.1 .5,.3 .5-1.1 .5-.6 .5,.3 .5,.6 .5,1.9 .5,.2 .5,.4 .5-1.4 .5-.8 .5-.3 .5-.6 .5,.7 .5,.6 .5,.7 .5-.2 .5-.4 .5-.8 .5-1 .5-.8 .5,0 .5,0 .5-.5 .5,.8 .5-.4 .5,.4 .5-.5 .5-1.3 .5-.9 .5,.5 .5-.3 .5,.2 .5,.2 .5,.6 .5-.6 .5,.2 .5-1.2 .5-.6 .5-.6 .5,1.1 .5-.2 .5,0 .5-.9 .5,1 .5-1 .5-1.6 .5,.2 .5,.8 .5-.5 .5-.4 .5,.1 .5,.5 .5,.6 .5-.3 .5,.6 .5-.2 .5-.5 .5-.3 .5-1.4 .5,.1 .5-.5 .5,.2 .5-.2 .5-.1 .5-.2 .5-1 .5-1.1 .5-.9 .5-.5 .5,.4 .5-.8 .5,.2 .5-.7 .5,.9 .5-1.1 .5,.5 .5-.8 .5,.3 .5-.8 .5,.1 .5,.1 .5-.6 .5-.5 .5-.3 .5,.4 .5-.5 .5-.4 .5-.4 .5-.3 .5,.2 .5,0 .5-1.3 .5-.4 .5-1.1 .5-.2 .5-.7 .5,.4 .5-.5 .5,0 .5-.2 .5,0 .5-.5 .5-.1 .5-.5 .5-.4 .5-.8 .5,.5 .5-.4 .5-.1 .5-.8 .5-.3 .5-.7 .5-.3 .5-.9 .5-.3 .5,.2 .5-.9 .5-.4 .5,.1 .5-.8 .5-.5 .5-.3 .5-.6 .5-.1 .5-.9 .5-.5 .5-.4 .5-.4 .5-.6 .5-.5 .5-.7 .5-.4 .5-.6 .5-.1 .5-.8 .5-.3 .5-.7 .5-.6 .5-.9 .5-.4 .5-.7 .5-.6 .5-.4 .5-.6 .5-.8 .5-.6 .5-.7 .5-.8 .5-.8 .5-.7 .5-.8 .5-.6 .5-.9 .5-1 .5-.7 .5-1 .5-.8 .5-.9 .5-1 .5-.7 .5-.9 .5-1 .5-.9 .5-1 .5-.8 .5-1 .5-1.1 .5-.8 .5-1.3 .5-.7 .5-1.3 .5-1.1 .5-1.2 .5-1.4 .5-1.2 .5-1.3 .5-1.4 .5-1.1 .5-1.6 .5-1.1 .5-1.5 .5-1.4 .5-1.3 .5-1.4 .5-1.3 .1-.3 .2-.6 .2-.6 .2-.5 .2-.6 .1-.2 .1-.3 .2-.6 .2-.6 .2-.5 .2-.6 .1-.3 .1-.3 .2-.6 .2-.5 .2-.6 .2-.5 .1-.3 .1-.3 .2-.7 .2-.6 .2-.5 .2-.4 .1-.1 .1-.3 .2-.5 .2-.5 .2-.4 .2-.4 .1-.3 .1-.2 .2-.4 .2-.4 .2-.5 .2-.3 .1-.2 .1-.1 .2-.3 .2-.2 .2-.4 .2-.2 .1-.1 .1-.1 .2-.1 .2-.1 .2-.1 .2,0 .1,0 .1,0 .2,0 .2,0 .2,.1 .2,.2 .1,.1 .1,.1 .2,.1 .2,.3 .2,.2 .2,.3 .1,.1 .1,.1 .2,.3 .2,.4 .2,.3 .2,.3 .1,.1 .1,.3 .2,.5 .2,.5 .2,.4 .2,.4 .1,.2 .1,.2 .2,.5 .2,.5 .2,.5 .2,.5 .1,.3 .1,.3 .2,.7 .2,.7 .2,.5 .2,.6 .1,.3 .1,.3 .2,.6 .2,.7 .2,.5 .2,.6 .1,.3 .1,.3 .2,.5 .2,.6 .2,.5 .2,.5 .1,.3 .1,.2 .4,1 .5,1.4 .5,1.6 .5,1.4 .5,1.5 .5,1.4 .5,1.3 .5,1.2 .5,1.2 .5,1.5 .5,1 .5,1.1 .5,1.4 .5,1 .5,1 .5,1 .5,1.1 .5,1 .5,.9 .5,1 .5,1 .5,.8 .5,1.1 .5,1 .5,.8 .5,.9 .5,.8 .5,.8 .5,.8 .5,.6 .5,.9 .5,.7 .5,.9 .5,.8 .5,.7 .5,.8 .5,.7 .5,.6 .5,.7 .5,.4 .5,.7 .5,.8 .5,.5 .5,.5 .5,.4 .5,.7 .5,.9 .5,.4 .5,.9 .5,.5 .5,.7 .5,.5 .5,.5 .5,.6 .5,.7 .5,.3 .5,.6 .5,.7 .5,.2 .5,.3 .5,.1 .5,.2 .5,.6 .5,0 .5,.6 .5,.7 .5,0 .5,.8 .5,.7 .5,.2 .5,.5 .5,.9 .5,0 .5,.3 .5,.7 .5-.3 .5,.8 .5,.3 .5,1 .5-.5 .5,.7 .5,0 .5,.8 .5-.5 .5,.2 .5,.5 .5,1.9 .5-.2 .5,.8 .5,1.3 .5-.4 .5-.1 .5-.3 .5,.7 .5,0 .5,.3 .5,.1 .5,.5 .5-.2 .5,.2 .5,.9 .5-.6 .5,.8 .5,.1 .5-.1 .5,.6 .5,.1 .5,.3 .5,.3 .5,.7 .5,.4 .5-.2 .5,.1 .5,.2 .5,.3 .5-.2 .5,1 .5,1.1 .5,.2 .5,.6 .5-.2 .5-.2 .5-.8 .5-1.1 .5-.2 .5,.5 .5,.2 .5,.8 .5,0 .5,.8 .5-.3 .5,.4 .5-.3 .5,1.2 .5,.4 .5,0 .5,1.1 .5,.5 .5-.3 .5-.1 .5,.7 .5-.7 .5,.2 .5-.3 .5-.2 .5,0 .5-.5 .5,.4 .5,.5 .5,.1 .5-.2 .5,.5 .5,.3 .5,1.1 .5,.3 .5-.2 .5,1.2 .5-.3 .5,.7 .5,.9 .5,.3 .5-.9 .5,.4 .5-.2 .5,.5 .5-.9 .5,.7 .5,.2 .5,.1 .5-.1 .5,0 .5-.3 .5,.2 .5,1.4 .5-.8 .5,.7 .5,.7 .5-.3 .5,1.1 .5,.5 .5-1.8 .5,.3 .5,.9 .5-.5 .5-.4 .5,.8 .5-.6 .5-.4 .5,.6 .5,.9 .5,0 .5,.3 .5-.6 .5-.1 .5,.1 .5,.6 .5-.8 .5,1.3 .5,1.1 .5,.1 .5-.6 .5,0 .5,1.1 .5-.2 .5-.4 .5,.5 .5,.3 .5-.2 .5-.6 .5,.2 .5,.1 .5-.6 .5-.6 .5,.5 .5,.7 .5-.6 .5,1.6 .5-.1 .5,.7 .5-.8 .5,.6 .5,.7 .5-.6 .5-1.4 .5,.3 .5,0 .5-.1 .5,1.3 .5-.1 .5,.4 .5,.1 .5,0 .5-.1 .5,0 .5,.2 .5-.8 .5,1.4 .5-.3 .5-.3 .5,.7 .5-.1 .5-.1 .5,.7 .5-.5 .5-.5 .5,1 .5,.4 .5-1.2 .5,.7 .5-.4 .5,.5 .5-.2 .5-.1 .5,.4 .5,.9 .5,.6 .5,.9 .5-.2 .5-.6 .5-.4 .5,.3 .5,0 .5,.6 .5,0 .5,.1 .5-1.1 .5,1.1 .5-1.4 .5,.6 .5-.8 .5,.2 .5-.1 .5-.2 .5,1 .5,.3 .5,.1 .5,.5 .5-.3 .5,.6 .5-.1 .5-.3 .5,.3 .5-.9 .5,1.4 .5-1.1 .5-.2 .5,.5 .5-.1 .5-.9 .5,.5 .5,.6 .5-.4 .5-.9 .5,1.1 .5-.7 .5,.2 .5,.6 .5-.7 .5,.3 .5-.6 .5,0 .5-.1 .5,1.3 .5,0 .5,.4 .5-.2 .5,1.1 .5-.3 .5-.5 .5-.3 .5,.1 .5,.3 .5-.6 .5,1 .5,.2 .5,.7 .5-.4 .5,.2 .5,0 .5,.1 .5-.5 .5-.7 .5,.9 .5,.6 .5-1.5 .5,0 .5,.4 .5,.2 .5-1.5 .5,1.6 .5,.5 .5-.3 .5-.4 .5,.6 .5,0 .5-.3 .5,.5 .5-.1 .5,.2 .5,.6 .5-.3 .5,.7 .5-.9 .5,1.1 .5-.3 .5,.7 .5-.8 .5,.3 .5-1.4 .5,.7 .5-.5 .5,.9 .5-.4 .5-.6 .5,.5 .5-1.3 .5,.6 .5-.3 .5,1 .5,1.2 .5,.6 .5,1.7 .5-.6 .5-1.3 .5-.4 .5-.9 .5-.5 .5-.3 .5-.3 .5,.3 .5,.6 .5-.9 .5,.1 .5-.3 .5,.2 .5-.7 .5,1.6 .5,.1 .5-.5 .5,1 .5-.7 .5,.1 .5,.9 .5-1.3 .5-.2 .5,.9 .5,1 .5-.7 .5,1.1 .5-.5 .5-.3 .5,.4 .5,.4 .5-.8 .5-.2 .5,.3 .5-.2 .5-.6 .5,.8 .5,.6 .5,.4 .5,.1 .5,0 .5,0 .5,.6 .5-.6 .5,0 .5-.5 .5-.7 .5-.2 .5,.1 .5,.6 .5,.6 .5,.1 .5,.7 .5-.2 .5-.1 .5-.6 .5-.3 .5-1 .5,1 .5,.8 .5-.1 .5,1 .5-1.1 .5-.3 .5-1.3 .5,1.4 .5-.6 .5,.1 .5-.1 .5-.1 .5,.8 .5,.1 .5-.4 .5-.1 .5,1.1 .5,.3 .5-1.1 .5,.2 .5,0 .5,1 .5-.4 .5-.3 .5-.2 .5,.2 .5,.4 .5-.1 .5,1.1 .5,.5 .5-.2 .5-.4 .5-.7 .5-.2 .5-.3 .5-1 .5,.4 .5,.2 .5-.8 .5,.6 .5-.5 .5-.2 .5-.1 .5,0 .5,.2 .5,1.1 .5-.1 .5,.2 .5-.1 .5-.1 .5-1 .5,.7 .5,.1 .5-.4 .5-.4 .5-.6 .5,.1 .5-.9 .5,1.1 .5-.9 .5,0 .5,1.1 .5-.2" stroke="#0000ff"/>
<path d="M114.6,477.3l0-38 2.4,0 2.4,0 2.4,0 2.4-.1 2.4,0 2.4,0 2.4-.1 2.4,0 2.4-.1 2.4-.1 2.4,0 2.4-.1 2.4-.1 2.4-.1 2.4-.1 2.4-.1 2.4-.1 2.4-.1 2.4-.1 2.4-.1 2.4-.1 2.4-.2 2.4-.1 2.4-.2 2.4-.1 2.4-.2 2.4-.1 2.4-.2 2.4-.1 2.4-.2 2.4-.2 2.4-.1 2.4-.2 2.4-.2 2.4-.2 2.4-.1 2.4-.2 2.4-.2 2.4-.2 2.4-.2 2.4-.3 2.4-.2 2.4-.2 2.4-.3 2.4-.3 2.4-.3 2.4-.3 2.4-.3 2.4-.3 2.4-.4 2.4-.3 2.4-.4 2.4-.4 2.4-.4 2.4-.4 2.4-.4 2.4-.5 2.4-.5 2.4-.5 2.4-.5 2.4-.6 2.4-.6 2.4-.7 2.4-.7 2.4-.7 2.4-.8 2.4-.8 2.4-.8 2.4-.9 2.4-.8 2.4-.9 2.4-1 2.4-.9 2.4-.9 2.4-1.1 2.4-1 2.4-1.1 2.4-1.2 2.4-1.2 2.4-1.3 2.4-1.3 2.4-1.4 2.4-1.5 2.4-1.6 2.4-1.7 2.4-1.8 2.4-2 2.4-2.1 2.4-2.3 2.4-2.5 2.4-2.8 2.4-3.2 2.4-3.4 2.4-4.3 2.4-5.1 1.6-3.3 .6-1 .2-.3 .2-.2 .2-.3 .2-.3 .2-.3 .2-.2 .2-.3 .2-.3 .2-.2 .2-.3 .2-.3 .2-.2 .2-.3 .2-.2 .2-.3 .2-.2 .2-.2 .2-.2 .2-.2 .2-.2 .2-.1 .2-.2 .2-.2 .2-.1 .2-.2 .2-.1 .2-.2 .2-.1 .2-.1 .2-.1 .2,0 .2-.1 .2-.1 .2,0 .2-.1 .2-.1 .2,0 .2-.1 .2,0 .2,0 .2,0 .2,0 .2,.1 .2,0 .2,.1 .2,.1 .2,0 .2,.1 .2,.1 .2,0 .2,.1 .2,.1 .2,.1 .2,.2 .2,.1 .2,.2 .2,.1 .2,.2 .2,.2 .2,.1 .2,.2 .2,.2 .2,.2 .2,.2 .2,.2 .2,.2 .2,.2 .2,.3 .2,.2 .2,.3 .2,.2 .2,.3 .2,.2 .2,.3 .2,.2 .2,.3 .2,.3 .2,.2 .2,.3 .2,.2 .2,.3 .8,1.3 1.6,3.1 2.4,4.7 2.4,3.9 2.4,3.3 2.4,3.1 2.4,2.8 2.4,2.6 2.4,2.4 2.4,2.3 2.4,2.2 2.4,2.1 2.4,2 2.4,1.9 2.4,1.8 2.4,1.6 2.4,1.6 2.4,1.4 2.4,1.3 2.4,1.3 2.4,1.2 2.4,1.1 2.4,1.1 2.4,1.1 2.4,.9 2.4,.9 2.4,.9 2.4,.8 2.4,.7 2.4,.7 2.4,.6 2.4,.6 2.4,.6 2.4,.5 2.4,.5 2.4,.5 2.4,.5 2.4,.4 2.4,.5 2.4,.4 2.4,.4 2.4,.4 2.4,.3 2.4,.4 2.4,.3 2.4,.4 2.4,.3 2.4,.3 2.4,.3 2.4,.3 2.4,.3 2.4,.3 2.4,.3 2.4,.2 2.4,.3 2.4,.3 2.4,.3 2.4,.2 2.4,.3 2.4,.2 2.4,.3 2.4,.2 2.4,.2 2.4,.2 2.4,.2 2.4,.2 2.4,.1 2.4,.2 2.4,.1 2.4,.1 2.4,.2 2.4,.1 2.4,0 2.4,.1 2.4,.1 2.4,.1 2.4,.1 2.4,.1 2.4,.1 2.4,0 2.4,.1 2.4,.1 2.4,0 2.4,.1 2.4,.1 2.4,0 2.4,.1 2.4,0 2.4,.1 2.4,0 2.4,.1 2.4,0 2.4,0 2.4,.1 2.4,0 2.4,.1 2.4,0 2.4,0 2.4,0 2.4,.1 2.4,0 2.4,0 2.4,0 .4,0 0,38.1z" fill="#fff"/>
<path class="p" d="M114.6,438.9V477.3H606.2V438.8" stroke="#00ff00"/>
<path class="c" d="M114.6,438.5l.5,0 .5,.4 .5-.3 .5-1 .5-.7 .5,1.6 .5-.4 .5,.3 .5,1.7 .5-.4 .5-1.2 .5,.1 .5,.1 .5,.3 .5-.2 .5,.7 .5-1.2 .5,1.6 .5,0 .5-1.1 .5-.9 .5,.6 .5,0 .5,.6 .5-.3 .5,.5 .5-.1 .5-.1 .5-.7 .5-1.5 .5,.7 .5-.1 .5-.8 .5,1.3 .5,.3 .5-.6 .5,.8 .5-.6 .5-.3 .5,1.1 .5-.1 .5-.9 .5,1.3 .5,0 .5-.4 .5,.3 .5,.3 .5-1.1 .5,1 .5-.5 .5,.2 .5-.1 .5,.4 .5-1.3 .5,.4 .5-.9 .5,.9 .5-.3 .5-.3 .5,.3 .5,.5 .5-.2 .5,.5 .5-.7 .5,1.2 .5-1.3 .5-.5 .5,.3 .5,0 .5,.7 .5-.4 .5,.4 .5-.2 .5,0 .5,1.5 .5-1.8 .5,.3 .5,0 .5,.9 .5-.5 .5,.4 .5,1.5 .5,.1 .5-.9 .5-.3 .5-1 .5-.3 .5-1.6 .5,1.5 .5-.3 .5-.2 .5,.2 .5-.2 .5,.2 .5,.9 .5-.4 .5-.3 .5-.7 .5-1.1 .5-.4 .5-.2 .5-.4 .5,1.3 .5,.2 .5,1.6 .5,1.1 .5-1 .5-1.1 .5-.8 .5-.2 .5-.4 .5,1.2 .5-.1 .5-.6 .5,.4 .5,0 .5-.7 .5,.1 .5,.8 .5-.7 .5,.7 .5-1.1 .5-.4 .5,1 .5-1.5 .5-.2 .5,.7 .5-.1 .5-.1 .5,1 .5-.4 .5,.5 .5,1.1 .5,0 .5,0 .5-.5 .5,.6 .5-.4 .5,.6 .5,.4 .5-1.6 .5-.7 .5,.7 .5-.1 .5-1 .5,.7 .5-.8 .5,.1 .5-1.2 .5-.1 .5,.5 .5,.2 .5,.5 .5-.1 .5-.8 .5,.9 .5-.5 .5,1.1 .5-.3 .5,0 .5-.2 .5-.6 .5,1.2 .5-1.4 .5-.1 .5,.2 .5-.2 .5-.1 .5-.7 .5,0 .5,.1 .5-.4 .5,.2 .5,.8 .5,.8 .5,.5 .5-.1 .5-.4 .5,.2 .5-1.2 .5-.6 .5,.7 .5,.3 .5-.8 .5,.4 .5,.3 .5,0 .5,.1 .5,.6 .5,.4 .5-1.1 .5,.7 .5,.4 .5-.6 .5-1.1 .5,.6 .5-1.9 .5,.1 .5-.8 .5,.8 .5,.5 .5-.4 .5,.1 .5,.8 .5-.2 .5,.4 .5-.6 .5,.9 .5-.7 .5,.8 .5-1.4 .5,1.1 .5-.8 .5-.9 .5,0 .5-.1 .5,.4 .5,0 .5,.7 .5-.8 .5-.6 .5-.4 .5-.1 .5-1 .5,.4 .5,.2 .5,.6 .5,.6 .5,.6 .5,.9 .5-1.4 .5,.4 .5-.8 .5,1.5 .5-1.4 .5,.5 .5-.6 .5,.3 .5-.5 .5,.3 .5-.2 .5,.4 .5-.3 .5-.6 .5,.1 .5,.1 .5-1 .5,.1 .5-.6 .5-.2 .5-.2 .5,.8 .5-1.8 .5,.6 .5-1 .5-.4 .5,1.6 .5-.8 .5,.6 .5-.2 .5,.8 .5-.5 .5-.1 .5-.5 .5-.1 .5,.9 .5,.5 .5-1 .5,1 .5-.1 .5-.1 .5-.2 .5-.3 .5,.2 .5-.7 .5-1.2 .5-.3 .5,.4 .5,0 .5,.1 .5-.6 .5,.7 .5-.2 .5,.3 .5,.1 .5-.2 .5-.2 .5,.1 .5-.3 .5-.3 .5-.1 .5-.5 .5-.8 .5-.9 .5-.6 .5,.3 .5,.2 .5-.1 .5-.8 .5,.5 .5,.8 .5-.3 .5,.2 .5-.1 .5,.4 .5-.9 .5,.4 .5-.5 .5-1.2 .5-.2 .5,.4 .5-.3 .5-.2 .5,.4 .5-.3 .5-.3 .5,.3 .5-.8 .5,.2 .5,0 .5-1 .5,.6 .5,.4 .5-.5 .5,.4 .5,.8 .5-.5 .5,.1 .5,.2 .5-1.4 .5,0 .5,.9 .5-.8 .5,.6 .5-1.1 .5,.3 .5-.1 .5-.6 .5,.2 .5-.5 .5-1.1 .5-.2 .5-1 .5,0 .5-.5 .5-.2 .5-.3 .5,.4 .5-.9 .5,.7 .5-.6 .5,.8 .5-.6 .5-.4 .5-.9 .5,.1 .5-.6 .5,.4 .5-.5 .5-.5 .5-.1 .5,.5 .5-.9 .5,.3 .5-1 .5,.6 .5-.7 .5,.5 .5,0 .5,0 .5-.8 .5-.9 .5,0 .5-1.6 .5,.4 .5-.5 .5,.5 .5-1.2 .5-.1 .5,.2 .5,0 .5,.2 .5-.2 .5-1 .5-.2 .5-.9 .5-.7 .5,.2 .5-.2 .5,0 .5,.2 .5-.9 .5,.6 .5-.7 .5-.1 .5,.6 .5-.9 .5-.6 .5-.3 .5,0 .5-.5 .5,.2 .5-.2 .5-.4 .5-.3 .5-.9 .5-.3 .5-.7 .5,0 .5-.3 .5-.4 .5-.7 .5,.3 .5-.3 .5-1.1 .5-.9 .5-.2 .5-.9 .5-.1 .5-.9 .5-.2 .5-.3 .5-.3 .5-.3 .5-.4 .5-.2 .5-.4 .5-.6 .5-.9 .5-.5 .5-1 .5,0 .5-.8 .5-.4 .5-.5 .5-.4 .5-.6 .5-.8 .5-1 .5-.6 .5-.7 .5-.6 .5-.8 .5-.7 .5-.6 .5-.8 .5-.9 .5-.9 .5-.7 .5-.8 .5-1.1 .5-.9 .5-.9 .5-1.2 .5-1.2 .5-1.2 .5-.9 .5-1.2 .5-.9 .5-.9 .2-.3 .2-.3 .1-.1 .1-.1 .2-.3 .2-.3 .2-.2 .2-.2 .1-.2 .1-.1 .2-.3 .2-.3 .2-.3 .2-.2 .1-.2 .1,0 .2-.2 .2-.2 .2-.3 .2-.4 .1-.2 .1-.1 .2-.2 .2-.2 .2-.2 .2-.2 .1-.1 .1-.1 .2-.1 .2-.2 .2-.2 .2-.2 .1-.1 .1-.1 .2-.1 .2-.1 .2,0 .2-.1 .1,0 .1,0 .2-.1 .2-.2 .2,0 .2-.1 .1,0 .1-.1 .2,0 .2,0 .2,0 .2,.1 .1,0 .1,0 .2,0 .2,0 .2,.1 .2,.1 .1,.1 .1,0 .2,0 .2,.1 .2,0 .2,.1 .1,.1 .1,.1 .2,.1 .2,.2 .2,.3 .2,.2 .1,.1 .1,.1 .2,.2 .2,.2 .2,.2 .2,.1 .1,.1 .1,.1 .2,.2 .2,.2 .2,.2 .2,.3 .1,.1 .1,.1 .2,.3 .2,.2 .2,.3 .2,.3 .1,.2 .1,.1 .2,.1 .2,.2 .2,.3 .2,.2 .1,.1 .1,.2 .2,.2 .2,.2 .2,.2 .3,.3 .5,1 .5,.9 .5,.8 .5,1.1 .5,1 .5,1.1 .5,1.1 .5,1.1 .5,.9 .5,.8 .5,1 .5,.7 .5,.6 .5,.7 .5,.7 .5,.6 .5,.5 .5,.8 .5,.7 .5,.8 .5,.9 .5,.7 .5,.6 .5,.5 .5,.6 .5,.9 .5,.3 .5,.6 .5,.5 .5,.8 .5,.3 .5,.5 .5,.7 .5,0 .5,.8 .5,.6 .5,.3 .5,.7 .5,.3 .5,.7 .5,.4 .5,.4 .5,.6 .5,.4 .5,.6 .5,.9 .5,.3 .5,.6 .5,.4 .5,0 .5,.1 .5,.3 .5,.8 .5,.1 .5,.6 .5,.5 .5,.4 .5,.6 .5,.1 .5,.8 .5,.5 .5,.2 .5,.3 .5,.1 .5,.5 .5,.4 .5,.2 .5,.9 .5,0 .5-.4 .5,.9 .5,.1 .5,.7 .5,1.5 .5,.1 .5-.4 .5,1.4 .5-.1 .5,.6 .5,.2 .5,.2 .5,.1 .5,0 .5,.7 .5-.1 .5,.6 .5-.2 .5,.4 .5,1 .5,.4 .5,.9 .5,.6 .5-.6 .5,.8 .5-1 .5-.2 .5,.3 .5-.6 .5,0 .5,.6 .5-.7 .5,.5 .5,1 .5,0 .5,.4 .5,.7 .5,.4 .5-.9 .5,.4 .5,.5 .5,.5 .5,1.7 .5,.2 .5,.3 .5,1.5 .5-1.6 .5,.2 .5-.5 .5-.1 .5-.7 .5,.1 .5,.2 .5,.1 .5-.2 .5-.5 .5,1 .5-.5 .5,.5 .5,1.4 .5-.6 .5,1.1 .5-.4 .5,.4 .5,1 .5,.2 .5,.5 .5,.1 .5-.9 .5,.2 .5,0 .5,0 .5,.1 .5,.4 .5,.9 .5,.5 .5-.2 .5-.8 .5,1.6 .5-.4 .5-.5 .5,.6 .5-.1 .5,.4 .5,0 .5,.8 .5-.8 .5,.1 .5-.8 .5,.4 .5-.2 .5,.8 .5-.3 .5,.3 .5-.4 .5-.1 .5-.1 .5-1.1 .5,.7 .5,0 .5,1.3 .5,.8 .5-.2 .5,.1 .5-.1 .5,.2 .5,.2 .5-.1 .5,.3 .5,.2 .5,.3 .5-.3 .5,.9 .5,.5 .5-.3 .5,.3 .5-.5 .5,.5 .5-1.1 .5,.2 .5,.3 .5,.4 .5,.3 .5,.3 .5-1.2 .5,1.1 .5-.9 .5,.3 .5,.1 .5-.1 .5-.2 .5-.5 .5,.1 .5,.8 .5,1.4 .5,1 .5-.9 .5,1.6 .5-.3 .5-1.7 .5,.7 .5-1.5 .5-.1 .5,.3 .5-.3 .5,1 .5,.2 .5,.1 .5,.4 .5,.6 .5,.1 .5-.2 .5,0 .5-1.9 .5-.4 .5,0 .5,.1 .5,1.6 .5,.5 .5,.8 .5-1.5 .5-.5 .5-.7 .5-1 .5,1.4 .5-.3 .5,.5 .5,0 .5,1.7 .5-.8 .5-1 .5,1.2 .5,.1 .5-.8 .5-.1 .5,1.3 .5,.7 .5-.2 .5-.2 .5,.1 .5-.1 .5-.3 .5,.6 .5,.4 .5,.7 .5,1.2 .5-.9 .5,.2 .5,.4 .5-.2 .5,0 .5,.4 .5,.5 .5-.1 .5,0 .5,.1 .5-.7 .5-.1 .5-1 .5-.1 .5,.2 .5,.7 .5,.5 .5,.4 .5-.8 .5,.3 .5-.9 .5-.2 .5,.5 .5-.5 .5,.4 .5-.3 .5,.8 .5,.1 .5,0 .5,1.2 .5,.1 .5,.2 .5-.6 .5,.2 .5-1.2 .5,.4 .5-.4 .5,1.2 .5-.4 .5-.3 .5-.1 .5,1 .5-.5 .5-1.4 .5,.8 .5,.3 .5,1.4 .5-.9 .5-.6 .5,.3 .5,0 .5,0 .5,.5 .5-.3 .5,1.2 .5-1.9 .5,1.3 .5,0 .5-1.2 .5,.1 .5-.3 .5,.8 .5,.1 .5,.3 .5,1.4 .5,.2 .5,0 .5,.2 .5,.2 .5,.4 .5-.8 .5,0 .5-.5 .5,.4 .5,.2 .5-.1 .5-1.1 .5-.3 .5-1.5 .5,.1 .5,.7 .5,1.5 .5,.6 .5-.5 .5-.3 .5-1.6 .5,.1 .5-.3 .5,1.1 .5,.6 .5,2.3 .5,.6 .5,1 .5-1.1 .5-.3 .5-1 .5-.4 .5-.6 .5,.2 .5,.6 .5,.3 .5-.4 .5-.4 .5-.2 .5,.1 .5-1.1 .5-.2 .5,.4 .5-.2 .5-.4 .5,.4 .5,.3 .5,1.2 .5-.2 .5,1 .5-.7 .5-.1 .5,1.1 .5-.5 .5-.1 .5-.4 .5-1.7 .5,.1 .5-.1 .5,.3 .5-.6 .5,.2 .5,0 .5,1.6 .5,.7 .5,1.2 .5,1.5 .5-2.2 .5-.4 .5,0 .5-.4 .5-.6 .5,.1 .5,0 .5,.5 .5-.2 .5-.1 .5,.1 .5,1.4 .5-.6 .5,.4 .5,0 .5-.4 .5,.1 .5-.8 .5-.2 .5,.3 .5,0 .5-1.3 .5,0 .5,.8 .5,.3 .5-.5 .5-.1 .5,1 .5-1 .5,1 .5-.5 .5,1 .5,0 .5,.5 .5,0 .5-.7 .5,.5 .5-.6 .5-.7 .5,.3 .5-.9 .5,1.9 .5-1.7 .5,1.8 .5-1 .5-.4 .5,.3 .5,.7 .5-.4 .5-.1 .5,0 .5,0 .5,0 .5-.3 .5,.9 .5-1.1 .5,1.1 .5-1 .5,.4 .5,.2 .5-1.4 .5,.4 .5-.3 .5,1.3 .5,0 .5-.4 .5,.2 .5-.5 .5,.3 .5-.3 .5,.7 .5-.6 .5,1.2 .5,1 .5-.6 .5-.4 .5-.3 .5-.5 .5-.1 .5-.2 .5,1 .5-.2 .5-.1 .5-.6 .5-.2 .5,.9 .5,.2 .5-.4 .5,.6 .5-.6 .5,0 .5,.7 .5-.4 .5,.7 .5,1.3 .5,.6 .5,.5 .5-1.9 .5-1.1 .5,0 .5-1.2 .5,1.4 .5-1.2" stroke="#00ff00"/>
<path d="M90.8,488.5l0-36.7 2.4,0 2.4-.1 2.4,0 2.4,0 2.4,0 2.4-.1 2.4,0 2.4,0 2.4-.1 2.4,0 2.4-.1 2.4,0 2.4-.1 2.4,0 2.4-.1 2.4-.1 2.4,0 2.4-.1 2.4-.1 2.4-.1 2.4,0 2.4-.1 2.4-.1 2.4-.1 2.4-.1 2.4-.1 2.4,0 2.4-.1 2.4-.1 2.4-.1 2.4-.2 2.4-.1 2.4-.1 2.4-.1 2.4-.2 2.4-.1 2.4-.2 2.4-.1 2.4-.2 2.4-.1 2.4-.2 2.4-.2 2.4-.2 2.4-.2 2.4-.2 2.4-.2 2.4-.2 2.4-.3 2.4-.2 2.4-.3 2.4-.3 2.4-.3 2.4-.3 2.4-.4 2.4-.3 2.4-.4 2.4-.4 2.4-.4 2.4-.4 2.4-.5 2.4-.5 2.4-.5 2.4-.5 2.4-.5 2.4-.6 2.4-.5 2.4-.6 2.4-.7 2.4-.7 2.4-.7 2.4-.8 2.4-.9 2.4-.9 2.4-.9 2.4-1 2.4-1.1 2.4-1.2 2.4-1.2 2.4-1.3 2.4-1.4 2.4-1.4 2.4-1.6 2.4-1.6 2.4-1.9 2.4-2.2 2.4-2.2 2.4-2.4 2.4-2.4 2.4-2.2 2.4-2.2 2.4-2.3 2.4-2.3 2.4-2.4 .7-.5 .1-.1 .1-.1 .2-.1 .2-.1 .2-.1 .1-.1 .1-.1 .2-.1 .2-.1 .2-.2 .1,0 .1-.1 .2-.1 .2-.1 .2-.1 .1-.1 .1-.1 .2-.1 .2-.1 .2-.1 .1,0 .1-.1 .2,0 .2-.1 .2,0 .1-.1 .1,0 .2,0 .2,0 .2-.1 .1,0 .1,0 .2-.1 .2,0 .2,0 .1-.1 .1,0 .2,0 .2-.1 .2,0 .1,0 .1-.1 .2,0 .2-.1 .2,0 .1,0 .1-.1 .2,0 .2,0 .2,0 .1,0 .1,0 .2,0 .2,0 .2,.1 .1,0 .1,0 .2,.1 .2,0 .2,.1 .1,0 .1,0 .2,.1 .2,0 .2,.1 .1,0 .1,0 .2,0 .2,.1 .2,0 .1,0 .1,.1 .2,0 .2,0 .2,.1 .1,0 .1,0 .2,.1 .2,0 .2,.1 .1,.1 .1,0 .2,.1 .2,.2 .2,.1 .1,0 .1,.1 .2,.1 .2,.1 .2,.2 .1,0 .1,.1 .2,.1 .2,.1 .2,.2 .1,0 .1,.1 .2,.1 .2,.1 .2,.2 .1,0 .8,.6 1.6,1.4 2.4,2 2.4,1.8 2.4,1.8 2.4,1.8 2.4,2 2.4,2.1 2.4,2.1 2.4,2.1 2.4,2 2.4,1.8 2.4,1.7 2.4,1.6 2.4,1.5 2.4,1.3 2.4,1.2 2.4,1.2 2.4,1.1 2.4,1.1 2.4,1.1 2.4,1 2.4,.9 2.4,.8 2.4,.9 2.4,.7 2.4,.7 2.4,.7 2.4,.6 2.4,.6 2.4,.6 2.4,.5 2.4,.6 2.4,.5 2.4,.4 2.4,.5 2.4,.4 2.4,.4 2.4,.4 2.4,.4 2.4,.3 2.4,.3 2.4,.3 2.4,.3 2.4,.3 2.4,.2 2.4,.3 2.4,.2 2.4,.3 2.4,.2 2.4,.2 2.4,.2 2.4,.2 2.4,.2 2.4,.2 2.4,.2 2.4,.1 2.4,.2 2.4,.1 2.4,.2 2.4,.1 2.4,.2 2.4,.1 2.4,.1 2.4,.2 2.4,.1 2.4,.1 2.4,.1 2.4,.1 2.4,.1 2.4,.1 2.4,.1 2.4,.1 2.4,.1 2.4,.1 2.4,.1 2.4,.1 2.4,.1 2.4,.1 2.4,0 2.4,.1 2.4,.1 2.4,.1 2.4,0 2.4,.1 2.4,.1 2.4,.1 2.4,.1 2.4,0 2.4,.1 2.4,.1 2.4,.1 2.4,0 2.4,.1 2.4,.1 2.4,.1 2.4,0 2.4,.1 2.4,0 2.4,.1 2.4,0 2.4,.1 2.4,0 2.4,0 2.4,0 2,.1 0,36.7z" fill="#fff"/>
<path class="p" d="M90.8,451.4V488.5H582.4V451.4" stroke="#ff0000"/>
<path class="c" d="M90.8,453l.5,0 .5-.9 .5-.3 .5-.8 .5-.1 .5,.2 .5-.4 .5-.2 .5,1.4 .5-1.2 .5,.2 .5,.1 .5-1.2 .5,.2 .5,1 .5,.1 .5-.9 .5,.8 .5,0 .5,.9 .5-.8 .5-.5 .5,.5 .5-.4 .5-1.2 .5,.2 .5-.1 .5,.9 .5,.3 .5,1.9 .5,0 .5,0 .5-2.2 .5,.6 .5-.2 .5,.2 .5,.1 .5,.8 .5-2.5 .5,1.2 .5,.1 .5,.8 .5-.5 .5,0 .5-.3 .5-.8 .5,.2 .5-1 .5-.3 .5,.5 .5,.4 .5,.5 .5,.7 .5-1 .5,.2 .5,0 .5-1 .5,1.1 .5-.4 .5-.5 .5,0 .5,.8 .5,.1 .5,0 .5,.5 .5,.6 .5-1.1 .5-.4 .5-.5 .5-1 .5,.2 .5,.6 .5-.1 .5-.7 .5,1.5 .5,.1 .5,.5 .5-.3 .5,1 .5-.7 .5-.2 .5,.8 .5,0 .5,.4 .5-.5 .5,.8 .5,0 .5,.1 .5-.1 .5-1 .5-.6 .5,1.5 .5-.7 .5-.5 .5,.7 .5-.3 .5-.4 .5-.7 .5,0 .5,.6 .5-.3 .5,.3 .5,0 .5,.7 .5,.4 .5-.7 .5-.9 .5-.2 .5,1 .5-1 .5,.3 .5-.3 .5,.8 .5-.8 .5,.8 .5,0 .5,.2 .5,1.7 .5-.6 .5-1.1 .5,.4 .5-.7 .5,0 .5,.4 .5-.3 .5-.3 .5,0 .5,0 .5,1.3 .5-.8 .5,1.1 .5-.5 .5-.3 .5-.7 .5-.1 .5-.7 .5,.6 .5-1 .5-.1 .5-.1 .5,.4 .5-.4 .5,.6 .5,.3 .5,.9 .5,.3 .5-.1 .5,.2 .5,.1 .5-.7 .5,.7 .5-1.7 .5,1.9 .5-2.4 .5,.1 .5-2.2 .5,.6 .5-1.8 .5,1.2 .5,.9 .5,0 .5,.8 .5,1.4 .5-1.7 .5,1 .5-1.1 .5,1 .5,0 .5-.3 .5,.6 .5-.5 .5,1.1 .5-1.4 .5,0 .5-.2 .5-.9 .5,.1 .5-.1 .5-.8 .5,.1 .5,.1 .5-.1 .5,1 .5,0 .5,.8 .5-.9 .5-.3 .5,.1 .5,.1 .5,.3 .5,.3 .5-.1 .5,.8 .5,.3 .5-.8 .5-.4 .5-.7 .5,.6 .5-.3 .5,.3 .5,1.1 .5-.2 .5,.4 .5-.7 .5-.7 .5,.6 .5-.7 .5,.1 .5-.2 .5,.5 .5-.4 .5,.5 .5-.5 .5-.7 .5-.2 .5,.1 .5,.4 .5-.2 .5,.1 .5,1.1 .5-.2 .5-.3 .5-1.6 .5,.8 .5,0 .5-.7 .5-.4 .5,1 .5-.5 .5,.8 .5-.3 .5-.9 .5,.8 .5,.2 .5-.2 .5-.1 .5,.2 .5,.6 .5,0 .5-1.5 .5,1.4 .5-.9 .5,.6 .5-1.2 .5,0 .5,.2 .5-1.3 .5,1.1 .5-.6 .5,.1 .5-.3 .5-.1 .5,.3 .5-.2 .5-.8 .5,1.4 .5-.3 .5-.3 .5-.4 .5-.9 .5-.2 .5-.2 .5-.3 .5-1.3 .5,1.9 .5,.3 .5-.2 .5,.2 .5,.2 .5,.1 .5,0 .5-.8 .5,0 .5-.3 .5,.1 .5-1.4 .5,.2 .5-.7 .5,1.1 .5-.3 .5,.2 .5-.2 .5,.1 .5-.1 .5,.7 .5-.8 .5-.5 .5,1.2 .5-.7 .5-.5 .5-.6 .5,.1 .5-.8 .5-1.1 .5-.2 .5,1.2 .5,.4 .5-.3 .5,.7 .5,.3 .5-.1 .5-.3 .5,.2 .5-.2 .5-.3 .5,.2 .5-1.7 .5-.1 .5-.5 .5,.3 .5-.4 .5-.6 .5-.2 .5,1 .5-1 .5,.5 .5-.4 .5,.4 .5-.8 .5,.7 .5,.4 .5-.8 .5,.3 .5,0 .5-.5 .5-.2 .5-.2 .5-.4 .5,.3 .5-.1 .5-.5 .5,.3 .5-.4 .5,.3 .5,.4 .5-.4 .5,0 .5-1.4 .5,0 .5,.2 .5,0 .5-.7 .5,.1 .5-.3 .5,.4 .5,0 .5-1.1 .5,.7 .5-.9 .5-1 .5,.7 .5-1.5 .5,.5 .5,.3 .5,.1 .5,.7 .5,.1 .5-2 .5,.2 .5-1 .5-.6 .5,0 .5-.5 .5-.4 .5-.7 .5,.2 .5-.5 .5,.3 .5-.2 .5-.3 .5,0 .5,0 .5-.4 .5,.5 .5,.1 .5-.9 .5,.4 .5-.2 .5-.1 .5,.2 .5,.2 .5-.5 .5,0 .5-.4 .5-.8 .5-.5 .5-.4 .5-.3 .5-1.3 .5-1.2 .5-.5 .5-.3 .5,.6 .5,0 .5,.8 .5,.2 .5-.7 .5,.2 .5-.8 .5-.5 .5-1 .5-.1 .5-1 .5-.5 .5-.7 .5,.2 .5-.9 .5-1 .5-.2 .5-.1 .5-.8 .5,.3 .5,.2 .5-.6 .5-.8 .5-1.1 .5-.1 .5-1 .5-.7 .5-.1 .5-.7 .5-.2 .5-.7 .5,.1 .5-.6 .5-.7 .5-.1 .5-.6 .5-.8 .5-1 .5-.4 .5-.4 .5-.1 .5-.3 .5-.2 .5-.5 .5-.6 .5-.9 .5-.6 .5-.6 .5-.3 .5-.2 .5-.7 .5-.6 .5-.5 .5,0 .5-.4 .4-.5 .1-.1 .1,0 .2-.1 .2-.1 .2-.1 .2-.1 .1-.1 .1-.1 .2-.1 .2-.1 .2-.1 .2-.2 .1,0 .1,0 .2-.1 .2,0 .2-.2 .2-.1 .1-.1 .1-.1 .2-.2 .2-.1 .2-.1 .2,0 .1,0 .1,0 .2-.1 .2,0 .2-.1 .2-.1 .1,0 .1,0 .2-.1 .2,0 .2,0 .2,0 .1,0 .1-.1 .2-.1 .2-.1 .2-.1 .2,0 .1,0 .1,0 .2-.1 .2,0 .2,0 .2,0 .1-.1 .1,.1 .2,0 .2,.1 .2,0 .2,0 .1,0 .1,.1 .2,0 .2,.1 .2,.1 .2,.1 .1,0 .1,0 .2,.1 .2,0 .2,0 .2,0 .1,0 .1,0 .2,.1 .2,.1 .2,.1 .2,0 .1,0 .1,0 .2,.1 .2,.1 .2,.1 .2,.1 .1,0 .1,0 .2,.1 .2,0 .2,.1 .2,0 .1,.1 .1,0 .2,.2 .2,.1 .2,.1 .2,.2 .1,0 .1,.1 .2,.1 .2,.1 .2,.1 .2,.2 .1,.1 .5,.5 .5,.5 .5,.3 .5,.7 .5,.5 .5,.3 .5,.3 .5,.5 .5,.3 .5,.3 .5,.2 .5,.6 .5,.2 .5,.5 .5,.4 .5,.1 .5,.6 .5,.5 .5,.1 .5,.4 .5,.1 .5,.6 .5,.1 .5,.5 .5,.2 .5,.4 .5,.7 .5,.4 .5,.5 .5,.9 .5,.5 .5,.2 .5,.6 .5,0 .5,.5 .5,1.5 .5,.4 .5,1 .5,.4 .5,.2 .5,.6 .5,0 .5,0 .5,.2 .5,.1 .5,.2 .5,.3 .5,.2 .5,.6 .5,.9 .5,.8 .5,.7 .5-.2 .5,0 .5,0 .5,.4 .5,.1 .5,.7 .5,.5 .5,1.1 .5,.8 .5,.4 .5-.6 .5-.2 .5,.2 .5-.7 .5,1.4 .5,0 .5,1 .5,.5 .5,.6 .5,.3 .5-.1 .5,.7 .5,.3 .5-.3 .5,.3 .5,.3 .5,.1 .5-.2 .5,.8 .5,0 .5,.2 .5,1 .5,.5 .5-.3 .5,.1 .5,.6 .5,.5 .5,.4 .5-.2 .5,.6 .5,.6 .5-.8 .5,.2 .5,0 .5-.2 .5-.2 .5,.2 .5,.2 .5,.7 .5-.6 .5,.4 .5-.2 .5,.3 .5,.3 .5-.3 .5,.5 .5,0 .5,.5 .5,.4 .5,.4 .5,.2 .5,1.3 .5-.5 .5-.5 .5,1.5 .5-.3 .5,0 .5-.2 .5-.2 .5,.4 .5,.6 .5,.4 .5-.3 .5,0 .5,0 .5,.5 .5-.9 .5,1 .5-.5 .5,.1 .5,.4 .5-.6 .5-.2 .5,0 .5-.1 .5,.9 .5-.9 .5,.9 .5,1.2 .5,.9 .5-1.4 .5,.7 .5,.2 .5,.3 .5,.1 .5,0 .5-2 .5,.8 .5,1.5 .5-.4 .5,2.2 .5-.7 .5,.2 .5,.9 .5,.1 .5,.5 .5-.8 .5-1 .5-.2 .5-.1 .5-.3 .5,1.5 .5-1.5 .5,1.1 .5,.8 .5-.3 .5,.2 .5-.2 .5,0 .5,1.1 .5-1.7 .5-.3 .5,1.1 .5-1 .5,.4 .5,.5 .5,.1 .5,1.8 .5-1 .5,.9 .5-1.5 .5,1.5 .5,.1 .5-1.1 .5,.2 .5,.2 .5-.1 .5-.2 .5-.5 .5,1.1 .5-.1 .5,0 .5-.2 .5-.1 .5,.6 .5-.6 .5,1 .5-.2 .5,.2 .5,.3 .5-.8 .5,0 .5,.3 .5-.2 .5,1.3 .5-.1 .5,1.4 .5,.6 .5,.4 .5-.1 .5-1.2 .5-1.1 .5-1 .5,.6 .5,1.1 .5,.9 .5,.2 .5,.9 .5-.4 .5-.8 .5-.5 .5,.2 .5-.2 .5-1.5 .5-.9 .5,0 .5,.2 .5,1.7 .5-.8 .5,1.7 .5-.1 .5,.9 .5,.2 .5,.4 .5,1.1 .5-2.7 .5,1.3 .5-1.6 .5-.3 .5-.5 .5-.1 .5,2.1 .5-.3 .5,.3 .5,.1 .5-.1 .5,.4 .5,.4 .5-.1 .5-.4 .5-.5 .5,.3 .5-.7 .5,.5 .5-.2 .5-.2 .5,.7 .5-1.1 .5,.8 .5-.3 .5-1.3 .5,1.9 .5-.4 .5,.2 .5,.3 .5,.3 .5,0 .5-1.5 .5,1.7 .5-.8 .5-1 .5,1 .5,1.2 .5,.6 .5,0 .5-1.7 .5,.6 .5,.4 .5-1 .5,.7 .5-.7 .5,.9 .5-.1 .5,.6 .5-1.1 .5,.4 .5-.2 .5,.3 .5,.1 .5,0 .5,.8 .5-1.1 .5,1.3 .5,.4 .5-.9 .5,.7 .5-.6 .5-.2 .5-.1 .5-1.5 .5,.2 .5,0 .5,1.3 .5,1.2 .5,.6 .5,.1 .5-.2 .5,0 .5-.2 .5,.9 .5-1.2 .5,.3 .5-.6 .5-2 .5,.6 .5,1 .5-.8 .5,.4 .5,.5 .5-.2 .5,.8 .5,0 .5,.5 .5-.8 .5,.9 .5-.4 .5-.5 .5,.2 .5-1 .5-1.2 .5,.8 .5-1.7 .5,1.8 .5,.9 .5,.3 .5,.4 .5,1 .5-.1 .5-.3 .5-.1 .5-.5 .5,.3 .5-.3 .5-.4 .5,.3 .5-.5 .5,1.1 .5,.4 .5-1.1 .5,.4 .5,.4 .5-.5 .5,0 .5,.2 .5-.7 .5,.1 .5-.6 .5,1.4 .5-1.1 .5,.7 .5,.7 .5,.3 .5,.2 .5-.1 .5-.8 .5-1.1 .5,.6 .5-.2 .5,1.5 .5-.3 .5,.2 .5,.4 .5-.3 .5,.4 .5-1.1 .5,.5 .5-1 .5,.3 .5,.1 .5-.9 .5,.4 .5-1.4 .5-.2 .5-.7 .5-.8 .5,1.6 .5,1.4 .5,1.3 .5,1.1 .5-.1 .5-.3 .5-.1 .5,.2 .5-1.7 .5-.5 .5-1.2 .5-.2 .5-.8 .5,.5 .5,1.6 .5,1.2 .5,0 .5,.7 .5-.5 .5-1.2 .5,0 .5-.6 .5,1.4 .5-.4 .5-.3 .5,1.4 .5-.3 .5,.3 .5,1.7 .5-1.4 .5,1.2 .5-.7 .5-1.3 .5,1.2 .5-1.5 .5,.7 .5,.1 .5,.8 .5-.7 .5,1.2 .5-1 .5-.3 .5,.1 .5,0 .5,.4 .5-.2 .5,.7 .5,.6 .5,.2 .5-1.2 .5-.7 .5-.2 .5-.7 .5,2.3 .5-1.3 .5,2.1 .5,1.3 .5-.3 .5-1.8 .5-.4 .5-.1 .5-.6 .5-.4 .5-.1 .5-1.1 .5,0 .5,.6 .5,.9 .5-1.2 .5,1.1 .5,.5 .5-.9 .5,.6 .5,1.4 .5,0 .5-.6 .5,.4 .5-.6 .5-1.3 .5-.1 .5,1.5 .5-.4 .5,0 .5,.1 .5-.1 .5-2 .5-.2 .5-.8 .5,.6 .5,1.4 .5-.5 .5,1.5 .5,.1 .5,.3 .5-.6 .5-.1 .5,.8 .5-.4 .5,.7 .5,.6 .5-.3 .5-.5 .5,0 .5-.3 .5,.8 .5-.4 .5-.4 .5-.6 .5,.1 .5,.3 .5,.6 .5-1 .5,.3 .5,1.2 .5-1 .5,.8" stroke="#ff0000"/>
<path d="M67,499.6l0-36 2.4,0 2.4,0 2.4,0 2.4,0 2.4,0 2.4,0 2.4,0 2.4,0 2.4-.1 2.4,0 2.4,0 2.4,0 2.4,0 2.4-.1 2.4,0 2.4,0 2.4,0 2.4-.1 2.4,0 2.4,0 2.4-.1 2.4,0 2.4,0 2.4-.1 2.4,0 2.4,0 2.4-.1 2.4,0 2.4-.1 2.4,0 2.4-.1 2.4,0 2.4-.1 2.4,0 2.4-.1 2.4,0 2.4-.1 2.4-.1 2.4,0 2.4-.1 2.4-.1 2.4-.1 2.4-.1 2.4-.1 2.4-.1 2.4-.1 2.4-.1 2.4-.2 2.4-.1 2.4-.2 2.4-.2 2.4-.1 2.4-.2 2.4-.2 2.4-.3 2.4-.2 2.4-.3 2.4-.4 2.4-.5 2.4-.5 2.4-.5 2.4-.6 2.4-.7 2.4-.6 2.4-.7 2.4-.6 2.4-.6 2.4-.6 2.4-.6 2.4-.7 2.4-.7 2.4-.7 2.4-.7 2.4-.8 2.4-.8 2.4-.9 2.4-1 2.4-1 2.4-1.2 2.4-1.2 2.4-1.4 2.4-1.4 2.4-1.6 2.4-1.5 2.4-1.5 2.4-1.3 2.4-1.1 2.4-1.2 2.4-1.2 2.4-1.2 2.4-1.1 1.6-.6 .5-.2 .2-.1 .1-.1 .1,0 .2-.1 .2-.1 .2-.1 .1,0 .1-.1 .2-.1 .2,0 .2-.1 .1,0 .1-.1 .2,0 .2-.1 .2,0 .1-.1 .1,0 .2,0 .2,0 .2,0 .1,0 .1-.1 .2,0 .2,0 .2,0 .1,0 .1,0 .2,0 .2-.1 .2,0 .1,0 .1,0 .2,0 .2-.1 .2,0 .1,0 .1,0 .2,0 .2-.1 .2,0 .1,0 .1,0 .2,0 .2-.1 .2,0 .1,0 .1,0 .2,0 .2,0 .2,0 .1,0 .1,0 .2,0 .2,0 .2,.1 .1,0 .1,0 .2,0 .2,0 .2,.1 .1,0 .1,0 .2,0 .2,0 .2,.1 .1,0 .1,0 .2,0 .2,0 .2,.1 .1,0 .1,0 .2,0 .2,0 .2,0 .1,0 .1,0 .2,.1 .2,0 .2,0 .1,0 .1,0 .2,.1 .2,0 .2,.1 .1,0 .1,0 .2,.1 .2,.1 .2,0 .1,.1 .1,0 .2,.1 .2,.1 .2,.1 .1,0 .1,.1 .2,.1 .2,.1 .3,.1 .8,.3 2.4,1.1 2.4,1.2 2.4,1.3 2.4,1.1 2.4,1.1 2.4,1 2.4,1 2.4,.9 2.4,1 2.4,.9 2.4,1 2.4,1.1 2.4,1.2 2.4,1.2 2.4,1.3 2.4,1.2 2.4,1.1 2.4,1 2.4,1 2.4,.8 2.4,.8 2.4,.6 2.4,.6 2.4,.6 2.4,.5 2.4,.5 2.4,.4 2.4,.5 2.4,.4 2.4,.4 2.4,.4 2.4,.5 2.4,.4 2.4,.4 2.4,.4 2.4,.4 2.4,.4 2.4,.3 2.4,.3 2.4,.4 2.4,.2 2.4,.3 2.4,.2 2.4,.2 2.4,.3 2.4,.2 2.4,.2 2.4,.1 2.4,.2 2.4,.1 2.4,.2 2.4,.1 2.4,0 2.4,.1 2.4,.1 2.4,.1 2.4,0 2.4,.1 2.4,0 2.4,.1 2.4,0 2.4,0 2.4,.1 2.4,0 2.4,.1 2.4,0 2.4,0 2.4,.1 2.4,0 2.4,.1 2.4,0 2.4,0 2.4,.1 2.4,0 2.4,.1 2.4,0 2.4,.1 2.4,0 2.4,.1 2.4,.1 2.4,0 2.4,.1 2.4,0 2.4,.1 2.4,0 2.4,.1 2.4,0 2.4,.1 2.4,0 2.4,.1 2.4,0 2.4,0 2.4,.1 2.4,0 2.4,0 2.4,0 2.4,.1 2.4,0 2.4,0 2.4,0 2.4,.1 2.4,0 2.4,0 2.4,0 2.4,0 2,0 0,36.3z" fill="#fff"/>
<path class="p" d="M67,463.2V499.6H558.6V462.9" stroke="#000000"/>
<path class="c" d="M67,463l.5,.1 .5,.6 .5,.3 .5,.6 .5-1 .5,.3 .5,0 .5-.6 .5,0 .5,.9 .5-.5 .5-.7 .5,.7 .5-.3 .5,.8 .5,.4 .5-.5 .5-1.2 .5,.7 .5-.5 .5-1.4 .5,.2 .5,.5 .5,.3 .5,.7 .5,.7 .5-.1 .5,.4 .5-.4 .5-.4 .5,.7 .5-.7 .5,.1 .5-1.2 .5-.2 .5-.1 .5,.1 .5,.1 .5,.2 .5,.8 .5-.8 .5,.8 .5-1.6 .5,1 .5,.2 .5,1.3 .5-.7 .5,.3 .5,1.3 .5-.9 .5-.3 .5-.3 .5-1.2 .5-.3 .5,1.6 .5-.9 .5,.7 .5-.7 .5,1.9 .5-.9 .5-.6 .5,.9 .5-1 .5,.8 .5-.9 .5,.2 .5,.5 .5,0 .5-.3 .5-.7 .5,.4 .5,0 .5-2.2 .5,2.1 .5-1 .5-.6 .5,.5 .5-.7 .5-.1 .5,.8 .5-.5 .5,1.2 .5,.2 .5-.8 .5,.8 .5-1.2 .5-.6 .5-.2 .5,.5 .5,.7 .5,.9 .5-.4 .5,.2 .5,.8 .5,.6 .5-.5 .5,1.1 .5-1 .5,0 .5,.2 .5-1.9 .5,.1 .5-.2 .5,.6 .5-.9 .5-.4 .5,.4 .5-1.1 .5,1.7 .5-1.4 .5,1.8 .5,.4 .5,.4 .5-.3 .5,.3 .5-.7 .5-.7 .5-.5 .5-.7 .5,.7 .5,.4 .5,.8 .5,1.6 .5-.7 .5-.9 .5,.8 .5-.2 .5,.3 .5-.1 .5-.3 .5,.5 .5-.6 .5,.2 .5-1.4 .5,.4 .5-1.5 .5-.2 .5,1.5 .5-.9 .5,.8 .5-.6 .5,.7 .5-.3 .5-.1 .5-.9 .5,2.1 .5-.5 .5,1 .5,1.1 .5,.1 .5-1.1 .5-.5 .5-.9 .5,.5 .5,.6 .5-.6 .5-.2 .5,.2 .5-1 .5-.7 .5,.7 .5,.9 .5-1.5 .5,1.1 .5-.1 .5-.1 .5,.5 .5-.1 .5-.6 .5-.6 .5-.3 .5-.8 .5,2.9 .5-.7 .5,.4 .5-.2 .5,.4 .5-.1 .5,1.2 .5-.4 .5-.3 .5,.3 .5,.2 .5-.2 .5-.8 .5,1.1 .5-2.5 .5-.1 .5-.1 .5-.8 .5,.4 .5-.5 .5,1.1 .5-.6 .5,1.2 .5-.2 .5,.1 .5,.8 .5-.9 .5,.2 .5-1.3 .5,.3 .5,.1 .5,0 .5,.2 .5,.7 .5-.6 .5,.4 .5-.4 .5,1 .5-.1 .5-.3 .5,.7 .5-.1 .5-.1 .5-.2 .5-.4 .5,.1 .5,.5 .5-.9 .5,.4 .5-.7 .5,.5 .5-1.3 .5,.4 .5,.2 .5,.5 .5-.8 .5,.3 .5-.2 .5,.6 .5,.1 .5-.4 .5-.7 .5,.9 .5-.9 .5-.7 .5,0 .5,0 .5-1.4 .5,1.3 .5-.7 .5,.9 .5,.3 .5,1.5 .5-1 .5,.5 .5,.1 .5-1.6 .5,.6 .5,0 .5,.5 .5-.5 .5,.9 .5,.6 .5,.2 .5-.7 .5-1.1 .5-.4 .5,.8 .5-.3 .5-.2 .5-.9 .5,1.9 .5,.5 .5-1.7 .5,.3 .5,.2 .5-1.1 .5,.3 .5,.2 .5,0 .5-.7 .5-.1 .5,.9 .5-1.3 .5,1.1 .5-1.5 .5,.1 .5-.2 .5-.6 .5,.3 .5,.1 .5-.5 .5,1.4 .5-.3 .5,.6 .5-.6 .5-.7 .5,.9 .5-1 .5,.9 .5-.8 .5-.7 .5-.9 .5,.1 .5,.7 .5-.4 .5-.2 .5,.7 .5-1.2 .5-.6 .5-.2 .5,.8 .5-.1 .5,.2 .5-.3 .5-.1 .5-.4 .5,.3 .5,.4 .5-.8 .5-.3 .5,.2 .5-.6 .5-.5 .5,.3 .5-.8 .5-.2 .5-.6 .5,.8 .5,0 .5-.4 .5-.7 .5-.4 .5,.5 .5-.7 .5-.4 .5,.9 .5-1.7 .5,.9 .5-.2 .5,.6 .5,.4 .5-.1 .5-.2 .5-.3 .5,.5 .5,.2 .5-.4 .5-.1 .5-.9 .5,.5 .5-1.2 .5,.5 .5,0 .5-.7 .5,.7 .5,.1 .5-.4 .5,.2 .5,.8 .5-2.3 .5-.2 .5-.1 .5-1.4 .5-.7 .5,.3 .5-.1 .5-.6 .5,.5 .5-.9 .5-.1 .5,0 .5-1.4 .5,1 .5-.2 .5,.5 .5,.9 .5,0 .5-.6 .5-.7 .5-.8 .5,0 .5-.8 .5,.2 .5,.4 .5-.2 .5-.5 .5,.1 .5-.4 .5-.5 .5-.1 .5-.7 .5,.2 .5-.5 .5-.2 .5-.1 .5-.6 .5-.3 .5,0 .5-.3 .5-1 .5,.8 .5-.6 .5-.2 .5-.2 .5-1.1 .5,.1 .5-.8 .5,.7 .5-.9 .5-.1 .5,1 .5-.3 .5-.5 .5-.8 .5,.1 .5-1.1 .5-.4 .5,.1 .5,.3 .5-.8 .5-.4 .5-.9 .5-.2 .5-.5 .5-1 .5-.1 .5-.2 .5,.1 .5-.3 .5-.1 .5,.4 .5-.9 .5-.4 .5,0 .5-.6 .5,.2 .5-.5 .5,.3 .5-.5 .5,0 .5,0 .5,0 .5-.7 .5-.4 .5-.2 .5-.3 .5-.5 .5-.4 .2,.2 .2,.2 .1,.1 .1-.1 .2-.3 .2-.2 .2,.3 .2,.3 .1,.1 .1-.1 .2-.2 .2-.2 .2,0 .2-.1 .1,0 .1,0 .2,0 .2,0 .2,.2 .2,.1 .1,.1 .1,.1 .2,0 .2,0 .2,0 .2-.1 .1,0 .1-.2 .2-.3 .2-.3 .2,0 .2-.1 .1,0 .1,0 .2-.1 .2-.1 .2-.1 .2,0 .1-.1 .1,0 .2-.1 .2-.1 .2-.1 .2,0 .1,0 .1-.1 .2-.1 .2-.1 .2,.3 .2,.3 .1,.1 .1-.1 .2-.2 .2-.2 .2,.2 .2,.2 .1,.1 .1,0 .2,.1 .2,0 .2,.1 .2,.1 .1,0 .1,0 .2,0 .2,0 .2,0 .2-.1 .1-.1 .1,.1 .2,0 .2,.1 .2,.1 .2,.2 .1,.1 .1-.1 .2-.1 .2-.1 .2,0 .2,0 .1,0 .1,0 .2,0 .2-.1 .2,.1 .2,.1 .1,0 .1,.1 .2,0 .2,.1 .2-.1 .2,0 .1,0 .1,.1 .2,.3 .2,.2 .5-.6 .5,.8 .5,.4 .5-.1 .5,.2 .5,.3 .5,.2 .5,.3 .5,.3 .5,0 .5,.2 .5,.6 .5-.1 .5,.3 .5,1 .5,.2 .5,.1 .5,.3 .5-.3 .5,.1 .5,.6 .5,1 .5,1 .5,0 .5-.3 .5,1 .5-.7 .5-.4 .5,.6 .5,.4 .5-.1 .5,.3 .5,.5 .5-.5 .5,.3 .5,.4 .5,.5 .5,.4 .5,0 .5,.8 .5-.1 .5,.4 .5,.4 .5-.6 .5-.5 .5,.1 .5,.8 .5,.2 .5,.4 .5,.3 .5,.4 .5,.5 .5-.1 .5,.2 .5,1 .5,.4 .5-.4 .5,.3 .5,0 .5,.6 .5-.2 .5,.6 .5-.5 .5,0 .5,1.1 .5,.8 .5-.6 .5,.2 .5,.2 .5,.5 .5,.2 .5-.3 .5,1.5 .5,.2 .5,0 .5,1.1 .5-.7 .5,.5 .5,.3 .5-.3 .5-.5 .5,.1 .5,.1 .5,.7 .5,.7 .5-.3 .5,.1 .5-1.2 .5,1.6 .5-1.7 .5,.8 .5,.9 .5,.8 .5,.9 .5,.5 .5,.2 .5-1.5 .5,.4 .5,0 .5,.1 .5,.9 .5-.8 .5-.2 .5-.2 .5,1.5 .5,0 .5,.8 .5,.3 .5,.2 .5-.6 .5,0 .5,.7 .5-1.2 .5-.1 .5,1.5 .5-.6 .5,1.2 .5-.1 .5-.8 .5,.8 .5-.4 .5,.3 .5-.5 .5,.3 .5-1 .5,.2 .5,1.1 .5,1.2 .5,.6 .5,.8 .5-.7 .5,.1 .5,.5 .5-.7 .5,1 .5-.7 .5,.8 .5,0 .5,1.1 .5-.2 .5,.1 .5-1.4 .5,.6 .5-1.3 .5,.4 .5-.5 .5,.8 .5-.2 .5,0 .5,.1 .5,1.3 .5-.4 .5,.3 .5-.9 .5,.3 .5-.1 .5,0 .5,.1 .5,1.1 .5-.2 .5,1.1 .5-.9 .5,.3 .5-1 .5,.2 .5-.1 .5,.1 .5,1.1 .5,.8 .5-.5 .5-.2 .5,.3 .5,.7 .5-.7 .5,.1 .5-.9 .5,.3 .5-1 .5-.1 .5,1.3 .5,.3 .5,.1 .5,.3 .5,0 .5,.1 .5,.7 .5-.8 .5,.7 .5-.4 .5,1.3 .5-1.6 .5-.2 .5,.6 .5,.5 .5-.3 .5-.6 .5,.3 .5,.9 .5-.7 .5,.4 .5,.4 .5,.8 .5,.2 .5,.7 .5-.3 .5,.1 .5-1.2 .5,.2 .5-.4 .5,0 .5,0 .5,.8 .5-1.3 .5,.6 .5,.4 .5,.3 .5-.1 .5,0 .5-.1 .5,.6 .5-.2 .5,.1 .5,.1 .5-1.8 .5,.7 .5-.7 .5,.1 .5,.8 .5,.2 .5,.3 .5,1.4 .5,.2 .5-.9 .5,1.1 .5-1.2 .5,.1 .5-.3 .5,.9 .5-.5 .5,.4 .5,.1 .5-.2 .5,.7 .5,.5 .5-.7 .5,.6 .5,1 .5-.4 .5-.8 .5-.5 .5-.3 .5-.4 .5,.1 .5-.4 .5,.6 .5-.2 .5,.1 .5,0 .5-.1 .5,.1 .5,.5 .5-.7 .5,1.1 .5-.5 .5,.7 .5,1.5 .5-1.2 .5,.8 .5-1.6 .5,.2 .5,.4 .5,.4 .5-.9 .5,.3 .5-1.2 .5,1 .5-.6 .5-.4 .5,.2 .5-.3 .5,.1 .5-.5 .5,.6 .5-.7 .5,1 .5-.5 .5,.8 .5-.2 .5-.5 .5-.4 .5,1.3 .5-.6 .5,0 .5-1.2 .5,.8 .5-.9 .5,.5 .5,1.4 .5,.2 .5,1.5 .5,.1 .5-.1 .5-1 .5,.3 .5-2 .5-.3 .5,1.7 .5-1.6 .5,.6 .5,1.6 .5-.7 .5,.6 .5-.8 .5-.4 .5-.3 .5,.8 .5-.3 .5,.5 .5-.6 .5,.2 .5,.6 .5-.2 .5,.5 .5,.3 .5-.4 .5,1.1 .5-.6 .5,.7 .5-1.1 .5-.1 .5-.9 .5,.3 .5,.1 .5-.1 .5,.2 .5-.2 .5,.7 .5,.1 .5-.2 .5-1.5 .5,.9 .5-.1 .5,.6 .5-.6 .5,.9 .5-1.1 .5,.3 .5-1 .5-.8 .5-.5 .5,1.6 .5,.2 .5,.5 .5,1.4 .5-1.6 .5-.4 .5-.6 .5,.4 .5-.8 .5,.6 .5,.4 .5,1.4 .5,.1 .5-.9 .5,.8 .5-.3 .5-.3 .5,.3 .5-.6 .5-1.1 .5,1.1 .5-.3 .5-.1 .5,.9 .5,.7 .5,.9 .5,0 .5-.2 .5-.4 .5,.3 .5-.6 .5,1 .5-1.6 .5,.3 .5-.5 .5,0 .5-.7 .5,.2 .5-.5 .5,.6 .5-.5 .5-.5 .5,0 .5,.7 .5-.1 .5,.5 .5,.1 .5,.1 .5-.6 .5,.2 .5-.5 .5-.2 .5,1.5 .5-.2 .5,.9 .5,1.1 .5,.3 .5-.5 .5-1.2 .5,.6 .5,0 .5-.4 .5-.1 .5-.9 .5-.3 .5,.5 .5,0 .5-1.4 .5,1.8 .5,.8 .5-.3 .5,.7 .5-.6 .5-.4 .5,1.3 .5-.1 .5,.2 .5,.4 .5,.4 .5-.7 .5-.7 .5-.1 .5-.6 .5,0 .5,1.1 .5,0 .5,.6 .5-.3 .5,0 .5-.5 .5-1.4 .5,.5 .5,.3 .5-1 .5-.4 .5,.1 .5-.3 .5-.1 .5,1 .5,.1 .5,.5 .5-.4 .5,.2 .5,.4 .5-.3 .5-.8 .5,1.8 .5,0 .5-.7 .5,.9 .5-1.8 .5,1.4 .5-.3 .5-.6 .5-.5 .5,.6 .5,.5 .5,.5 .5-.3 .5,1.3 .5-1.1 .5-.7 .5,1 .5-1.3 .5-1 .5-.6 .5,0 .5-.7 .5,1.5 .5,.5 .5,1.9 .5,.5 .5-.2 .5-1.4 .5,1.8 .5-.4 .5-1.1 .5,.5 .5,1.6 .5-1 .5-.1 .5-1.4 .5,.9 .5-1.3 .5-1.4 .5,.5 .5,1.2 .5,0 .5,.9 .5-1 .5,1.1 .5-.5 .5,.4 .5,1 .5-.3 .5-.4 .5,.1 .5-.5 .5-.3 .5-.2" stroke="#000000"/>
</g>
<path d="M54.5,505.3H548.4M102.0,505.6L82.5,514.7M200.6,505.6L181.1,514.7M299.2,505.6L279.7,514.7M397.8,505.6L378.3,514.7M496.4,505.6L476.9,514.7M151.3,505.6L141.3,510.3M249.9,505.6L239.9,510.3M348.5,505.6L338.5,510.3M447.1,505.6L437.1,510.3" fill="none" stroke="#000" stroke-width="1.6"/><path d="M535,511.5L881.2,350.0" fill="none" stroke="#000" stroke-width="2"/><path d="M55.1,505.3L67,499.6" fill="none" stroke="#000" stroke-width="1.2"/>
<path d="M837.3,390.3L646,482.25" fill="none" stroke="#000" stroke-width="2" stroke-dasharray="11.5 8.2"/><path d="M627.8,491L641,480.2L644.7,487.9Z" fill="#000"/>
<g><text x="25.2" y="541.5" text-anchor="middle" font-size="20.5">5.460</text><text x="123.5" y="541.5" text-anchor="middle" font-size="20.5">5.465</text><text x="221.8" y="541.5" text-anchor="middle" font-size="20.5">5.470</text><text x="320.1" y="541.5" text-anchor="middle" font-size="20.5">5.475</text><text x="418.4" y="541.5" text-anchor="middle" font-size="20.5">5.480</text><text x="922.6" y="22.4" font-size="20.5">-30</text><text x="922.6" y="69.8" font-size="20.5">-40</text><text x="922.6" y="117.2" font-size="20.5">-50</text><text x="922.6" y="164.6" font-size="20.5">-60</text><text x="922.6" y="212.0" font-size="20.5">-70</text><text x="922.6" y="259.4" font-size="20.5">-80</text><text x="922.6" y="306.8" font-size="20.5">-90</text><text x="118.3" y="576.5" font-size="25.1">Frequency (GHz)</text><text transform="translate(982.3,255.5) rotate(-90)" font-size="25.3">RF signal (dB)</text><text x="786.2" y="440" font-size="25.3">Increasing</text><text x="837.4" y="472" font-size="24" class="sy" stroke="#000" style="stroke-width:0.15">Δ</text><text x="557.5" y="517.7" font-size="24.1" stroke="#000" stroke-width="0"><tspan class="sy" font-size="23.2">Δ=2π(</tspan><tspan font-weight="bold">8.0 GHz</tspan><tspan class="sy" font-size="23.2">)</tspan></text><text x="845" y="380" font-size="24.1" fill="#008080" stroke="#008080" stroke-width="0"><tspan class="sy" font-size="23.2">Δ=2π(</tspan><tspan font-weight="bold">5.8 GHz</tspan><tspan class="sy" font-size="23.2">)</tspan></text></g>
</svg>
</body></html>
